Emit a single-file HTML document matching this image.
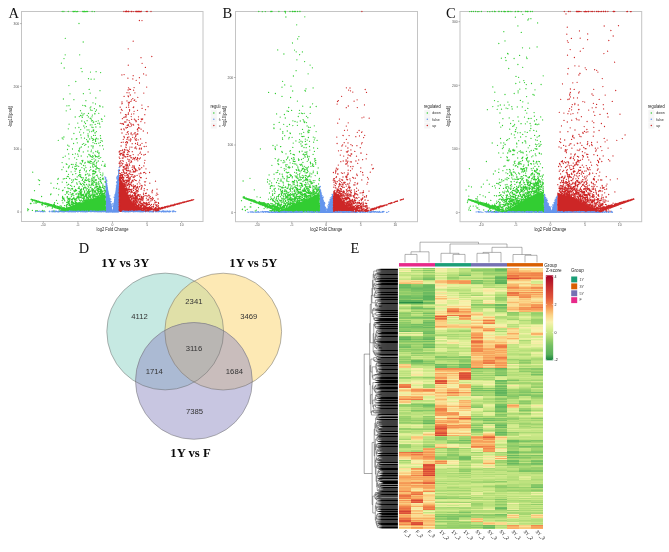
<!DOCTYPE html>
<html><head><meta charset="utf-8"><style>
html,body{margin:0;padding:0;background:#fff;width:669px;height:552px;overflow:hidden}
svg{display:block;font-family:"Liberation Sans",Arial,sans-serif}
</style></head><body>
<svg width="669" height="552" viewBox="0 0 669 552">
<rect width="669" height="552" fill="#fff"/>
<rect x="21.5" y="11.5" width="181.5" height="210" fill="none" stroke="#c4c4c4" stroke-width="1"/>
<path d="M105.5 212.6L105.5 177L112.5 210.8L119.1 167L119.1 212.6Z" fill="#6495ed"/>
<path d="M105.5 212L105.5 194L95.5 198L80.5 203L65.5 208L57.5 211.2L57.5 212Z" fill="#32cd32"/>
<path d="M119.1 212L119.1 176L123.1 183L127.1 193L131.1 201L137.1 207L143.1 210.2L147.1 211.2L147.1 212Z" fill="#cd2626"/>
<path d="M35.5 211.2h0m.1 .5h0m1.4-.4h0m.2 .1h0m1.4-.1h0m.9-.2h0m1.1 .6h0m.6-.6h0m.8 .4h0m.5 .1h0m.1-.4h0m.7 .6h0m.3-.5h0m1.4 .4h0m4.3-.2h0m0 .1h0m.1 0h0m.2-.3h0m.2 .4h0m.1-.3h0m1.9 .3h0m.1-.6h0m.4 0h0m.1 .6h0m.1 0h0m.4-.6h0m0 .7h0m.2-.3h0m.1-.1h0m.1 .1h0m.2-.4h0m.2 .1h0m.6 .6h0m.9-.7h0m.1 .7h0m.3-.6h0m.1 .2h0m.1 .3h0m.1 0h0m.4 0h0m.1-.2h0m.2-.4h0m.2 .3h0m1 .5h0m0 0h0m.1 0h0m.1-.1h0m.6-.6h0m0 .6h0m.1 0h0m.2 .1h0m1.2-.3h0m.1-.4h0m.3 .2h0m.3-.2h0m.3 .4h0m.1-.5h0m.2 .6h0m.3-.2h0m.1 .1h0m.3 .2h0m.1-.2h0m.1-.6h0m.4 .7h0m.1-.5h0m.1 0h0m.4 .2h0m.1 .2h0m.3-.4h0m0 .7h0m0 0h0m.1-.2h0m.1-.7h0m.4 .1h0m.1 .7h0m1.4-.3h0m.3 .2h0m.4-.3h0m.5 0h0m.5 .3h0m.2 0h0m.3-.2h0m.6 .3h0m.1-.1h0m.2-.3h0m0 .4h0m.3-.2h0m.2-.2h0m.1-.4h0m.3 0h0m.1 .7h0m0-.2h0m.1 .3h0m.4-.3h0m.1-.2h0m0 .3h0m.8-.3h0m.2 .5h0m0-.5h0m.1 .2h0m0-.1h0m.2 .2h0m.2 .3h0m.3-.7h0m0 .6h0m.2-.4h0m.4 .3h0m.3 0h0m.7 .2h0m.1-.7h0m.5 .4h0m.4-.2h0m0 .2h0m.5 .3h0m.5-.3h0m0-.2h0m1.1-.2h0m.6 .6h0m.2 0h0m.1-.1h0m.1-.5h0m.5 0h0m.1 .4h0m.4-.4h0m.3 .2h0m.6-.1h0m.8 .5h0m.4-.5h0m.1 .3h0m.3 .1h0m.2-.4h0m.2-.1h0m.9 .5h0m0 0h0m0-.3h0m.1 .5h0m.3-.1h0m.1-.6h0m.2 .4h0m.5 0h0m.9-.1h0m.2 .4h0m.2-.7h0m.6 .6h0m.1-.6h0m1 .6h0m.5-.7h0m.1 0h0m.1 .5h0m.4 0h0m1.3-.3h0m.5 .3h0m.4-.1h0m.1-.5h0m0 .4h0m.1-.3h0m0 .6h0m.3-.7h0m.6 .5h0m.2-.5h0m.4 .1h0m.1 .5h0m.8-.4h0m.5 .2h0m.2 .2h0m.1-.5h0m.1 .2h0m.2-.1h0m.1 .4h0m.1-.2h0m.1-.1h0m0-.2h0m.6 .1h0m.1 .6h0m0-.5h0m.4 .4h0m.4-.3h0m.4-.3h0m.9 .6h0m0 .2h0m.2-.1h0m.2-.5h0m.4 .4h0m.1-.2h0m.3 .2h0m0-.3h0m.1 .4h0m.5-.2h0m.7 .1h0m.1-.5h0m.1 .6h0m.2-.8h0m.8 .8h0m.8-.2h0m.1 .2h0m0-.4h0m.1-.2h0m0 .1h0m.1 .1h0m0-.2h0m.1-.2h0m0 .7h0m.5-.4h0m.7 .5h0m.2-.4h0m.3-.4h0m.3 .7h0m.2-.5h0m.1 .3h0m.1-.5h0m.2 .1h0m0 .5h0m.2-.5h0m.1-34.2h0m.2 34.8h0m.1-32.8h0m.3-1.3h0m.1 .9h0m.1 32.9h0m.1-.3h0m.1-28.5h0m0 28.8h0m0-33.6h0m.1 33.5h0m.1 .3h0m0 .2h0m.2-.4h0m.2 .3h0m0-27.9h0m.1 1.7h0m0 25.9h0m0-31.5h0m.1 .8h0m0 30.4h0m.1-29.8h0m.1 4h0m0 26.6h0m0-24.9h0m.1 .4h0m0-3.6h0m.1 28.1h0m.1-24h0m0 23.9h0m.4-20.6h0m.2 20.3h0m.2 .1h0m.1-.2h0m.7 .5h0m0-.5h0m.1-.4h0m.2 .1h0m.1 0h0m.1-12.3h0m.5 2.1h0m0-2.4h0m0-2.7h0m.3 15.4h0m.1 .3h0m.1-10.1h0m.3 10.2h0m.1-12.4h0m.2 5h0m.3-2.5h0m0 5.7h0m.1-1.1h0m.6-2.2h0m.1 1.5h0m.2 6.2h0m.1 0h0m.1 0h0m0-5.2h0m0 4.7h0m.2 0h0m.2 .6h0m0-.6h0m.1 .3h0m.1-8.1h0m.2 1.3h0m.1 4.6h0m.2 2.2h0m0-5.8h0m.1 5.7h0m.4 .2h0m.1-14.5h0m.5 2.1h0m.2-1.6h0m.1-.6h0m0 13.9h0m0 .6h0m0 0h0m.1-16.3h0m.1 16.6h0m0-17.5h0m.1 1h0m.1 15.7h0m1-23h0m0-2.3h0m.1 25.7h0m.1 .1h0m.1-29.3h0m.1-4.4h0m.1 33.6h0m.1-29.8h0m.1 30.1h0m0-32.7h0m0-2.2h0m0 1.1h0m.2 33.6h0m.1-.5h0m.3 .3h0m.2-35.1h0m0-.3h0m.3 35.6h0m0-33.4h0m.3-7.8h0m.2 1.4h0m0-.4h0m.3-.4h0m.2-3.7h0m.1 2.2h0m.3-2.3h0m0 44.1h0m0 .1h0m.2-44.4h0m2.4 44.3h0m.3 .4h0m.1-.4h0m.2 .3h0m.3-.5h0m.4 .5h0m.1-.4h0m0-.2h0m0 .3h0m.9-.2h0m.3 .7h0m.4-.2h0m.5 .2h0m.3-.7h0m.9 .7h0m.3-.6h0m.4 .4h0m.5 .2h0m.7 0h0m0-.2h0m.7-.4h0m.1 .4h0m.3-.3h0m.3 .2h0m.2 .1h0m.6-.1h0m.1 0h0m.2-.4h0m.8-.1h0m.4 .4h0m.3 .1h0m.1 .2h0m.2-.3h0m.1 .1h0m.4 .3h0m.3 0h0m.4-.1h0m.2-.1h0m.2-.3h0m.5 .2h0m.4-.4h0m.5 0h0m0 .2h0m0 .3h0m.8-.3h0m.3 0h0m.1 .4h0m0-.6h0m.6 .6h0m.1-.1h0m.3-.4h0m.2 0h0m.5 .5h0m.2 0h0m0-.5h0m.1 .2h0m.1-.4h0m.5 .6h0m.4 .3h0m.2-.8h0m.1 0h0m.2 .4h0m.1 0h0m0-.2h0m.1-.2h0m.2 .2h0m.1 .4h0m.3-.6h0m.1 .7h0m.2 .1h0m.4-.8h0m0 .5h0m.5-.4h0m.1 .2h0m0 .1h0m.3 .4h0m0-.6h0m.9 .1h0m.7-.4h0m.6 .7h0m.3 .1h0m.2-.1h0m.4-.6h0m.8 .2h0m1 .5h0m1-.5h0m.4-.3h0m.1 .3h0m0 .5h0m.5 0h0m.4-.6h0m.1 .3h0m.2 0h0m.2 0h0m.4 .3h0m.2-.1h0m0-.3h0m.4 .3h0m.5 .1h0m.3-.2h0m0-.4h0m.2 .2h0m.3 .4h0m.2-.8h0m.1 .9h0m0-.4h0m0-.4h0m.1 .5h0m0-.5h0m1.6 .1h0m.4-.2h0m.1 .8h0m.1-.8h0m.2 .6h0m.7-.1h0m0 .2h0m.1-.1h0m1.1 .2h0m.2 .1h0m.2-.7h0m.1 .4h0m.2-.5h0m.9 .4h0m.1-.3h0m0 0h0m.1-.2h0m1.2 .3h0m.1 .4h0m.4 0h0m.1 .2h0m0-.1h0m.1-.3h0m.5 0h0m.4-.2h0m.1-.1h0m.2-.2h0m.5 .2h0m0 .6h0m.2-.6h0m.3-.1h0m.4 .7h0m.4-.4h0m.1-.1h0m0 .4h0m.7 0h0m.1 .1h0m.2-.1h0m0 .1h0m0-.6h0m1.1 .6h0m.1-.1h0m.2-.7h0m.2 .3h0m.5 0h0m.2-.2h0m.3 .6h0m.5 .1h0m.3 0h0m0-.4h0m.1 .1h0m.1 0h0m.1 .1h0m.1 0h0m0-.5h0m.2 .5h0m0 .2h0m.1-.7h0m.1 .4h0m.1 .2h0m.6-.3h0m1.6-.3h0m.7 .8h0m.1-.6h0m.2-.3h0m0 .6h0m.7-.6h0m1.1 .6h0m.7 0h0" stroke="#6495ed" stroke-width="1.3" stroke-linecap="round" fill="none"/>
<path d="M27.6 209h0m.2 1.7h0m.8-1.4h0m1.8-5.8h0m.6 0h0m.1-3.9h0m0-.1h0m.1 0h0m0 .1h0m0-.1h0m.2 0h0m.1 .2h0m0 0h0m0-.1h0m.5 .2h0m.2-.1h0m0 0h0m.1 .2h0m.1 .1h0m0 1.2h0m0-1.3h0m0 10.5h0m.1-10.6h0m.2-27.6h0m0 27.9h0m0-.2h0m.2 .2h0m0 .1h0m.1-.2h0m.1-.1h0m.8 .7h0m.1 2.5h0m0-2.8h0m0-.1h0m.3 .1h0m.1 .3h0m.1-9.9h0m0 9.8h0m0 .2h0m0-.1h0m0-.3h0m.1 .4h0m.1-.2h0m0 .3h0m.4-.3h0m.1 0h0m0 0h0m.1 .4h0m.1 .2h0m.1-.4h0m0 2.1h0m.3-1.8h0m0-.3h0m.1 10h0m0-9.8h0m.1-.1h0m.1 .5h0m.1 .1h0m.1 1.7h0m0-1.8h0m.1-.4h0m.1 .1h0m.2 0h0m.1-.1h0m0 .4h0m.3 1.1h0m.1 8.2h0m0-9.4h0m.1 .5h0m0-.4h0m.2 .4h0m.1 0h0m.2-.3h0m0 0h0m.1 0h0m0 .4h0m.2 0h0m.1-.3h0m.1 .3h0m.1-22h0m.2 21.7h0m0-.1h0m0 .8h0m0 0h0m.1-.6h0m.1-.2h0m.3 .6h0m0-.3h0m0 .5h0m.1 .1h0m.1-17.7h0m.2 17.7h0m.1-21.8h0m.2 22h0m0-.9h0m0 .3h0m0 .4h0m.1 .2h0m0-.4h0m.6 .4h0m.2 .2h0m.6-.2h0m.1 .2h0m0 0h0m.2-6.2h0m.1 8.2h0m0-2.2h0m.1 .1h0m.2 .3h0m.1 1.2h0m.2-.8h0m.1-1h0m0 .9h0m.1-.4h0m.1 2.3h0m.1 5.3h0m0-7.9h0m.3 1h0m0 .1h0m0-.2h0m.1 .1h0m.1-.5h0m.1 .7h0m.2-.5h0m0-.1h0m.1 .3h0m.1-.2h0m.2 .3h0m.1 .2h0m0-.5h0m.1-.3h0m.2 8h0m0-7.8h0m.1 1h0m.1-.1h0m0-.8h0m.3 0h0m0 .6h0m.1-.1h0m.1-.4h0m.2-.3h0m0 1.3h0m.3-.7h0m0 .7h0m.1-.5h0m0 0h0m0 .2h0m.1 .4h0m.1-.7h0m0-.4h0m0 3.5h0m.3-3.4h0m0 .4h0m.4 .9h0m.1-.2h0m.2-1.1h0m.1 .1h0m.2 1.3h0m0 .1h0m0-.6h0m0 .4h0m.1-.4h0m.2 0h0m.2 .7h0m.2 .2h0m0 1.1h0m0 .2h0m.1-2.8h0m.1 .9h0m0 .7h0m.4-.2h0m.1-1.3h0m.1 1h0m.1-.2h0m.2 1h0m.1-.1h0m.1-1.7h0m0 .6h0m.2 .1h0m0 0h0m.3-.1h0m.1 .3h0m.2 1.1h0m.2-1.2h0m0 1.1h0m.1-1.2h0m.2 1.3h0m.2 0h0m0 0h0m0-11.1h0m.1 11.2h0m.1-1h0m.2-11h0m0 10.7h0m0-21.4h0m.4 21.9h0m0-.5h0m.2 1.4h0m0-.1h0m.1 .2h0m.1-1.3h0m.1 .6h0m.1-.2h0m.2 3.1h0m.1-2.7h0m0 2.2h0m.1-1.6h0m.3 .1h0m0 .4h0m0-1.1h0m0 1h0m0-.4h0m.1 0h0m0 .7h0m.1-1.5h0m.1 .4h0m.1-.8h0m0 1.3h0m0-1.2h0m.1 1.7h0m.1-1.8h0m.3 .6h0m0 1h0m0 .3h0m.1-1.3h0m0 1.1h0m.1-18.8h0m0 17.9h0m.2-.2h0m0 .9h0m.1-1.1h0m0 5.5h0m0-4.2h0m.1-2.7h0m.1 1.4h0m.1 1.6h0m0 .5h0m.1-.3h0m0-1.7h0m.1-2.9h0m0 2.9h0m.3 1.2h0m.1-.2h0m.3-.6h0m0 .1h0m.3 0h0m.1 1.9h0m0-.3h0m.1-.9h0m0 .9h0m.1-1.6h0m.3 2h0m.1-.7h0m0 .5h0m.1-19.5h0m.1 12h0m.5 6.6h0m0-.8h0m.3 2.2h0m.2-24.6h0m.1 19.6h0m0 4.9h0m.1-.9h0m0-.3h0m0-.7h0m.1 1.6h0m.1-.1h0m0-28.5h0m.1 28.4h0m0-.7h0m.1 .1h0m.1 1.4h0m0-1.8h0m0-28.3h0m.1-38.1h0m0 67.5h0m.2-13h0m.4-5.6h0m0 19.3h0m0-1h0m.1 .2h0m0-.9h0m.2 0h0m0 2.2h0m0-1.9h0m0-.5h0m.2 .6h0m0 .9h0m.1 .5h0m.1-.2h0m0-.3h0m.2 .5h0m.1 .7h0m.2-1.4h0m.1-2.1h0m.1 3.2h0m.1-1.6h0m0 .4h0m.5 .8h0m0-1.3h0m.5-144.1h0m0 143h0m.1 2.4h0m0 .8h0m.1-.8h0m.1 1.3h0m0-.1h0m.2-40.1h0m.1 40.3h0m.1-47.4h0m0 46.3h0m0-1.4h0m.1-25.4h0m0 25.8h0m0-7.4h0m0-62.5h0m0-126.5h0m.1 196.5h0m0 1.2h0m.1-.6h0m0 1.5h0m.1-12.4h0m0-7h0m0 6.7h0m.1-.9h0m.1 12.7h0m.1-.5h0m0-10h0m.1 4.1h0m.1 5.1h0m.1-50.5h0m0-18.3h0m0 51.1h0m0 19.8h0m.2-2.3h0m0-28.8h0m.1 20.3h0m0-100.2h0m0 110.2h0m0-42.1h0m.1 42.1h0m0-11.1h0m.1 10.2h0m.1 .1h0m.1-9.9h0m.1-187h0m0 125.5h0m.1 61.1h0m0-139.5h0m.1 152h0m.1-142.6h0m.1 139.7h0m.2-2.1h0m0-5.6h0m.1 8.8h0m.1-.7h0m0 .4h0m0-29.9h0m.1 9h0m0 22.2h0m0-9h0m.1 7.9h0m.3-14.1h0m0-139.8h0m.1 101.3h0m0-117.8h0m.1 172h0m.8-4.6h0m0-94.9h0m0 53h0m.2 7.3h0m0 7.3h0m0 28.7h0m.1-1.7h0m.1-34h0m0 21.6h0m0-10.5h0m.1 9.1h0m0 10.8h0m.1 4h0m0-1.3h0m0-.8h0m.1-98.5h0m0 58.6h0m0 43.1h0m.2-10.6h0m.1 5.6h0m0-17.4h0m.1 7.7h0m0-16.5h0m.1 28.3h0m0-6.7h0m.1-1.3h0m0-47.1h0m.2-4.3h0m.2 55.8h0m0-1.2h0m0-11.8h0m.2 12.9h0m0 3.1h0m0-12.5h0m.1-180h0m.1 117.3h0m0 59.8h0m0 10.2h0m0-22.1h0m.1 24.8h0m0 1.2h0m0 .9h0m0-35.8h0m.1 30.6h0m0-24.1h0m.1 10.1h0m.1-.1h0m0 10h0m0-40.4h0m.1 48h0m0-34.9h0m.1-81.4h0m.1 119.9h0m0-2.9h0m0-56.4h0m0-40.5h0m.1 18.5h0m0 34.6h0m.1 40.6h0m.1 3.7h0m0-37.2h0m.1 38.9h0m.1-.6h0m.1-4.2h0m0 1.2h0m.1-22.7h0m0 19.9h0m0-9.8h0m.2 16.5h0m.1 .1h0m0-111.4h0m.1 111.6h0m.1-7.2h0m.1-5.5h0m0 12.9h0m0-96.4h0m.2 76.1h0m.2 4.8h0m.2 16.3h0m.1-6.6h0m.1 3h0m0-31h0m.1 33h0m0-10.1h0m.1 9.2h0m.1-7.4h0m0-32.1h0m.1 35.3h0m0 6.9h0m.1-1.8h0m0-3.3h0m.1-15.3h0m0 2.4h0m0 11.1h0m0-17.1h0m.1 20.1h0m0-63.7h0m0 41h0m0 24.3h0m0 .3h0m.4-5.6h0m.1-5.5h0m0 1.4h0m0-.3h0m0-5.4h0m.1 13.3h0m0-1.3h0m.1-1.5h0m0 4.4h0m0-55.1h0m0 18.2h0m.1 21.1h0m0 16.4h0m.1-30.2h0m0-20.1h0m.1 49.7h0m0-22.3h0m.1 24h0m0-.3h0m.1-41h0m0 39.6h0m0-192.6h0m.1 192.2h0m.1-5.2h0m.1 3.8h0m0 1.9h0m.1-192.6h0m0 182.2h0m.1-13.8h0m.1-36.5h0m.2 52.2h0m0 7.3h0m.1-103.3h0m0 98h0m0-64.2h0m.1-122h0m0 194h0m0-15.1h0m.1-178.8h0m0 186.8h0m.1-6.7h0m0 13.5h0m0-1.9h0m.2-16.8h0m0 13h0m.2-41.7h0m0 41.2h0m.2 .8h0m0 3.7h0m0-35h0m0 23.1h0m.3-25.2h0m0-154.9h0m0 189.6h0m0 .2h0m0-30.1h0m.1 30.5h0m0-190.2h0m0 105.5h0m.1 61.9h0m0 12.2h0m0 8.8h0m.1 3.8h0m0-49.9h0m0-26h0m0 63.2h0m0 13.3h0m0-14.4h0m.1 14.6h0m0-1.8h0m.1-3.7h0m.1-9.6h0m.1-107.9h0m0 97.8h0m0-14.9h0m0 37.4h0m0-28.2h0m.1 26.2h0m0-30.4h0m0 24.8h0m.3-28.3h0m0-26.8h0m.1 23.7h0m.1 31.2h0m0-3.3h0m0 11.8h0m0 .4h0m0-.6h0m0 2.1h0m0-35.7h0m.1 31.5h0m0 2.7h0m.1-4.6h0m0 5.6h0m0-13.3h0m0-178.9h0m.1 171.2h0m.1 17.3h0m0-40.9h0m0-20.6h0m.1 58.4h0m.1-17.5h0m.1 18.3h0m0-32.1h0m.1 37.9h0m0-19.5h0m0-7.3h0m.1-34.1h0m.1 61.2h0m.1 0h0m.1-7h0m.1 6h0m0-191.5h0m0 .1h0m0 142.6h0m.1-31.1h0m0 80.7h0m.1-.6h0m0-10.1h0m.1 3.7h0m0-.5h0m.2 1.4h0m0-9.3h0m.1 6.3h0m0 .6h0m0-39.1h0m0 41.6h0m.1 5.6h0m0-9.7h0m.1 .6h0m0 9.3h0m0-15.4h0m0 14.7h0m0 .8h0m.1-28h0m0 27.8h0m.1-52.9h0m0 15.7h0m0 31.1h0m.1 .6h0m.1-1h0m0-69.5h0m.1-104h0m0 151.8h0m0 23.9h0m0-1.6h0m.1-47h0m0 45.9h0m0 7.3h0m0-16.8h0m.1-5.3h0m0 9.8h0m0-39.9h0m0 52.1h0m.1-16.8h0m0 15.4h0m0-85.7h0m0 81.1h0m.1 5h0m0-53.7h0m0 39.6h0m.1 14.4h0m.1-32.3h0m0 29.7h0m0-28.1h0m0-40.2h0m.1-77.3h0m0 119.6h0m.1 19.1h0m0-21.1h0m.1 22.2h0m.1 .3h0m0-18.6h0m0-28.5h0m0 55.6h0m.1-10.6h0m.1-.6h0m0-29h0m0 20h0m.2 17.9h0m0-11.4h0m0-19.6h0m0 27.2h0m.1-6.6h0m0 12.5h0m0-19.2h0m0-68.5h0m0-4.8h0m.1 80.3h0m0 2.5h0m.1-18.5h0m0 1.7h0m0-47.1h0m.1 67.2h0m0-61.8h0m.1 67.6h0m0-9.7h0m0 8h0m.1-3.8h0m0 5.5h0m.1-12.9h0m0-121.3h0m.1 129.3h0m0-2.7h0m0-17.5h0m0 18.2h0m0-39.7h0m.1 38.4h0m0-47.4h0m0-9.2h0m.1 62.4h0m0-36.2h0m0 20.5h0m0 8.4h0m.1 .2h0m0-4.2h0m.1 7h0m0-5.9h0m.1 1.8h0m0 3.2h0m.1-74h0m0-7.8h0m0 78.4h0m.1-24h0m0-51.7h0m0 44.7h0m0 31.2h0m0 3.3h0m.1-17.5h0m0 17.9h0m.1-123.8h0m0 126.3h0m.1-17.6h0m0 14.6h0m.1 .3h0m0-77.9h0m.1 26.9h0m0 41.8h0m.1-24.2h0m.1-.6h0m0 18.1h0m0 22.5h0m0 0h0m.1-190.4h0m.1 93.8h0m0 95.7h0m.1-40.7h0m0 34h0m0-10.9h0m0 12.2h0m0 6.4h0m.1-87.1h0m.1 80.4h0m.1 3.3h0m0-156.6h0m.1 109.9h0m0 45.9h0m0-2.1h0m0-184.2h0m.1 166.4h0m0-84.2h0m0 95.4h0m.1-177.5h0m0 187.3h0m0-3.7h0m0-29.7h0m0 24.2h0m0-1.3h0m.1-3.7h0m0 3.1h0m0-55h0m.1 67.1h0m0-56.3h0m0 38h0m.1-55.6h0m0 70.8h0m.1-2.7h0m.1 4.4h0m0 2.4h0m.1-87.2h0m0 54.9h0m.1 31.8h0m0-12.6h0m0 11.8h0m0 2.5h0m.1-.8h0m.1-189.8h0m.1 126.7h0m0 53.7h0m0-9.4h0m0-12.5h0m0-48h0m.1 75.8h0m.1-52.5h0m0 51.2h0m0 1.6h0m0-7.1h0m0 1.8h0m0-7.8h0m0-57.2h0m0 59.4h0m0-175.7h0m0 189h0m.1-18h0m0-19.3h0m.1 37.8h0m0-95.4h0m0 75h0m.1 15.7h0m.2-17h0m0-17h0m0 3.5h0m.1-154.1h0m0 183.7h0m0-8.3h0m.1-12h0m.1-51.6h0m0 51.2h0m.1 5.5h0m0 15.9h0m0-89.9h0m0 95.3h0m.1-1.1h0m0-6.2h0m0 5.6h0m.1-11.8h0m0-43.6h0m.1-43.7h0m0 66.9h0m0 26.3h0m0-19.4h0m0 20.7h0m.1 4.7h0m0-28.1h0m.1 16h0m0 13.7h0m0-24h0m0 .2h0m.1 23.1h0m0-1.1h0m.1-3.2h0m0 2.3h0m0-20.7h0m.1 11.9h0m0-178.5h0m0 115.1h0m.1 68.6h0m0-14.6h0m0 15.9h0m0-25.7h0m.1 13.7h0m0 10.1h0m0 3.2h0m0-58.2h0m.1 53.6h0m0 3.4h0m0-.5h0m0 1.2h0m.1 3.2h0m.2-5.9h0m.1-64.7h0m0-9.2h0m.1 71.1h0m0-3.3h0m0-73.1h0m.1 84.5h0m0-20h0m.2-6.1h0m0-17h0m0-15.6h0m0 59.1h0m.1-3h0m0-185.8h0m0 188.3h0m0-6.6h0m.1 7.1h0m0-1.6h0m.2-37.5h0m0 38h0m0 .9h0m0-49.1h0m.1 35h0m0-43.8h0m0-8.4h0m.1 28.6h0m0 28.8h0m0 6.6h0m0-62.3h0m0 56.4h0m0 8.2h0m0 .3h0m.1-59.2h0m.1-4.3h0m0 24.7h0m0 38.6h0m0-4.4h0m.1-78.9h0m0 30h0m0 46.8h0m0-3.9h0m0-9.7h0m.1-101.4h0m0 34.7h0m0 85.8h0m0-3.2h0m0 3.7h0m.1-9.2h0m.1-3.4h0m0 2.9h0m0-14.2h0m.1 3h0m0 16.3h0m.1-2.4h0m0-38.2h0m0 27h0m0 16.6h0m0-68.2h0m.1 49.7h0m0 4.6h0m0 15.9h0m0-.6h0m.1-25.3h0m0 15h0m0 7.7h0m.1-.7h0m0-4.4h0m0-102.4h0m0 73.4h0m.1 30.1h0m0 6.8h0m.1-5h0m.1-2.7h0m0-6.8h0m.1-3.7h0m0-49.7h0m0 38.9h0m.1 22.6h0m0-2h0m0-28.8h0m0-23.5h0m.1 55.9h0m.1-3.4h0m0-30.4h0m.1-5.9h0m0 20.1h0m0 24.9h0m.1-8.8h0m0-83.5h0m.1 10.7h0m0-25.5h0m.1 25.1h0m0 78.2h0m0 3.1h0m0-74.6h0m0 31.1h0m0 41.4h0m0 2.4h0m.1-38.4h0m.1-89.3h0m0 115.2h0m0 7.8h0m0-33.7h0m0-51.5h0m0 57.3h0m0 29.6h0m0-1.1h0m0 .1h0m.1 .8h0m.1 2.8h0m0-2.3h0m0-1.1h0m0 1.8h0m.1-28.2h0m.1-6.2h0m0 23.9h0m0-80.5h0m0 80.3h0m.1 11.8h0m0-13.7h0m.1-33.5h0m0 33.5h0m0-106h0m0 111.6h0m.1 8.2h0m.1-53.2h0m0 10.9h0m0 23.3h0m0 15.3h0m.1-58.4h0m0 52.1h0m0-7.2h0m0-62.7h0m0 31h0m.1-29.2h0m0 40.7h0m.1 33.4h0m0-10.3h0m0 10.2h0m.1 3.9h0m.1-71.7h0m0 51.2h0m0-46.8h0m.1 63.3h0m0-11.4h0m.1-45h0m0-21.6h0m0-6.4h0m0 14.4h0m0 34.6h0m.1-147.9h0m.1 188.1h0m0-14.9h0m.1 8.5h0m0-2.9h0m0 1.4h0m0-13.6h0m0-20.8h0m.1 23h0m0-.5h0m0-64.7h0m.1 67.9h0m0 7h0m.1-1.3h0m0-68h0m0 45.3h0m0 8h0m0 17h0m.1 8.2h0m0-43.5h0m0 15.2h0m0 25.4h0m0-56h0m0 57h0m.1-2.2h0m0-4.9h0m0 2.1h0m0 4h0m0-33.3h0m0 13.1h0m.1 4.5h0m0 13.7h0m0-46.4h0m.1-2h0m0-3.3h0m0-15.1h0m0 11.3h0m0 57.2h0m0-31.6h0m0-61.6h0m0 82.2h0m.1-13.3h0m0 23.1h0m0-48.3h0m0-16.3h0m0 60.1h0m.1 8.7h0m0-17.4h0m0-59h0m0 34.1h0m0 26.5h0m0-16h0m0-14.3h0m.1 20.7h0m.1 16.1h0m0 9.5h0m0-21.5h0m.2-42.3h0m0 35.2h0m0-39.6h0m.1-1.1h0m0-8h0m0 17.8h0m0 56.2h0m0-10.6h0m0 10.1h0m.1 1.5h0m0-26.6h0m.1 23.6h0m0-14.8h0m0-16.3h0m0 35.1h0m.1-23.8h0m0-15.3h0m0 32.4h0m.1-10.1h0m0 12.8h0m0-15.9h0m0 4h0m.1 16.5h0m0-6.3h0m0-27.9h0m0-85.2h0m.1 82.2h0m0 12.2h0m0-2.2h0m.1-159.7h0m0 179.7h0m0-82.7h0m.1 82.5h0m0 .7h0m0 4.1h0m.1-7.7h0m0-27h0m.2-47.3h0m0 62.9h0m0-10.8h0m0-22.7h0m0 51.4h0m0-39.6h0m.1-41.6h0m0 77.4h0m0-24.8h0m.1-33.1h0m0 62.4h0m0-29.6h0m0 30.5h0m.1-9.1h0m0-7.1h0m0 10.1h0m0-7.6h0m0 5.2h0m0-55.1h0m0 63.9h0m.1-72.2h0m.1 67.7h0m.1-56.8h0m0 37.5h0m0-33.3h0m.1 17.3h0m0 14.6h0m0 12.7h0m0-43.9h0m0 15.7h0m0 10.4h0m0-55h0m0 80.1h0m0-87.5h0m.1 94h0m0-1.5h0m0-55h0m.1 18.6h0m0 32.3h0m.1-23.2h0m0 29.1h0m0-46.7h0m0-53.6h0m.1 99.9h0m0-3.8h0m0-67h0m0 52.6h0m.1 5h0m0-3.9h0m0-8.8h0m0 14h0m0-16.6h0m.1-47.9h0m0-49.7h0m.1 108h0m0 14.3h0m.1-55.3h0m0 25.1h0m0-25.6h0m.1 27.8h0m0 9.3h0m0 11.9h0m0-55.6h0m.1-21.6h0m0 86.5h0m0-10.3h0m0-42.6h0m.1 53.2h0m0-40.2h0m0 32.5h0m.1 4.1h0m0-9.1h0m0-21.6h0m0 20.2h0m.1-14.7h0m0-.7h0m.1 16h0m0 .2h0m.1 6.8h0m0 6.9h0m.1-10.2h0m0 9.4h0m0 .4h0m.1-2h0m.1-1.5h0m0-18.1h0m.1 19h0m0 2.7h0m0 .8h0m.1-45.5h0m0 36.4h0m0-20.4h0m.2 20.4h0m0-2.3h0m0 4.4h0m0-33.8h0m0 19.9h0m0 12.2h0m.1-65.7h0m0 67.2h0m0-39.5h0m0 40.1h0m.1-.1h0m.1-52.1h0m0 58.2h0m.1-.9h0m0-7.4h0m0 2.8h0m.1-1.4h0m0 2.5h0m0-31.5h0m0 23.5h0m.1 12h0m0-35.7h0m0-40.2h0m.2 61.2h0m0 6.1h0m.1-19.4h0m.2-55.4h0m0 29.9h0m0 53h0m0-17.4h0m0-.6h0m0 13.2h0m0 1.6h0m.1-36.6h0m0 39.2h0m0 1.2h0m0-13.3h0m0 5.9h0m0-36h0m0 43.3h0m.1-44h0m0 2.4h0m.1 32.7h0m0-16.9h0m0-12.5h0m0 37.4h0m.2-72.7h0m0 65h0m0 5.6h0m0-7.1h0m.1 6.7h0m.1 1.2h0m0 1.1h0m.1-9.1h0m.1-62.4h0m0 61h0m0 6h0m.1-22.2h0m0-63.3h0m.1 90.1h0m0-50h0m.1-39.2h0m0-15.8h0m0 90.4h0m.1 6.5h0m0-60.6h0m0 52.4h0m0 11.9h0m0-18.7h0m0 16.9h0m.2 6.1h0m0-6.5h0m.1-53.4h0m0 41.9h0m0 13.9h0m0-49.1h0m.1 49.5h0m0-4.9h0m0 3h0m0 3.2h0m0-11.6h0m.1-109h0m0 120.2h0m0-54.4h0m0 36.3h0m0 19h0m0-6.1h0m.1-49.2h0m0 43.3h0m0-24.1h0m.2 22.4h0m.2 14.9h0m0-1.3h0m0-2.7h0m0-50.3h0m.1 53.7h0m0-5.2h0m.1-6.1h0m0 12.8h0m0-3.4h0m.1-9.8h0m0-63.6h0m0 75.1h0m.1-10.9h0m0 12.8h0m.1-30.9h0m0 24.7h0m0 1.4h0m.1 2.5h0m.1-2.2h0m.1 3.9h0m.1-76.1h0m.1 56.5h0m0 19.2h0m0-4.1h0m0-69.6h0m.1 66.1h0m.1 8.3h0m.1-54.6h0m.1 37.4h0m.1-32.8h0m0 47.1h0m0-6h0m0 7h0m.1-14.6h0m.1-72.3h0m0 80h0m0-25.5h0m.1 22.7h0m0-11h0m0 12.3h0m0 6h0m0-16.6h0m0 20.7h0m0-.4h0m.1-.7h0m.1-.6h0m0-.3h0m.1-13.9h0m0 8.2h0m.1-9.6h0m.2-29.1h0m.2 45h0m.1-5.7h0m.3 2.1h0m.1 2.6h0m0-4.5h0m.1 .4h0m0-22.8h0m0 20.3h0m.1-20.9h0m0 25.1h0m.2 2.3h0m0 .8h0m0-77.7h0m0 77.4h0m.3 8.5h0m0 2.7h0m.1 1.6h0m0-19.2h0m0 21.3h0m0 1.1h0m0-45.3h0m.1 37.7h0m0 7.9h0m.1-7.8h0m0-19.7h0m0 21.1h0m0-11.5h0m0 16.1h0m0-16.9h0m0-9.7h0m0 25.3h0m.1 3.8h0m0-13.9h0m0 12.3h0m0-4.3h0m0-17.8h0m0 3.7h0m.1-24.3h0m0 36.2h0m0 1.3h0m0 .6h0m0 4.1h0m0-1h0m0-6.3h0m0-9.2h0m.1 5.4h0m0 4.3h0" stroke="#32cd32" stroke-width="1.3" stroke-linecap="round" fill="none"/>
<path d="M119.1 202.9h0m0-51h0m0 40.5h0m0 14.1h0m0-3.6h0m0 3.5h0m0-6.4h0m0-10h0m0 18.9h0m.1-11.9h0m0 9.5h0m0 1.1h0m0 1.4h0m0-6.8h0m0 7.8h0m0-16.3h0m0-36.6h0m0 47.4h0m0-41h0m0 32.8h0m0 13.2h0m0 .8h0m0-3.7h0m0-26.6h0m0 16h0m.1 14.7h0m0-1.8h0m0-10h0m0 4h0m0-.3h0m0-1.8h0m0-21.1h0m0 29.2h0m0-2.7h0m0 2.7h0m0-7.9h0m.1 5.8h0m0-13.8h0m0 17.8h0m0-23.7h0m0 12.1h0m0-8h0m0-18h0m0 15.2h0m0 1.2h0m0-25.8h0m0-1.7h0m0 43.6h0m.1-19.5h0m0 8h0m0 14.6h0m0-2.6h0m0 .1h0m0-22.2h0m0 9.2h0m0-6.6h0m0 9.1h0m0-16.8h0m0-8.4h0m0-19.4h0m0 43.9h0m0 14.4h0m0 .2h0m0-1.7h0m0-15.1h0m.1 8.2h0m0-20.7h0m0 20.8h0m0 4.8h0m0 4.8h0m0-4.3h0m0-23.2h0m0 23h0m0-6.5h0m0-.3h0m0-21.7h0m0 27.9h0m0 4.4h0m.1-13.9h0m0 6.3h0m0-1.2h0m0-47h0m.1 22.8h0m0-18.7h0m0 17.1h0m.2-22.4h0m0 13.5h0m.1-.9h0m.1-58.5h0m0 71h0m.1-1.8h0m0-53.1h0m.2 52.1h0m0-1.8h0m0-12.4h0m0 16.4h0m0-16.8h0m.1-5.9h0m.1-42.1h0m.1 51h0m0 10.9h0m0-24h0m0 26.8h0m0 .7h0m.1-24.6h0m.2 9.1h0m0-16.7h0m.1-16.8h0m.1 13.2h0m0-12.9h0m.1-20.2h0m.1 69.3h0m0-.8h0m.1 .1h0m0-24.4h0m.1 22.3h0m0-10.2h0m.1 7h0m0-48.9h0m0-19.9h0m0 77.3h0m.1-6.6h0m0-99.6h0m0 99.8h0m.1-72.7h0m0 31h0m0 39.7h0m.1 2.6h0m0-14.7h0m0-50.3h0m.1 66.5h0m0-73.2h0m0 20.2h0m.1 26.8h0m0 7.5h0m.1 21.4h0m0-15.5h0m0 13.7h0m0-59h0m.2 56.5h0m0-25.4h0m.1 26.5h0m.1-21.8h0m0 1.1h0m0 14.3h0m.1 7.5h0m0-14.1h0m0-10.5h0m.1 25.9h0m0 1.8h0m.1-.3h0m0-13.4h0m0-8.8h0m0-34.6h0m0 54.8h0m0 3.7h0m.1-.6h0m0-6.9h0m0-4.2h0m0-28h0m0 13h0m.1 22.3h0m0 6.3h0m0-22.6h0m0 8.7h0m0-30.6h0m.1 42.6h0m.1 2.3h0m0-16.6h0m0-43.2h0m.1 47.8h0m0 11.8h0m0-3.2h0m.1-.9h0m0-25.8h0m0 13.1h0m0 4h0m0 9.5h0m.1 2.9h0m0-3.4h0m0-51.3h0m.1-11.4h0m0-106h0m0 155.1h0m.1-30.1h0m0 14.8h0m0 26.5h0m0-25.6h0m.1 4.5h0m0-1.4h0m0-58.9h0m0-21.8h0m.1 111.3h0m0-30.8h0m.1 13.9h0m0-39.2h0m0 22.7h0m0 28.9h0m.1-43.7h0m0 46.8h0m.1-33.4h0m0-1.6h0m0 36.9h0m.2-64.4h0m0 66.4h0m0-14.9h0m.1 9.5h0m0 5.3h0m.1-21.4h0m0 5.8h0m0 8.2h0m0-5.4h0m.1 9.1h0m.1 1.8h0m0-3.9h0m0-6.6h0m0-59.1h0m0 67.9h0m0 .7h0m.1 4.2h0m.2-20.9h0m0-12h0m0 8.3h0m.1 24.5h0m0-1.1h0m0-176.9h0m0 0h0m0 103.2h0m0 54.4h0m0 20.7h0m.1-73h0m0 73.7h0m.1-.1h0m0-48h0m.1 14.7h0m0 28h0m0 5.6h0m0-43.6h0m0 33.1h0m.1 7.8h0m0-60.7h0m0-5.3h0m.1 28h0m0 19.2h0m0 21.2h0m.1-56.1h0m0 52.4h0m0-6.5h0m0 2.7h0m0 .7h0m0 7.4h0m0-4.3h0m0-42.5h0m0-132.7h0m.1 105.4h0m0 11.1h0m0 61.8h0m0-42.2h0m0 21.2h0m0 4.7h0m0-28.3h0m.1-30.2h0m0-103.5h0m.1 157.3h0m0 20.1h0m0-81.6h0m0 63.2h0m.1 .2h0m0-5.9h0m0-2h0m0-151.3h0m0 166.1h0m.1 3.4h0m0 7.8h0m0-16.1h0m0-31.1h0m0 23.6h0m0-153.7h0m.1 154h0m0 .6h0m0 16h0m.1 5.9h0m0-3h0m0-17.3h0m.1 7.8h0m0-10.2h0m0-10.9h0m0 27.9h0m.1-89.6h0m0 46.7h0m0-38.5h0m0 19h0m.1 44.3h0m0 25.8h0m0-4.7h0m0-65.7h0m0 60.9h0m.1-15.4h0m0-8.8h0m0-30.9h0m0 65.4h0m0-1.7h0m.1 1.9h0m0-20.2h0m0-38.4h0m0 56.4h0m.1-45.9h0m0 31.6h0m0-42.2h0m0 59h0m0-13.9h0m.1-35.2h0m0 35.3h0m0-40.1h0m0 55.9h0m0-65.9h0m0 64.8h0m.1-6.6h0m0 4.1h0m0 .6h0m0 2.4h0m0-42.5h0m.1 41.8h0m0-32.9h0m0-6.4h0m0 12.8h0m0-27.6h0m0 42.2h0m.1 4.1h0m0 9.1h0m0-11.9h0m0-169.8h0m.1 145h0m0 29.1h0m0-107.5h0m.1 116.6h0m.1-98.8h0m0 81.1h0m0 18.9h0m0-64.4h0m0-120.1h0m0 78.5h0m0 78.7h0m0-14.2h0m.1-30h0m0 26.5h0m0-139.5h0m0 102.9h0m0 52.6h0m0-118.2h0m0 121.5h0m.1-105.1h0m0 115.3h0m0 9.6h0m0-87.3h0m0 72.3h0m0-41.1h0m0 42.1h0m.1-63.1h0m.1 68.2h0m0-84.5h0m0 86.8h0m0-57.8h0m0-37.9h0m0 104.2h0m0-41.2h0m.1 25.3h0m0 7.1h0m0-5h0m0 5.8h0m0-79h0m0 84.5h0m.1-82.3h0m.1-95.5h0m0 176.3h0m0-7.7h0m.1-6.7h0m0-162.1h0m0 184h0m0-34.1h0m0-1.5h0m0-23h0m.1 60.1h0m0-185.4h0m0 128.4h0m0 33.7h0m0 5.6h0m.1-86.5h0m0 78.2h0m0 13.5h0m0 3.3h0m0-84.8h0m0 76.2h0m0-77h0m0 18.4h0m.1 63.2h0m0 .2h0m0-32.3h0m.1 12.3h0m.1-61.4h0m0 79.4h0m0-1.7h0m0 10.8h0m.1-4.5h0m0-.4h0m0-13.1h0m0 16.3h0m0-33.5h0m0-46.2h0m0 39.4h0m0-59.9h0m0 21.9h0m.1 48.7h0m0 24.8h0m0-19.4h0m0-55.2h0m0 85.5h0m0 3.6h0m.1-76.6h0m0 76.3h0m0-20.8h0m0 13.6h0m.1 5.9h0m.1-2.6h0m0-5.6h0m0-10.1h0m0-32.1h0m.1-20.5h0m.1 68.5h0m0 0h0m0-15.8h0m0 20.4h0m.1-22.5h0m0-14.6h0m.1 8.3h0m0-15.1h0m0 22.3h0m0-83.1h0m0 79.3h0m.1-33.3h0m0 48.9h0m0 10.5h0m.1-5.4h0m0 1.6h0m0-107.2h0m.1 66.5h0m0-17.1h0m0 57.5h0m0-6.5h0m.1-34.1h0m0 28.8h0m.1 5.4h0m0-6h0m0 16.8h0m0-7.9h0m0-8.9h0m.1 .8h0m0-83.3h0m0 22.2h0m0 48.5h0m0-14.4h0m.1-23.8h0m0 5.8h0m0 42.6h0m0 15.4h0m.1-186.2h0m0 185h0m0-4.5h0m0-8.2h0m0-22.8h0m.1-28.1h0m0-8.3h0m0-8h0m0 0h0m.2 79.9h0m0 2h0m0-13h0m0 12.3h0m.1-98h0m0 91.3h0m0-77h0m0 47h0m0 30.3h0m.1 .8h0m0-34.4h0m0-38.5h0m0 42.7h0m0 37.4h0m0-73.6h0m.1 50.5h0m0 14.9h0m.1-16.5h0m0 26.3h0m0-11.5h0m0-7.2h0m0 18.7h0m0-11.6h0m.1-42.2h0m0-135.7h0m0 189.9h0m0-19.8h0m.1 7.5h0m0 6.2h0m0-14.3h0m.1 5.2h0m0-18.9h0m0 28.8h0m.1-61.3h0m0 8.9h0m.1 8h0m.1 40.4h0m.1 2.8h0m0-14.4h0m0-11.1h0m.1 25.9h0m0 2.7h0m.1-2.1h0m0 3h0m0-24.2h0m0 27.9h0m0-65.3h0m0 28.6h0m0 29.2h0m.1-35.8h0m0-60.6h0m0-19.8h0m.1 117.7h0m0-.4h0m0-16.1h0m.1 22.8h0m.1-5.7h0m0 6.2h0m0-31.3h0m0-47.6h0m0 73.4h0m.1-122.2h0m0 101.5h0m0-22.6h0m0 45.7h0m0-28.2h0m0 29.4h0m0-3.3h0m0-157h0m.1 143.8h0m0-27.2h0m0 19.2h0m0 4.1h0m0-10.1h0m0-63.5h0m.1 85.3h0m0 6.1h0m0 4.9h0m.1-15.9h0m0-1.3h0m0 1.7h0m0 2.1h0m.1-100.2h0m0 113.8h0m0-17.1h0m0-61.8h0m.1-113.5h0m0 95.3h0m.1 60.9h0m0 34.7h0m0-88.7h0m.1 52.3h0m0 22.6h0m.1 15.7h0m0-26.9h0m0-19h0m0 42h0m0-1.9h0m0-64.7h0m0 68h0m0-8.5h0m.1-21.5h0m0 21.3h0m0 4h0m0-109.6h0m0 78.2h0m0-54.5h0m.1-10.9h0m0 103.4h0m.1-8.4h0m0-23.8h0m0 31.9h0m.1-23.8h0m0 24.9h0m0-36.6h0m0-48.8h0m0 79.5h0m.1-4.8h0m0-1.5h0m0-5.5h0m0-15h0m0-4.9h0m0 9h0m0 10.3h0m.1 12.9h0m0-.8h0m.1 3.7h0m0 2.3h0m0-104.6h0m0 86.3h0m.1 6.7h0m0-24.4h0m0 36.1h0m0-9.5h0m0-62.2h0m0 25.5h0m0 1.5h0m0-21.8h0m.1-45.2h0m0 55.1h0m0 53h0m.1-29h0m.1 26.2h0m0-49.8h0m0 50.4h0m0-3.8h0m0-1.4h0m0 4.1h0m0 6.6h0m.1-10.2h0m0-25h0m.1-29.3h0m0 62.7h0m0-26.3h0m0 27.5h0m0-33.5h0m0-49.9h0m.1 65.5h0m0-52.9h0m0 63.6h0m.1 7.4h0m0-46.3h0m0-14h0m0 45.7h0m0 10.5h0m0 2.4h0m0-6.4h0m0-9.5h0m.1 7.2h0m0-13.1h0m0-43.7h0m.1-.8h0m0 60.9h0m0-2.5h0m0 5.8h0m0 6.2h0m0-35.1h0m0 20.7h0m0-180.3h0m.1 191.1h0m0-55.6h0m0 52.6h0m0 .7h0m0-2.7h0m0-27h0m.1-34.9h0m0 64.9h0m0-31.1h0m0 28.6h0m.1 6.8h0m0-103.6h0m0 20.4h0m0 12.9h0m.1 62.6h0m0-.6h0m0-9.3h0m0 14.8h0m.1-121.8h0m0 118.5h0m0-58.4h0m0 49.4h0m0-9.2h0m0 17.9h0m0 4.7h0m.1-1.2h0m0-81.1h0m0 70.3h0m.1 4.9h0m0-184.6h0m0 127.3h0m0 65.6h0m.1 1.1h0m0 .6h0m0-4.9h0m0-3.8h0m.1 1.5h0m0-50.1h0m.1 10.7h0m.1 37.1h0m0-3.7h0m0-4.5h0m0-176.9h0m0 195.7h0m0 .1h0m.1-.3h0m.2-36.3h0m0 35.9h0m0-.5h0m0-5.6h0m0-3.4h0m0 3h0m0-24.7h0m0 15.2h0m.1 7.6h0m.1 7.6h0m0-71.8h0m0 53.4h0m0-3.5h0m.1-25h0m0 43.9h0m0-73.4h0m0 57h0m0 9h0m0 .6h0m.1-51.6h0m0 57.7h0m0-4.3h0m0-87.5h0m0 47.4h0m.1-14.8h0m0 44.4h0m0-175.8h0m0 .1h0m.2 180.2h0m0-57.8h0m0-36.7h0m0 63.5h0m0 46.2h0m0-16.5h0m.1-59.5h0m0 68.1h0m0-4.3h0m0 10.6h0m0 1.6h0m0 .4h0m0-1.3h0m0-.4h0m0-4h0m.1-7.4h0m0-35.7h0m.1 48.8h0m0-78.9h0m0-4.1h0m0 66.9h0m0 3.6h0m.1 .5h0m0-55.6h0m0 15.1h0m.1 52.2h0m0-195.6h0m0 187.7h0m0-3.7h0m0 8.4h0m.1 2.7h0m0-87.3h0m.1 69.7h0m0-72.2h0m0 90.6h0m.1-80h0m0 72.8h0m0-5.6h0m0 11.9h0m0-1.7h0m.1-9.1h0m0-184.2h0m0 113.6h0m.1 82.2h0m0-39.3h0m.1 37h0m0 2.1h0m0-.6h0m0 .6h0m.1-.5h0m0 .3h0m0-6.8h0m0-18h0m0 25.6h0m0 .6h0m0-63h0m.1 59.2h0m0-30.7h0m.1-4.1h0m0 17.2h0m.1-175.4h0m0 190.2h0m0 6.8h0m0-59.5h0m0 58.9h0m.1-5.2h0m0-125h0m0-57.2h0m.1 62.5h0m0 113.7h0m0-37.8h0m0 6.5h0m0 33.3h0m.1-.1h0m0-18.4h0m0-4.1h0m.1-28h0m0 38.5h0m0 21.1h0m0-79.6h0m.1 80.4h0m.1-55.2h0m.1-141.8h0m0 187.8h0m0-4.2h0m0-11.3h0m.1 10.8h0m0-25.7h0m0 36.7h0m.1-.8h0m.1-1.5h0m.1-45.4h0m0 48.8h0m0-7.3h0m0-21.7h0m0-25.6h0m.1-7.1h0m.1 54.3h0m0-21.7h0m0 23.2h0m0 8.5h0m0-1.2h0m0-69.2h0m0 68.3h0m0-5.2h0m.1 7.4h0m0-6.7h0m0 4.4h0m0 1.1h0m0-35.3h0m.2-51.3h0m0 81.5h0m0-191.4h0m0 161.8h0m.1 31.8h0m0-7.4h0m0-140.2h0m.1-46.2h0m0 177.7h0m0-60h0m.1 79.5h0m0-12.3h0m0-47.4h0m0 57.2h0m0-28.5h0m0 7.8h0m.1 13.7h0m0-50.3h0m0-137.4h0m0 186.2h0m0-78.8h0m.1 69.8h0m.1 8.6h0m0-49.2h0m0 6.2h0m0 52.8h0m.1-1h0m0-2.4h0m0 5h0m0 1.2h0m0 .1h0m.1-4.9h0m0 4.5h0m0-22h0m0-67.9h0m0 48h0m.1 42h0m0-10h0m0-1.9h0m0 12.2h0m0-13.5h0m.1-91.4h0m0 92.4h0m.1 10.8h0m0-65h0m0-122.7h0m0 184.5h0m0-85.5h0m.1-56.3h0m0 45.1h0m0 92.3h0m.1-14.7h0m0 22.1h0m.1-2.4h0m0-2.1h0m.1 1.6h0m.1 3.5h0m0-3.9h0m.1-6.6h0m0 5.9h0m0-85.1h0m.2 91.2h0m.1-4.6h0m0-7.6h0m0 1.1h0m.2 9.9h0m0-.6h0m0-8.5h0m.1-3.1h0m0 11.2h0m.1-77h0m0 79.5h0m0-3.2h0m0-9.2h0m.1 4.3h0m0 6.9h0m0-7.2h0m.1-8.9h0m0 14.4h0m0-13h0m.1-120.7h0m0 98.8h0m.1 23.8h0m0 9.9h0m0 3.3h0m.1-4.4h0m0-1.7h0m0-37.7h0m0-72.8h0m0 114.3h0m0-2.8h0m0 3.7h0m.1 1.3h0m0-4.6h0m0-50h0m.1 52.2h0m0-.6h0m.1-15.9h0m0 18.8h0m.1-63h0m0 60.8h0m.1 .8h0m0-19.4h0m0 20.1h0m.2-45.9h0m0 43h0m0-24.1h0m.1 26.9h0m0-2.2h0m0-3.9h0m.1 6.9h0m0-1.1h0m0-36h0m0 37.4h0m.1-95.1h0m0 95.4h0m0-25.3h0m0 24.4h0m0-86.4h0m.1 37.5h0m.1 43.2h0m.1 5h0m0-13h0m0-10.2h0m.1 25h0m.1-3.4h0m0-52.5h0m.1 54.7h0m0-.7h0m0-141h0m.1 143.6h0m0-.5h0m0-100.8h0m0 83.7h0m.1-11.6h0m.1 27.4h0m0-.9h0m.1-34.7h0m0 31.5h0m.1-62.4h0m0 60.4h0m0 5.3h0m0-2h0m.1-37.6h0m0 38.8h0m.1-.3h0m0-132.2h0m0 130.3h0m.1-1.9h0m0-57.2h0m0 58.2h0m0-193h0m.1 191h0m0-24.2h0m.1 14.9h0m0 5h0m0 12.5h0m.1-3.6h0m0-11.3h0m.1 12.5h0m0-4.7h0m0 .7h0m0 5h0m.1-122.2h0m.1 121.5h0m0-4.9h0m.1 3.4h0m0 1.9h0m.2 .2h0m0-1.2h0m0-7.8h0m.1-10.5h0m0 15.3h0m.1-193.5h0m.1 198.8h0m0-1.9h0m.1 0h0m0-75.5h0m.2 77.3h0m0-14.1h0m.1 7.7h0m0 .5h0m0 3h0m0 2.4h0m.3-103h0m0 104.3h0m0-.1h0m0-59h0m.1 52.9h0m0-5.4h0m0-.2h0m.1 3.2h0m.1 8.3h0m0-3h0m0 2.6h0m0-1.1h0m.2-.8h0m0-8.4h0m0-4.8h0m.1 13.1h0m0 .3h0m.1 .7h0m0-1.1h0m0 2.2h0m.1-.6h0m0 .6h0m.1-6h0m0 5.8h0m.2-14.9h0m0 11.5h0m.1-2.9h0m0 4.8h0m0-11.5h0m.2 9.5h0m0-2.3h0m.1-2.3h0m0-29.6h0m.1 35.5h0m.1-1.1h0m0-23.7h0m.1 26.6h0m0-.5h0m.1-.5h0m.2-10h0m.1-.4h0m0 .2h0m0 9.1h0m0-11.1h0m.2 8.7h0m.1 4.1h0m.1-.7h0m.1 1.3h0m0-9.1h0m0 6.7h0m.2 1.1h0m0-197.2h0m.1 197.3h0m.2-.8h0m.2 .1h0m0-3.6h0m.2 5h0m.1-2.8h0m0 1.7h0m0-151.9h0m0 142h0m0 11.2h0m.1-.2h0m.1-9.6h0m0-8.7h0m.1 8.8h0m0-7.3h0m.4-2.5h0m0 9.6h0m.1 9.2h0m0-11.7h0m.2 9.5h0m.5 4.2h0m0-12.3h0m.1 7.5h0m.1 3.3h0m.1-2.5h0m.1-2.5h0m.1 4.7h0m.2-.2h0m.6-8.3h0m0 8.9h0m.1 .7h0m.1-1.6h0m.1 1.8h0m0-7.4h0m.1 6.2h0m0-1h0m0 1.9h0m.1-7.9h0m.1 8.2h0m.1-1.2h0m.2-28.1h0m0 27.3h0m0-1.2h0m.1-2.4h0m0 5.3h0m.1-2.3h0m0 2.6h0m.2-8.5h0m.1 7.4h0m.1 1.3h0m.1-8.3h0m0-7.2h0m.3 13h0m.1 2h0m0-4.7h0m.1 5.4h0m.1-.1h0m0-1.2h0m0 1h0m.1-4.1h0m0-13.3h0m.1 11.5h0m0-15.5h0m0 19.3h0m.4 1.6h0m0-.7h0m.1 .7h0m0-.5h0m0 .1h0m.1-.2h0m.1 1h0m0-.7h0m.1-15.2h0m.1 14.3h0m.1-9.9h0m.1 10.8h0m.1-2.8h0m0-.2h0m0-4.2h0m.1 0h0m0 4.7h0m0-1.6h0m.3 2.4h0m0-4.6h0m.1 6.9h0m0-1.6h0m.1 .2h0m.1-.1h0m0 .4h0m.4-.4h0m0-.8h0m.1-.1h0m0 .6h0m.3-.6h0m.4 1h0m.2-.2h0m.1 .2h0m0 0h0m.3 0h0m0 .1h0m.2-.5h0m.1-.7h0m.1 .2h0m.1 .7h0m.4-1.1h0m.5-.3h0m.2 1.2h0m.2-1.1h0m0 .8h0m.1-.2h0m0 .4h0m.2-.2h0m.1-.5h0m.5-.1h0m.3 .1h0m.2-.5h0m.1 .4h0m0 .3h0m0-.1h0m.1-.8h0m0 .8h0m.1-.6h0m.4-.2h0m.3-.5h0m.1 1.1h0m.2 .1h0m.1-.6h0m0 .5h0m.3-.2h0m.1-.1h0m.1-.7h0m.5 0h0m.4-.4h0m.5 .8h0m0-.6h0m.2-.4h0m.1 .8h0m.2 .1h0m0-.2h0m.6-.8h0m.3 .7h0m.5 0h0m.6-.7h0m.3 .1h0m.1-.1h0m.1-.6h0m.1 .1h0m.2 .6h0m.1 .1h0m.1 0h0m0-.1h0m.3-.7h0m.2 .4h0m.3-.2h0m0-.1h0m.1-.1h0m.1-.1h0m.5 .3h0m.3 .1h0m.2-.7h0m.4 .6h0m.3-.4h0m.1 0h0m.2 .3h0m.1-.4h0m.6-.4h0m.2-.5h0m0 .6h0m0 .2h0m.1-.5h0m.4-.3h0m.2 .6h0m.5-.3h0m1-.7h0m.1-.1h0m.1 .5h0m.1-.4h0m.2 .6h0m.1-.1h0m.5-.3h0m.1-.4h0m.1-.1h0m.1-.1h0m.7 .4h0m.1 0h0m.2-.3h0m.1-.2h0m.1 .3h0m.1 .2h0m.1-.4h0m.2-.2h0m.3 .3h0m.8-.8h0m.4 .1h0m.1 .4h0m.2-.3h0m0 0h0m.4-.3h0m.2 .1h0m.2-.2h0m0-.1h0m.6-.2h0m.1 .1h0m.1 .4h0m.1-.5h0m.5-.1h0m.4 .3h0m.3-.1h0m.3-.4h0m0-.2h0m.7 .2h0m.4 0h0m.5-.5h0m0 0h0m.3 .2h0m.2-.2h0m.1-.1h0m.2-.1h0m.5 .1h0m.3 0h0m.1 0h0m.1-.1h0m.2-.2h0m.4 .1h0m.5-.4h0m.2 .1h0m.1-.1h0m.7 0h0m.5-.3h0m.1 .1h0m.4-.3h0m.1 0h0m.1 .1h0m.5-.3h0m.7 0h0m0-.1h0m1-.3h0" stroke="#cd2626" stroke-width="1.3" stroke-linecap="round" fill="none"/>
<path d="M19.9 212H21.5" stroke="#555" stroke-width=".4"/>
<text x="19.2" y="213.2" font-size="3.4" text-anchor="end" fill="#555">0</text>
<path d="M19.9 149.2H21.5" stroke="#555" stroke-width=".4"/>
<text x="19.2" y="150.4" font-size="3.4" text-anchor="end" fill="#555">100</text>
<path d="M19.9 86.4H21.5" stroke="#555" stroke-width=".4"/>
<text x="19.2" y="87.6" font-size="3.4" text-anchor="end" fill="#555">200</text>
<path d="M19.9 23.6H21.5" stroke="#555" stroke-width=".4"/>
<text x="19.2" y="24.8" font-size="3.4" text-anchor="end" fill="#555">300</text>
<path d="M43.3 221.5V223.1" stroke="#555" stroke-width=".4"/>
<text x="43.3" y="225.9" font-size="3.4" text-anchor="middle" fill="#555">-10</text>
<path d="M77.9 221.5V223.1" stroke="#555" stroke-width=".4"/>
<text x="77.9" y="225.9" font-size="3.4" text-anchor="middle" fill="#555">-5</text>
<path d="M112.5 221.5V223.1" stroke="#555" stroke-width=".4"/>
<text x="112.5" y="225.9" font-size="3.4" text-anchor="middle" fill="#555">0</text>
<path d="M147.1 221.5V223.1" stroke="#555" stroke-width=".4"/>
<text x="147.1" y="225.9" font-size="3.4" text-anchor="middle" fill="#555">5</text>
<path d="M181.7 221.5V223.1" stroke="#555" stroke-width=".4"/>
<text x="181.7" y="225.9" font-size="3.4" text-anchor="middle" fill="#555">10</text>
<text transform="translate(112.5 230.8) scale(.9 1)" font-size="4.5" text-anchor="middle" fill="#222">log2 Fold Change</text>
<text transform="translate(11.9 116.5) rotate(-90) scale(.89 1)" font-size="4.5" text-anchor="middle" fill="#222">-log10(padj)</text>
<text transform="translate(210.5 107.8) scale(.9 1)" font-size="4.5" fill="#222">regulated</text>
<rect x="210.8" y="109.9" width="6" height="6" fill="#f5f5f5"/>
<circle cx="213.8" cy="112.9" r=".75" fill="#32cd32"/>
<text x="218.7" y="114.2" font-size="3.6" fill="#333">down</text>
<rect x="210.8" y="116.2" width="6" height="6" fill="#f5f5f5"/>
<circle cx="213.8" cy="119.2" r=".75" fill="#6495ed"/>
<text x="218.7" y="120.5" font-size="3.6" fill="#333">false</text>
<rect x="210.8" y="122.6" width="6" height="6" fill="#f5f5f5"/>
<circle cx="213.8" cy="125.6" r=".75" fill="#cd2626"/>
<text x="218.7" y="126.9" font-size="3.6" fill="#333">up</text>
<text x="8.6" y="17.8" font-family="Liberation Serif" font-size="14.6" fill="#111">A</text>
<rect x="220.5" y="0" width="230" height="238" fill="#fff"/>
<rect x="235.5" y="11.5" width="182" height="210.2" fill="none" stroke="#c4c4c4" stroke-width="1"/>
<path d="M319.5 213.1L319.5 186.5L326.3 211.3L333.3 192.5L333.3 213.1Z" fill="#6495ed"/>
<path d="M319.5 212.5L319.5 193.5L304.5 200.5L289.5 206.5L279.5 210.5L277.5 211.7L277.5 212.5Z" fill="#32cd32"/>
<path d="M333.3 212.5L333.3 190.5L339.3 195.5L345.3 204.5L353.3 210.5L355.3 211.7L355.3 212.5Z" fill="#cd2626"/>
<path d="M248 212.2h0m.3 .1h0m1.9-.3h0m.9-.1h0m.2 .2h0m.8-.3h0m.4 0h0m.3 .4h0m.4 0h0m.9 0h0m1.7 .2h0m.1-.3h0m.3 .1h0m.4-.1h0m1-.1h0m.9-.4h0m0 .6h0m.3-.1h0m.3 .2h0m1.3-.4h0m1.2 0h0m1-.1h0m0-.3h0m.8 .8h0m.1-.5h0m.3 .2h0m0 0h0m.4-.3h0m.9-.1h0m.3 .5h0m.3-.2h0m.1 0h0m.4 .1h0m.1-.2h0m.7-.1h0m.4-.1h0m.1 0h0m.1 .3h0m.3-.3h0m0 .1h0m0 .5h0m.3-.6h0m.4 .2h0m.5 .6h0m0-.6h0m.1 .4h0m.1 .1h0m.6 0h0m.3 0h0m.9-.8h0m.3 .8h0m.2-.1h0m.1-.3h0m.3 .5h0m.3-.4h0m0-.2h0m.3 .5h0m.4-.1h0m.2-.1h0m.2 .2h0m.5-.5h0m.2-.2h0m.5 .2h0m0 .5h0m.3-.2h0m.4-.2h0m0 0h0m.1 .1h0m.1 .3h0m.4-.4h0m.1 .4h0m.4-.4h0m.1-.3h0m.1 .6h0m.2-.2h0m.4 .3h0m.2 0h0m.1-.2h0m.1 .1h0m.1 .1h0m.4-.6h0m.1 .3h0m.2 .4h0m.9-.2h0m.2-.7h0m.3 .9h0m.3-.1h0m.1-.6h0m0 .4h0m.3 0h0m1 .2h0m.2-.8h0m.1 .6h0m0 .2h0m.3-.3h0m.3-.4h0m.4 .1h0m.4 .5h0m.1-.7h0m.2 .3h0m.5 .2h0m.3-.5h0m.1 .2h0m0 0h0m.1-.1h0m.1-.1h0m.2 .8h0m.2-.6h0m.2 .6h0m.3 0h0m.1-.5h0m.2 .2h0m.4-.4h0m.2 .7h0m.2-.1h0m0 0h0m0-.7h0m.1 .7h0m.2 0h0m.1-.5h0m.1 .1h0m0 .2h0m.1 .1h0m0-.5h0m.4 .3h0m.1 0h0m.5 .1h0m.4-.1h0m0 .1h0m.9-.3h0m0 .2h0m.3 .2h0m.4 .2h0m.1-.7h0m.3 .4h0m0-.2h0m.4 .2h0m.1 .2h0m0-.2h0m.3 .2h0m.1-.6h0m.2 .8h0m.3-.4h0m1 .1h0m.6 .3h0m.1-.3h0m1-.3h0m.4 .5h0m.1-.7h0m0 .3h0m.3 .3h0m.2-.2h0m0-.2h0m.6-.3h0m.2 0h0m.2 .7h0m0-.6h0m.1 .7h0m.2-.5h0m.3 .4h0m0-.6h0m.6 .5h0m.1-.2h0m.2 .4h0m.2-.4h0m1.1 .3h0m.2-.5h0m.5 .1h0m0 .3h0m.5 .1h0m.1-.6h0m.1 .5h0m.1-.4h0m.5 .6h0m0-.8h0m.2 .7h0m.1 .2h0m.5-.4h0m.1 0h0m.5 .2h0m1.6-.4h0m.6 .2h0m.5-.3h0m.1 0h0m1.3 .4h0m.3 .1h0m.2-.5h0m.4-.2h0m0 .3h0m.1-.3h0m.6 .3h0m.5 .4h0m.7-.2h0m.9-.4h0m.1 0h0m0 0h0m.1 .2h0m.2 .4h0m.3-.1h0m.2 .1h0m.3-.6h0m.1-.1h0m0 .9h0m0-.8h0m.7 .3h0m.3 .3h0m.3 .1h0m.6-.2h0m.2-.1h0m.4 .3h0m0-.3h0m1.6-.4h0m.2 .6h0m0-.2h0m.1-.4h0m0 .1h0m.2-.2h0m.2 .3h0m.5-.1h0m.2 .2h0m1 .5h0m.4-.6h0m0 .2h0m.1-.5h0m.1 .8h0m.1-.6h0m0 .5h0m.4-25.4h0m.1 2.4h0m.2-2.1h0m.3 24.4h0m0 .9h0m.1 0h0m0-26h0m.2 3.9h0m0 0h0m.1-.1h0m.1 1.7h0m.1 19.7h0m.1 .6h0m.1-19.9h0m0-.1h0m0 1.9h0m.1 17.5h0m.1 .6h0m0-.2h0m.1-18.2h0m.6 17.9h0m.1 .5h0m0-14.8h0m.1-1.8h0m.1 16.2h0m.3 .3h0m0 .1h0m.1 .2h0m.1-14h0m.1 13.1h0m0-11.9h0m.1 .4h0m0-.2h0m.1 1.1h0m0 .1h0m.1 11.4h0m0-15.3h0m.1 3.4h0m.1-3.3h0m.1 14.9h0m.1 .2h0m.3-6.6h0m0 6.5h0m0-10.2h0m.1 9.6h0m.1 .5h0m0-9.1h0m.3 1.3h0m.3-1.7h0m.2 .9h0m.2 8h0m0-4.7h0m.2 4.7h0m.1-4.2h0m.1 1.8h0m.2 2h0m.3-3h0m.1 2h0m.2 1.5h0m.2-2.4h0m.1 2.2h0m.1 .5h0m.1 .3h0m.3-.7h0m.6-1.9h0m0 2.1h0m.2-5.8h0m.3 6.3h0m.4-7.9h0m0 7.6h0m.2-.1h0m.2-7.6h0m.1-1.5h0m0-.8h0m.2 9.9h0m0-7.2h0m0-2.6h0m.1 1.7h0m.3 .1h0m0 8.2h0m.2-.4h0m.1-.1h0m.1-11.3h0m.1-.7h0m.1 12.3h0m0-12.4h0m.1 2.5h0m.1 10.3h0m0-14.4h0m0 13.8h0m.3 .5h0m0 .2h0m.2-12h0m.2-.1h0m0 11.6h0m.1-12.3h0m0 12.4h0m.5-15h0m.2 15.4h0m.1-.6h0m.1-17.2h0m0 2.2h0m.3 .1h0m.1-1.8h0m.2 17h0m.1-.2h0m.1 .4h0m.1-.6h0m.2 0h0m.9 .3h0m.5 .3h0m.5-.6h0m.1 .5h0m.5 .2h0m.3-.6h0m0 .2h0m.1-.2h0m.7 .4h0m.7-.2h0m.1 .3h0m.4-.3h0m0 .4h0m.2 .1h0m.2-.7h0m.2-.2h0m.3 .1h0m.1 .1h0m.1 .6h0m.3-.4h0m0 .1h0m.4-.4h0m.3 .4h0m.5-.3h0m.2-.2h0m0 0h0m.1 .3h0m.4-.2h0m.8 .6h0m.1-.2h0m.1 .1h0m.2-.4h0m.1 .7h0m.6-.8h0m.5 .2h0m0 .6h0m0-.1h0m.2-.2h0m.4 .2h0m.2-.7h0m.4 0h0m.2 .6h0m.3-.6h0m.1 0h0m.1 .6h0m.1-.4h0m0 .2h0m.5 .1h0m0-.1h0m.2 0h0m.7-.1h0m.1-.3h0m.2 .2h0m.3 .1h0m.1-.2h0m.3 .7h0m.1-.3h0m.7 .3h0m0-.8h0m.2 0h0m.2 .3h0m.4 0h0m.1-.3h0m.1 .6h0m.1-.6h0m.1 .4h0m.3 0h0m.3-.3h0m.6 .1h0m.8 .3h0m.1-.2h0m.1-.1h0m.8 0h0m.1-.1h0m.7 .5h0m0-.4h0m.3 .4h0m.2-.5h0m.9 .6h0m.3-.2h0m.2-.2h0m.3 .5h0m.4-.2h0m.2 0h0m.1 .1h0m.5-.1h0m.4-.1h0m.2 0h0m.1-.3h0m1-.3h0m0 0h0m.1 .1h0m.3 .6h0m0-.3h0m0 .1h0m.4 .2h0m.3-.5h0m.3-.1h0m.1 .8h0m0-.6h0m0 .2h0m.2-.3h0m.5-.2h0m.1 .5h0m.2-.3h0m.7-.1h0m.3 .4h0m.1 .3h0m0-.7h0m.1 .4h0m0 .2h0m.2-.1h0m.1 .2h0m.1-.4h0m.3 .3h0m0-.1h0m.8-.3h0m.7 .5h0m.4-.3h0m.3 .2h0m.3-.4h0m.5-.2h0m.4-.1h0m.2 .4h0m.2 .2h0m.2-.2h0m.2 .3h0m.3-.7h0m.4 .1h0m.6 .4h0m.6 0h0m.3-.3h0m.2 .3h0m0 0h0m.1 0h0m.2 .3h0m.3 0h0m.5-.7h0m.2-.1h0m.6 .8h0m.1-.7h0m.1 .5h0m1.1-.6h0m.2 0h0m.5 .7h0m.3-.6h0m0 .4h0m.3 0h0m.1 0h0m.3-.2h0m.1-.2h0m.6 .2h0m0-.1h0m.2 0h0m0 .2h0m1-.1h0m.1 .5h0m.9-.4h0m0-.2h0m0 0h0m.1 .2h0m.3 0h0m.1 .4h0m.4-.1h0m.3-.3h0m.6-.4h0m0 .3h0m.2 .4h0m.5 .1h0m1.1-.2h0m1.1 .1h0m.1-.5h0m.5-.2h0m.2 .1h0m.2 .2h0m.1-.1h0m.2 0h0m.2-.1h0m2.7 .8h0m.4-.1h0m1.6-.7h0" stroke="#6495ed" stroke-width="1.3" stroke-linecap="round" fill="none"/>
<path d="M241.5 200.7h0m.8 8.9h0m.2-.4h0m.6-28.2h0m.1 16.7h0m0 0h0m.1-.9h0m0 1h0m0-.1h0m0 0h0m0 .1h0m.1 .1h0m0-.3h0m.1 .3h0m0-.2h0m.1 0h0m.1 0h0m0 .1h0m.4-.1h0m.1-1h0m.1 1.5h0m0-.3h0m.3 0h0m0 .3h0m.2 8.4h0m0-8.5h0m.1 9h0m0-8.7h0m0 0h0m0-.3h0m.2 .2h0m.1 .1h0m0 .2h0m0-.6h0m0 .2h0m.1 .1h0m0-.2h0m0 .2h0m.1-.1h0m0 12.3h0m.1-12h0m.1-.1h0m0 .4h0m.2-.1h0m.3 .2h0m0-.5h0m.1 0h0m.2 .6h0m0-.6h0m.1 .1h0m0 .6h0m.1-.1h0m.1 0h0m.1 0h0m0 .2h0m.2 0h0m0 0h0m.1-.3h0m0 .1h0m0 .2h0m.1-.3h0m0 10.5h0m.1-10h0m.1-.2h0m.1-.2h0m.5-.1h0m0 .2h0m.1 .6h0m.1-.6h0m.3 .1h0m0 .5h0m0 .2h0m.2-.9h0m0 0h0m0 .9h0m.1-.1h0m.1 .2h0m.4-.8h0m.1 .7h0m.2-.4h0m.1 .8h0m.1-.5h0m0 .4h0m0-.2h0m.1-.2h0m0 .5h0m.1-22h0m0 21.5h0m.1-.5h0m0 7.6h0m.1-6.4h0m.1-.7h0m.1 .5h0m0 .2h0m.3-.6h0m.1 7.1h0m.1-7.3h0m0 3.7h0m.1-3.1h0m.1 .3h0m0-.9h0m.1 .7h0m0-.8h0m0 0h0m0 .9h0m.1-.3h0m0 .3h0m.2-.4h0m0 .9h0m.1-1.1h0m.1 .8h0m.4-.9h0m0 1.4h0m.3-.8h0m.1 .8h0m.1-.7h0m.1 .4h0m0-.8h0m.2 .9h0m.4-.2h0m.1 .8h0m0-1.4h0m.3 .3h0m.1 .7h0m0 .7h0m0-.7h0m.1 .4h0m0-.1h0m.2 .5h0m.1 0h0m.1 0h0m0-12.2h0m.1 10.7h0m0 .9h0m.1-.3h0m0-.3h0m.2 1.3h0m0 0h0m0-1.6h0m0 .9h0m.1 .2h0m0-.7h0m.1 1.3h0m0-.1h0m.2-1.1h0m.1 1.3h0m.1-.1h0m0 8.7h0m.2-9.6h0m0 .2h0m.1 1.1h0m.1-1.1h0m0 .5h0m.3-.6h0m.1 1.3h0m.1-.1h0m.2 7.5h0m.1-8.1h0m.1 .4h0m.1 .5h0m0-.2h0m.1 0h0m.2-5.9h0m0 5h0m.1 1.4h0m.3-.8h0m.1 .1h0m.1 .2h0m.6 .4h0m.1-.2h0m.2 .6h0m0-.9h0m0 5h0m.1-4h0m.1-1.3h0m.1-190.8h0m.1 192.1h0m.1-.5h0m.1-1.4h0m.1 .5h0m0 1h0m0 .8h0m.3-1.4h0m0 0h0m0 1.4h0m.2-.4h0m.1-.1h0m0-1.5h0m.1 1.2h0m0-.1h0m.1-.5h0m.1 .6h0m.2 .8h0m0-6.7h0m0 5h0m.1-53.4h0m0 55.6h0m.1-.6h0m.2 .6h0m.3-.9h0m.1 .7h0m0-.6h0m.1-1.3h0m.1 2.1h0m.2 .2h0m.2-1.6h0m.2 1.3h0m0-.3h0m.1-.9h0m0 .4h0m0 1.3h0m.1 .1h0m0-1.3h0m.2-.3h0m0 1.2h0m0-.6h0m0 1h0m0-193.3h0m0 192h0m.2 1.4h0m0-.4h0m0-1.6h0m.1 1.3h0m0-1.1h0m.1 .9h0m.1-1.2h0m0-.4h0m0 .4h0m.1 1.2h0m.1 1.3h0m0-.2h0m.1-2.6h0m0 1.7h0m.1-.2h0m.1 1h0m0 0h0m0-1.3h0m0 .1h0m.1-1.2h0m.1 .8h0m0-.6h0m.2 0h0m.1 .5h0m.1 1.6h0m.1-.7h0m.1 4.2h0m.1-5.2h0m0-.4h0m0 2.5h0m.1-.4h0m0 0h0m0-.6h0m.2 1.1h0m0-.1h0m.2 .2h0m0-.4h0m0-1.9h0m0 2.6h0m.1-2.5h0m.1 0h0m.1 .8h0m0 1.1h0m0-1.9h0m.1 2.9h0m.1-.6h0m.1 .2h0m0-194.4h0m.1 193h0m0 2.6h0m0-1.6h0m.1 .7h0m.1 .1h0m0-.1h0m.2-2.4h0m.1 2.4h0m.1-.2h0m0 .3h0m.1-1.9h0m0 1.8h0m.1 .2h0m.3-1.5h0m.1 1.1h0m.2 0h0m0 .6h0m.2-1.1h0m.1-1.9h0m0 4.3h0m.1-1.9h0m0-.9h0m.2-.1h0m0 1.8h0m.1-24.9h0m0 24h0m.2-1.8h0m0-.2h0m0-24.5h0m.1 27.2h0m0 .6h0m.3-.5h0m.1 .5h0m.1-.2h0m0-.5h0m.2-7.5h0m.1 8.5h0m0-4h0m0 2.7h0m0-113.9h0m.3 112.8h0m0 1.3h0m.1-.5h0m0-1.5h0m.1 3.3h0m0-32.9h0m.1 9.1h0m.1 22.5h0m0 1.1h0m.2 .1h0m0-1.2h0m0-13.5h0m0 12.3h0m0 1.1h0m.1-1.6h0m.2 1.5h0m0-.2h0m0-1h0m.1-24.1h0m0 29.7h0m.1-2.9h0m0-1.4h0m.1 1.5h0m.2-21.1h0m0 1.6h0m.1 18.4h0m.1 1.5h0m0-.3h0m0-2.5h0m.1 2.2h0m.1-8.2h0m.1 7h0m0-195h0m.1 194.3h0m0 .2h0m0-20h0m0 24.7h0m0-7.3h0m0-6.4h0m.1 9.6h0m.1 .2h0m.2-.4h0m0 2.2h0m.1 0h0m0-9.9h0m.1-13.4h0m0 22.6h0m.1-25h0m0 27.9h0m0-3.8h0m.2-195.5h0m0 194.1h0m.1-40.3h0m0 42.5h0m0 1h0m.1-.1h0m0-2.6h0m0-194.6h0m.1 195.6h0m0-2.8h0m0 3.3h0m.1-3.9h0m0 3.3h0m.1 .8h0m.1-16.7h0m0 19.3h0m0-1.8h0m0-22.8h0m.1 21.2h0m0-7h0m0 5.5h0m0 4.1h0m.1-15.6h0m0 1.4h0m0 14.3h0m.1-10.5h0m0 9.9h0m.1-15h0m0 5.3h0m0 6.7h0m.1 3.1h0m.1-8.1h0m0-55.6h0m.3 63.9h0m0-2.6h0m0 2.1h0m.1-2.2h0m.1 2.4h0m0-8.5h0m.1 9.6h0m0-4.6h0m.1-5h0m0 5.6h0m0-.8h0m0 3.7h0m.1-3.6h0m0-1.2h0m0 2.1h0m.1-78.5h0m0 77.8h0m0-7h0m.1-9.5h0m0-15h0m0-49.7h0m0 4h0m0 80h0m0 .9h0m0-2.8h0m.1 2.9h0m0-2.1h0m0-.9h0m0-.9h0m0-19.7h0m.1 23.3h0m0-.6h0m.1 2.6h0m0-32.4h0m.1 27.1h0m0 4.6h0m0-8.9h0m.1-4.4h0m0-7.1h0m.1 17.4h0m0 0h0m.1-14.1h0m0 12.8h0m.1-.1h0m0 3.8h0m0-1.6h0m0-1.2h0m.1-5.2h0m0 9.2h0m.2-1.9h0m0-60.7h0m0 39.9h0m0 16.3h0m0 3.6h0m0 1.8h0m0-18.4h0m.1 17.9h0m0-51h0m0-11.8h0m.1 60.4h0m0-.9h0m0 2.2h0m0-2.3h0m.1 0h0m0 .3h0m0-3.7h0m0-109.3h0m0 56h0m.1 57.7h0m0 .8h0m.1 1.4h0m.1-6h0m0 5.9h0m.1-1.7h0m.2-8.1h0m0 1.3h0m0 6.8h0m.1-.8h0m.1-34.1h0m0 37.6h0m0-3.7h0m.2 .8h0m.1 1.1h0m0-26h0m0 24.9h0m0-9.1h0m0 12.1h0m.1-2.3h0m0 1.9h0m0-96.1h0m0 83.1h0m.1 11.6h0m0-2h0m.1-3.4h0m0 5h0m.1 2.6h0m0-3.1h0m.1-1h0m0-61.6h0m0 64.3h0m.2-1.8h0m0 3h0m.1-3.5h0m0-6.6h0m0 8.7h0m0-3.7h0m.1-1.1h0m0 5.7h0m0-.2h0m0-3.3h0m.2-26.3h0m0 26.1h0m0-34.1h0m.1 32.8h0m0 3h0m0 1h0m0-5.7h0m0-153.5h0m.1 151.3h0m0 .4h0m.1-5.2h0m0-35.2h0m0 9.3h0m0 38.2h0m0-48.5h0m.1 44.2h0m0-40.7h0m0 45.9h0m.1 .2h0m0-.3h0m0-1.9h0m0-2h0m.1-27h0m0 25.1h0m0 6.8h0m.1-24.7h0m.1 25h0m0-1.5h0m.1-12.5h0m0 11.7h0m0-9.6h0m0 5.4h0m.1 3.1h0m0-11.6h0m0 12.5h0m.1-43.8h0m0 24.5h0m0 5.8h0m0 15.3h0m.1-7.5h0m0 8.8h0m0-52.2h0m.1 49.6h0m0-197.3h0m0 171.9h0m.1 27.2h0m0 .6h0m0-.1h0m0 .2h0m0-4.2h0m.1-3.5h0m.1-81.2h0m0 87.1h0m.1-4.1h0m0 6.1h0m0-2.8h0m0-4.1h0m0 4.5h0m.1-.7h0m0 1.1h0m0-1.1h0m0 1.7h0m.1-15.8h0m.2-20.3h0m0 26.2h0m0 8.5h0m.1 .5h0m0-22.7h0m0 21.8h0m.2-7.5h0m0 4.2h0m0 1.6h0m.2-89.5h0m0 91.2h0m0 0h0m.1-79.2h0m0 77.2h0m0-.2h0m0 1.5h0m0-26.7h0m.2 25.7h0m0-17.3h0m0 11.8h0m0-4.4h0m0-50.1h0m.1 61.8h0m0-18.3h0m0 18.1h0m.1-2.7h0m0-15.4h0m0 15.6h0m.1 4.6h0m0-63.7h0m.1 40.2h0m.1 21h0m0-7.4h0m0-21.2h0m.1 24.9h0m0 3.8h0m0-47.3h0m0 6.7h0m0 33.5h0m.1-7.8h0m0 14.6h0m0-16.1h0m.1 1.9h0m0 11.5h0m0-2.6h0m0 7.1h0m.1-1.3h0m0-7.4h0m0-19.8h0m0 14.3h0m.1-.8h0m0 14.2h0m0-.2h0m.1 1.5h0m0-5.7h0m0-16.4h0m.1 10.4h0m.1 9.1h0m.1-55.8h0m0 56.7h0m.1-111.8h0m0 104.4h0m0-113.6h0m.1 119.4h0m0-13.6h0m0 6.2h0m.1 8.5h0m0-9.3h0m0-7.1h0m0-17.1h0m.1-21.8h0m0 40.6h0m.1-2.7h0m0-3h0m.1-.1h0m0 22h0m0-33h0m0-38.3h0m.1 1.4h0m0-58h0m0 111.3h0m.1 16.7h0m0-18.2h0m.1-59.4h0m0 44.6h0m0 25.9h0m0-69h0m0 73.5h0m0-18.6h0m.1-6.2h0m.1-4.1h0m0 17.9h0m.1-33h0m.1 44.4h0m.1-24.2h0m0 25.2h0m.1-1h0m0-1.6h0m.1-20.3h0m0 21.8h0m0-.9h0m0-6h0m.2-39.5h0m0 33.5h0m0 2.5h0m0-72.3h0m0 76.9h0m0-3h0m.1 10.1h0m.1-2.9h0m0 2.8h0m0-154.2h0m.1 149h0m0 4.4h0m0-8.2h0m0-38.4h0m0 42.7h0m0-16h0m0 6.2h0m.1 13.1h0m0-.8h0m.1-2.6h0m0 4.8h0m0-39.5h0m.1 10h0m.1-64.2h0m0 77.1h0m.1 15.4h0m0-36.4h0m0 32.3h0m0-3.7h0m.1-8.2h0m0 14.5h0m.1 1.8h0m0-122.4h0m0 50.8h0m0 72h0m.1-45.6h0m0 43.9h0m0-194.5h0m.2 182.1h0m0-4h0m.1 15.5h0m0 .4h0m.2-11.1h0m0-76.4h0m0 77.8h0m.1 8.3h0m0-192.6h0m0 189.9h0m.1-188.5h0m0 182.5h0m0 5.2h0m0-.3h0m.1 1.1h0m0-14.5h0m.1 .5h0m0-22.4h0m0 39.2h0m0 1.1h0m.1-5.2h0m0-2.6h0m0 6h0m0-5.1h0m.1-181.4h0m0 191.4h0m0-12.5h0m0-5.3h0m0 1.1h0m.1 5.1h0m0-27.6h0m0-15.4h0m.1 12.8h0m.2 5.6h0m0 21.1h0m.1 13.8h0m0-1.2h0m.1-46.2h0m0 48.2h0m.1-10.2h0m0-6.6h0m0 11.5h0m.1-23.5h0m.1 18.3h0m0-16.8h0m0 26.5h0m.1-13.9h0m.1-28.5h0m0 38.2h0m0-6.6h0m0-7.7h0m.1-62.2h0m0 50.5h0m0 4.5h0m0-70.4h0m0 67.8h0m0 2.4h0m.1-5.3h0m0 20.3h0m0-4.1h0m.1-19.2h0m0-41.9h0m.1 66h0m0 8.9h0m0 .1h0m0 .1h0m0-6.1h0m0-5.4h0m.1-21.9h0m0 32.2h0m0-46.7h0m.1 44.7h0m.1 1.6h0m0 .3h0m.1-16.5h0m0 0h0m.1 11.2h0m0-1h0m.1-41.5h0m0 38.7h0m.1-28.4h0m0 10.2h0m0 9.7h0m.1 14.6h0m.1-7.2h0m0 10.1h0m0-7.6h0m0-4.2h0m.1 11.1h0m0-19.8h0m.1-72.8h0m0 89.8h0m.1-6.1h0m0-10.3h0m.1-77.3h0m0 77.1h0m0 14.9h0m0 3.6h0m0-30.7h0m0 13.4h0m.1 6.7h0m0-10.9h0m0-42.8h0m.1 67.5h0m0-10.6h0m0-29.4h0m.2 18.4h0m0-16.7h0m0 35.9h0m.1-8.4h0m0-58.1h0m.1 67.1h0m.1-27.1h0m0 22h0m.1-74.9h0m0 64.7h0m0 6.5h0m0 2.5h0m0-38.1h0m.1 35.5h0m0 10.8h0m0-12h0m.1 12.1h0m.1-4.4h0m0 4.3h0m.1-1.6h0m0-37.3h0m0-16.3h0m.1 52.5h0m0-70.7h0m0-121.5h0m0 189.1h0m0-26.3h0m0 25.2h0m.1-36.7h0m.1 26.3h0m0 2.2h0m0 5h0m.1-6.7h0m0 10.5h0m.1-49.5h0m0-17.1h0m0 64h0m0-12.7h0m.1-9.8h0m0 24.9h0m0 4.8h0m0-14.5h0m.1 13.3h0m0-9.8h0m0-96.2h0m0 97.7h0m0 7h0m.1-3.1h0m0-1.1h0m0 1.5h0m0 4.7h0m0-17.1h0m0 17.3h0m0-50.9h0m0 22.6h0m.1 26h0m.2-13.7h0m0 16.8h0m0-1.7h0m0-117.3h0m.1 119.7h0m.1-7.1h0m0 1.5h0m.1-.3h0m0-2h0m0-22.6h0m.2 19.3h0m0 4.9h0m.1 3.8h0m0-44.9h0m0-48.1h0m.3 75.6h0m.1 16.9h0m0 2.5h0m0-4.8h0m.1-63.3h0m0 63h0m0-5.5h0m0 8.9h0m0-11.8h0m.1 9.3h0m.1-19.3h0m0-5.2h0m0 1.1h0m.1 16.4h0m0-182.7h0m.1 189.8h0m0-34.3h0m0-124h0m0 156.2h0m0-11.1h0m.1 16.3h0m0-15.2h0m0-7.7h0m0 22.5h0m.1-113h0m.1 72.3h0m0 18.5h0m0-56.2h0m0 21.8h0m0 51.1h0m.1-4.6h0m0 7.9h0m0-81h0m0-109.3h0m.1 191.7h0m0-1.4h0m0-5.8h0m.1 9.5h0m0-5.9h0m0-39.7h0m0 39.2h0m0-44.7h0m0 27.3h0m0 21.9h0m0-19.6h0m.1 19h0m0-.4h0m0-59.5h0m.1 44.9h0m.1-6.1h0m0 21.3h0m0 .9h0m0-46.3h0m0-81.8h0m0 85.4h0m.2 43h0m.1-9.4h0m.1 1.3h0m0-41.7h0m0 3.1h0m.1 43.4h0m.1-18.7h0m0 18.7h0m0 0h0m0-1.3h0m0-18h0m0 21.5h0m0-9.5h0m.1 .1h0m0 2h0m0-5h0m0-9.4h0m.1-19.9h0m0 39.8h0m0-16.7h0m.1-20.9h0m0 40.9h0m0-6.1h0m0-1.8h0m0-14h0m0 12.9h0m.1 4.7h0m0-13.5h0m0-27.7h0m0 45.8h0m0-193.5h0m.1 179.9h0m0 8.4h0m0-44.9h0m0 44.4h0m0-149.2h0m.1 122.2h0m0 25.5h0m.1-7.8h0m0-9.6h0m.1 22.6h0m0-9h0m0 4.4h0m.2-76.9h0m.1 82.2h0m0-27.9h0m0 23.5h0m0-38h0m.1 31.4h0m.1 11.1h0m0-16.7h0m0 13h0m.1-188.6h0m0 176.3h0m0-.6h0m.1 6.4h0m0 5.4h0m0-1.8h0m.1 .4h0m0 7h0m.1-3.3h0m.1-37.3h0m.1 12.9h0m0 27.1h0m0-63.1h0m0 63.2h0m.1-8.2h0m0-4.8h0m0-5.5h0m.1 12.7h0m0-127.6h0m0 133.2h0m.1-152.1h0m0 152.2h0m0-34.4h0m.1 3.6h0m0 29.6h0m.1-4.6h0m0-9.3h0m.1 5.7h0m0-13.8h0m0 6.8h0m.1-14.8h0m0 30.9h0m0-1.3h0m0-32.1h0m.1 25.4h0m0-170.9h0m0 164.7h0m.1 12.8h0m0-5.4h0m0 4.1h0m0-.1h0m0-6.8h0m.1-17.3h0m0-11.6h0m0 12.6h0m0-118h0m.1 140.8h0m0-24.8h0m0-5.6h0m0 32h0m0-5.9h0m.1-4.1h0m.1 7h0m0-17.3h0m0-59.8h0m.1 60.8h0m0 7.8h0m0 8.6h0m.1-8.9h0m0-65.1h0m0 63.2h0m0-87.4h0m0 83.8h0m.1 9.3h0m0 0h0m0 9h0m.1-191.7h0m0 191.3h0m0-17.2h0m0 .3h0m0 10.8h0m0 4.9h0m0-2.9h0m0-159.8h0m.1 150.1h0m0 7.6h0m0 6.4h0m0-1.1h0m.1-35.1h0m0 7.5h0m0 24.3h0m0-.2h0m0 4h0m.1-23.9h0m.1-.4h0m0-10.2h0m0 32.8h0m0 2.9h0m.1-2.9h0m0-10.8h0m.1 10.3h0m0 2h0m.1-10.6h0m0-75.1h0m0 76.5h0m.2-34h0m0 21.3h0m0 16.2h0m.1-3.3h0m.1-32.8h0m0 9.1h0m0 1h0m.1 21.1h0m0-11.7h0m.1 23.3h0m0-5.1h0m0-161.5h0m0 165.4h0m.1-8.2h0m.1 4.8h0m0-.6h0m0 2.9h0m0-41.1h0m.1 41.2h0m0-87.7h0m0 28.9h0m0 50.2h0m0 10.5h0m0-13.4h0m.1-18.5h0m.1-19.6h0m0 45.3h0m0-10.8h0m.1-46.3h0m0 35.4h0m0-22.9h0m0-41.8h0m0 91.1h0m0-3.6h0m.1 4.8h0m0-147.9h0m.1 141.4h0m0-62.3h0m0 64.9h0m.1-25.1h0m.1-162.1h0m0 188.4h0m0-3.9h0m0 1.3h0m0-185.8h0m0 168.7h0m0-3.5h0m0 24.4h0m.1-21.4h0m0 3.4h0m0 15.6h0m0-187.2h0m0 152.9h0m.1 33.7h0m0 .2h0m0-8.9h0m.1 2h0m0 2.2h0m0-1.3h0m0-14.6h0m.1-56.7h0m0 72.7h0m0 8.9h0m.1-13h0m0 6.8h0m.1-18.6h0m0 5.6h0m.1-18.2h0m0 27.2h0m.1 10h0m0-14.3h0m0 5.9h0m.1-22.2h0m.1-30.6h0m0 46.3h0m0 7.2h0m0-50.8h0m.1 42.1h0m.1-21h0m0 35.5h0m.1-1.7h0m0-13.5h0m.1-5.6h0m0-9.3h0m0 29.3h0m0 .5h0m.1-54.1h0m0-33h0m0 72.5h0m.1-51.8h0m0 63.3h0m0-37.6h0m.1 24h0m.1 9.1h0m0 4.2h0m.1-2.3h0m0 4.8h0m0-15.1h0m0-47.9h0m0 41h0m0-13.1h0m.1 31.1h0m0-10.8h0m0 8.1h0m0 .6h0m0-2h0m.1-6.2h0m.1-33.8h0m0 32.9h0m0 11.4h0m0 5.4h0m.1-31.2h0m.1 21.1h0m0-48.8h0m0-.1h0m0 33.4h0m.1-123.4h0m0 93.9h0m0 22.7h0m.1 28.9h0m0-11.1h0m0-56.9h0m0 36.6h0m0 27.8h0m0-80.2h0m.1 86h0m0 1.3h0m0-64.3h0m.1 49.4h0m0-7.8h0m0-72h0m.2 89.6h0m0-33.4h0m0 27.6h0m0 5h0m.1-13.5h0m.1-61.9h0m0 34.8h0m0 46.9h0m.1-2.7h0m0 2.4h0m0 .4h0m.1-43.1h0m0 42.1h0m0-31.6h0m0 8.4h0m.1 14.1h0m.1-.7h0m0-13.3h0m.1-23.2h0m0 17.2h0m.1 27.3h0m0-66.3h0m0 62h0m.1-26.1h0m0-47.2h0m0 78.8h0m.1-8.4h0m0 8h0m0-23.6h0m0-39.4h0m0 63.6h0m.1-19.9h0m0 8.7h0m0-41.3h0m0 46.5h0m0 .1h0m.1-3.7h0m.1 4h0m0-81.1h0m0 76.4h0m0 6.6h0m.1-73.7h0m0 58h0m0-14.3h0m.1-11.1h0m0 33.2h0m.1 10.1h0m0-13.9h0m0 11.2h0m0-11.1h0m0 11.4h0m0-11.3h0m0-14.7h0m.1-.5h0m0 27.2h0m0-3.5h0m0-2.3h0m0-129.4h0m.1 133.1h0m0 6h0m.1-12.9h0m0-171h0m0 181.2h0m0-3.8h0m0-39.4h0m0-32.8h0m0 49.3h0m.1-14.4h0m0 42.4h0m0-5.3h0m.1-41.8h0m0-61.7h0m0 100.3h0m0 .2h0m0-1.4h0m0 8.4h0m.1-7.9h0m0 3.9h0m0-21.2h0m0 22.4h0m0 4.6h0m.1-30.1h0m.1 29.6h0m0-60.2h0m0 60.6h0m0-4.1h0m0-51.1h0m0 12.4h0m.1 37.4h0m0-52.9h0m.1 36h0m0 2.7h0m0 5.5h0m0-94.5h0m0 84.2h0m.1 3.6h0m0 11.6h0m.1-8h0m0 3.9h0m0 8.3h0m0-10.1h0m.1 7h0m0 5.1h0m0-.6h0m.1-28.6h0m0 27.5h0m0-8.1h0m0 6.6h0m.1-104.7h0m0 111.2h0m0-.6h0m0-2.4h0m0-42.5h0m.1 45.3h0m0-8.4h0m.1-39.2h0m0-4.5h0m0 36.4h0m0-4.4h0m.1 17h0m0-4.4h0m.1-3.7h0m0-12.7h0m.1-53.3h0m0-6.3h0m0 56.6h0m.1 22.8h0m0-.6h0m0-7h0m0 9.4h0m.1-53.3h0m0 34.4h0m0 17.9h0m0 1.6h0m0-2.6h0m.1-22.9h0m0 26.7h0m0-45.4h0m0 14.7h0m0 27.8h0m.1-16.1h0m0-10.8h0m.1 29.4h0m0 .1h0m0-9.7h0m.1-63.4h0m0 60.6h0m0-34.7h0m0 44.2h0m0-8.3h0m0 4.8h0m.1-52.4h0m0 21.2h0m0 27.3h0m.1-.1h0m0-15.9h0m.1 6.8h0m0-11.5h0m.1 2.5h0m0-14.5h0m0 23.8h0m0-22.5h0m.1 33.1h0m0-13.3h0m.1 19.7h0m0-14.6h0m0 10.9h0m.1-75.3h0m0 78.7h0m0-19.2h0m.1 2.8h0m0-48.7h0m.1 40.3h0m.1 12.4h0m0 8h0m0 6.7h0m0-66h0m0 66.1h0m0-125h0m.1 117.8h0m0 6.1h0m.1-4.3h0m0 2.3h0m0-7h0m0 8.2h0m.1-5.7h0m0 4.6h0m0-58.3h0m0-7.3h0m0 29.8h0m.1-32.8h0m0 39.7h0m.1 9.4h0m0-17.5h0m0 32h0m.1 1.1h0m0-.2h0m.1 3.6h0m0-6.1h0m.1-.1h0m0-2.5h0m0 3h0m0 3h0m.1-60.4h0m0 55h0m.1 8.5h0m0-2.4h0m0-36.9h0m0 .3h0m0 34.4h0m.1-9.5h0m.1-5.9h0m0 14.3h0m.1-13.8h0m0 16.6h0m.1-51.5h0m0 5.2h0m.1 51.9h0m0-68.1h0m.1 62.7h0m0 4.1h0m.1-3.4h0m0 1.8h0m0-20.6h0m0 18.8h0m0-43.6h0m.1 29.7h0m0 5.7h0m0 1.8h0m0-2.3h0m0 1h0m.1 9.9h0m0-22.7h0m.1-108.1h0m0 127.3h0m.1-85.1h0m0 86.2h0m0-80.2h0m0 14.1h0m.1-20.6h0m0 85.5h0m0 4.6h0m0-.7h0m0-4.6h0m.1 3.4h0m0-32.5h0m0-.3h0m.1 19h0m0 14.5h0m.1-8.6h0m0-23.3h0m.1 23.5h0m.1-5.1h0m0 15.2h0m0-34.1h0m.1 3h0m.1 10.5h0m.1 6.7h0m.1 11.4h0m0-1.4h0m0 2.7h0m0 1.3h0m.1-14.3h0m.1 10.5h0m0-11.8h0m.1 11h0m.3-.4h0m0-18.6h0m.2 9.7h0m.4-115.8h0m.1 115.1h0m0-17.2h0m0 31.5h0m0-6.2h0m.1-27.1h0m0 30.3h0m0-1.3h0m0 .2h0m0-89.3h0m.2 91.7h0m0-9.7h0m.1 3.3h0m0-1.3h0m.1 3.1h0m0-26.5h0m.1 22.1h0m0-32.1h0m0-66.5h0m.1 84.8h0m0 24.2h0m.1-16.2h0m0-14.3h0m0-29.3h0m0 34h0m.1 19.3h0m.1 1.8h0m0-1.2h0m.1-48.8h0m0 5.7h0m0 45h0m.1-26.7h0m0 28.3h0m.1-2.7h0m.1 1.6h0m0 3.1h0m.1-6.8h0m0-7.1h0m0 6.8h0m.1 5.1h0m.1-4.7h0m0-3.6h0m.1-46.4h0m0-14h0m0 66.2h0m.1-40.6h0m.1 7.5h0m.1 36h0m0-7h0m0-26.8h0m.1 34.9h0m.1-4.4h0m.1-53.7h0m0 42.7h0m0 14.9h0m.2-2h0m0-34.8h0m.1 16.9h0m.1 17.2h0m.1 3.1h0m.1-7.9h0m.2 1.1h0m0-25.1h0m0-3.6h0m0 34.8h0m0-32.8h0m.2 23.3h0m.1 7.6h0m.1-61.7h0m0 61h0m.1-5.8h0m0-80.3h0m.1 86.8h0m.1-4.3h0m.1 .9h0m.2-4.6h0m0 5.9h0m.1-4.2h0m0 5h0m.2-2h0m0 4.3h0m.1-53.9h0m.2 49.7h0m0-18.1h0m0 19.7h0m0-1.3h0m.1 4.6h0m0-21.5h0m.2-25.2h0m.1 45.3h0m0-3.6h0m0-.3h0m.1-1.5h0m.4 .5h0m0-20.8h0m.4 16.1h0m.1 9.3h0m0-3.8h0m.1 2.7h0m0-1.9h0m.1 16.4h0m0-3.2h0m0-16.3h0m.1 12.6h0m0-20h0m0 25.9h0m0-12.7h0m0 16.4h0m0-14.3h0m.1 15.8h0m0-1.5h0m0-12.6h0m0 9.7h0m0-.7h0m.1-1.6h0m0-8.5h0m0 4h0m0-12.2h0m.1-6.9h0m0 17.8h0m0-6.5h0m0 15.8h0m.1-29.3h0m0 27.2h0m0-1.9h0m0 2.1h0m0 1.5h0m0-.5h0m.1-1.1h0m0 4.6h0m0-19.1h0m0 17.7h0m0-2.3h0" stroke="#32cd32" stroke-width="1.3" stroke-linecap="round" fill="none"/>
<path d="M333.3 209.1h0m0-10.6h0m0 6.5h0m0 .1h0m0 2.9h0m0-27.8h0m.1-7.7h0m0 30.2h0m0 5.3h0m.1-6.8h0m0-4.8h0m0 10.6h0m.1-7.1h0m0 5.7h0m0-4.9h0m0 5.9h0m0-9.5h0m0-18.3h0m0 19.9h0m.1 11.4h0m0-.1h0m0 .5h0m0-6.5h0m0 3.4h0m.1-9.6h0m0 7.5h0m0-2.9h0m0-15.2h0m.1 20.5h0m0 3.7h0m0-29.2h0m.2 2.6h0m.3-6.1h0m.2 12.5h0m.1-.5h0m0-9.8h0m.1-.5h0m.2 9.9h0m.4-4.6h0m0 2.1h0m.1-4.6h0m.1-10.2h0m.2-1.5h0m0 10.3h0m0-11.6h0m.1 17.7h0m.2-10.4h0m.3 6.3h0m0-15.6h0m.1 8.5h0m.1 14.4h0m.1 1.6h0m.1-55.6h0m.1 54.3h0m.1-2.2h0m.1-85.1h0m0 39.4h0m.1 47h0m.1-20.8h0m0 12h0m.1 7.6h0m.1-87.8h0m.2 21.7h0m0 50.8h0m.1 17.1h0m0 3.3h0m.1-25.5h0m.1 5.1h0m0 18.5h0m0-3.7h0m.1 1h0m.2-24.7h0m.1-64.5h0m.1 90h0m0-39.8h0m0 36.3h0m.1 2.8h0m0 4.8h0m.1-.6h0m.1 1.3h0m.1-4.6h0m.1 3.4h0m0 1.5h0m0-3.1h0m.1-12.2h0m0 5.8h0m.1-2h0m.1 6.3h0m.1-71.4h0m.1 76.9h0m.2-4.5h0m0-8h0m.1 9.9h0m0-14.5h0m.1 6.1h0m.1 11h0m.2-3.8h0m0-3.7h0m0 7.4h0m0-14.5h0m.1-26.3h0m0 41.4h0m.2-5.6h0m.1 3.7h0m.1-.9h0m.1-32h0m0 22.9h0m0 4.6h0m.1 6.7h0m.1-7.2h0m.1-38.4h0m.1 44.1h0m.1-3h0m.1-18.6h0m0 13.5h0m.1 7.3h0m0-3.8h0m.1-93.5h0m0 98.8h0m.1-12.5h0m0 3.8h0m.1-6.8h0m0 16.7h0m0 1.7h0m.1-1.7h0m0-.4h0m0-49.9h0m0 50h0m.1-16h0m.1 17.3h0m0-.9h0m0-5.1h0m0 8h0m.1-.4h0m0-.5h0m0-18.1h0m.2 3.9h0m0 8.6h0m.1 2h0m.1-21.5h0m.1 6.8h0m0-35.3h0m.1 42.7h0m.1 10.8h0m0-12.5h0m.1-8.8h0m0-41.6h0m0 49h0m.1 9.8h0m0 4.3h0m.1-37.5h0m0-25.4h0m.1 60.2h0m0 6.4h0m0-1.3h0m.1-5.9h0m0-2.5h0m0 8.7h0m.1-10.2h0m0 .5h0m.1 9h0m.1-44.4h0m.1 36.4h0m0-10.1h0m.1 20h0m0-9.7h0m0 7h0m0-.7h0m.1 3.1h0m0-2h0m0 2.7h0m.1-19.4h0m0-1.2h0m.1 21.3h0m0-16.2h0m0-44.6h0m0 59.7h0m0-6.1h0m.1-5h0m0-18.5h0m.1 20.1h0m0 5.3h0m.1-67.9h0m0 68h0m.2 2.7h0m.2-5.8h0m0-.1h0m.1 .6h0m.1-13.3h0m.1 19.9h0m.1-8.2h0m0 3.2h0m.1 .9h0m0 .7h0m.1-5.3h0m0 9.3h0m.2-3.5h0m0 5.8h0m.1-41h0m0 20.1h0m0-38.2h0m.1 31h0m0-.6h0m0 27.5h0m.2-42.8h0m0 2.4h0m0-3.7h0m0 40.2h0m.1 2.9h0m0 2.2h0m0-5.2h0m0-1.2h0m.1-12.7h0m0-60h0m0-18.4h0m.1 44.1h0m0-12.5h0m0 64.3h0m0-115.8h0m0 101.9h0m.1 2.4h0m0 5.9h0m.1 6.5h0m0 1h0m.1-3.6h0m0-22.8h0m0 14.9h0m0 10.5h0m.1-28.3h0m0 1.3h0m0 18h0m.1-1.1h0m0 1.4h0m0 3.8h0m0-.6h0m0-8.3h0m.2-26.9h0m0 33.1h0m.1-17.1h0m.1 15.4h0m.1-43.2h0m0 22.9h0m0-12.6h0m0 21.8h0m0 17.9h0m0 1.2h0m.1-73.1h0m0 75.2h0m.1 .5h0m0-2.8h0m0 3.2h0m0-15h0m0 6.4h0m0 6.1h0m0-9.6h0m.1-5.3h0m0-9.2h0m0 17.2h0m0-38.8h0m.1 47.3h0m0-2.4h0m0-5.5h0m0 1.1h0m.1-50.5h0m0 13.2h0m.1-18.3h0m0 61.8h0m0-38.8h0m0 17.9h0m0 17.6h0m0-28.5h0m0 32.3h0m.1-54.2h0m0 50.3h0m.1 5.3h0m0-83.8h0m0 47.4h0m0 34.5h0m0-30.5h0m0 30.9h0m0-12h0m0-38.1h0m0 47.7h0m.1 .4h0m0-7.8h0m0-89.3h0m.1 97.7h0m0 1.4h0m0-2.2h0m.1-16h0m0 11.5h0m0-11.2h0m0 15.9h0m.1-5.9h0m0 8.6h0m0-115.7h0m0 108.1h0m.1 7.8h0m0-11.1h0m0-4.2h0m.1 10.9h0m.1-16.5h0m.1 21h0m0-5h0m.1-65.5h0m.1 65.9h0m.1 3.9h0m0-17.6h0m0 11.9h0m.1 .1h0m0 4.6h0m0 3.5h0m0 .2h0m0-17.4h0m.1 17.3h0m0-4.9h0m.1-4.6h0m0-15.4h0m0 24.4h0m0-1.8h0m0-18.9h0m0 11.8h0m0-3.6h0m.1-6.1h0m0 16.5h0m.1-3.5h0m0-46.3h0m0 46.3h0m0 4.4h0m.1-6.5h0m0-20.9h0m0 24.1h0m0-8.8h0m.1-106.2h0m0 102.8h0m0 5.7h0m0 10.3h0m.1 .6h0m0-3.5h0m0 1h0m0-17.5h0m.1 13h0m0 5.2h0m.1 .2h0m0-44h0m0 39.9h0m0-20.9h0m.1 27.7h0m.1-7.8h0m0-8.8h0m0-101.1h0m0 111.9h0m0-32h0m0 24.9h0m.1-39.7h0m0 48.9h0m.1 3.7h0m0-3.1h0m0-5.2h0m0 8.5h0m0-42h0m.1 37.8h0m.1-54.6h0m0-5.3h0m0 61.7h0m0-12h0m0 10.8h0m.1-12.8h0m.1 .6h0m0 11.2h0m0-3.8h0m0 6.7h0m0-53h0m.1 54.7h0m0-2.1h0m0-.9h0m0 3.4h0m0-2.9h0m.1-5.8h0m0-10.2h0m0 19.1h0m.1-2h0m0-15h0m.1-30.4h0m0 41.6h0m.1-7.6h0m0 13.2h0m0-4.1h0m0-1.8h0m.1-1.6h0m0-47.6h0m.2 48.7h0m.1 1.7h0m0 4.7h0m0-2.2h0m.1 1.4h0m.1 1.9h0m0-10.4h0m.1-31h0m0-23.1h0m0 62.2h0m.1 .7h0m0-3.7h0m0 4.1h0m0 .9h0m.1-8.7h0m0 9.2h0m.1-11h0m.1 9.1h0m0-.4h0m.1-116h0m0 114h0m0-28.7h0m0 30.7h0m.1 1.9h0m0-.6h0m.1 1.4h0m0-1.6h0m0-7.5h0m0 1.7h0m0-2.7h0m0-34.2h0m0 40.5h0m.1 3.7h0m0-7.5h0m0-.2h0m0 7.9h0m0-15.1h0m0 12h0m.1 .6h0m0-5.1h0m0-2.3h0m.1 7.7h0m0-2.6h0m.1-3.7h0m0 8.6h0m0-3.7h0m.1-5.5h0m0-23.7h0m.1 25.4h0m0 .3h0m0 6.7h0m0 .4h0m0-3.4h0m.1-11h0m0-.7h0m0 13.6h0m.1-12.3h0m0 12.4h0m0-24.6h0m.1 22.1h0m.1-4.1h0m0-7.6h0m.1-94.1h0m0 106h0m.1 1.9h0m.1 .5h0m.1-19.7h0m0 7.3h0m0 9.3h0m.1-11.6h0m0 14.6h0m.1-8.6h0m0-1h0m0-.2h0m.1-7.9h0m0 2.2h0m0 14.1h0m0-16h0m.1-40.7h0m0 42.1h0m.1-8.6h0m0 18.7h0m.1-.3h0m0 6.1h0m0-26.7h0m.1 26.1h0m0-10.6h0m0-3.5h0m0 14.1h0m.1-6.9h0m.1-23.7h0m.1 27.2h0m0 4.2h0m.1 1.7h0m0 .2h0m0-3.5h0m0 2.9h0m0-17.6h0m.2 15.7h0m0-8.6h0m0 2h0m.1-65.7h0m0 72.1h0m.1-47.8h0m0 46.8h0m0 3.7h0m0-.7h0m.1-3.5h0m.1 3.3h0m0-1.8h0m.1 1.2h0m0 .6h0m.1-4.2h0m0 1.6h0m0-.3h0m.1-10h0m.1-6.3h0m0 17.2h0m0-52.4h0m.1 51.8h0m0-19.8h0m0 22.9h0m0-1h0m.1-35.9h0m0 34.5h0m0-14.9h0m0 13h0m0 3h0m.1-15.4h0m0 12.1h0m.1-60.8h0m0 64.8h0m0-4.8h0m0-1.7h0m.1 4.9h0m0 1.8h0m0-4.3h0m0 3.4h0m.1-110h0m0 98.8h0m0-.5h0m0 4.9h0m0 .9h0m.1-28.4h0m0 8.5h0m0 22.4h0m0 2.5h0m.1 .7h0m0-102h0m0 102.9h0m0-78.2h0m.1 73.6h0m.1 4.3h0m.1-3.2h0m.1-12.1h0m0-11.8h0m0 27.4h0m0-2.8h0m0-44.4h0m.2 45h0m0-5.8h0m.1-.3h0m0 8.1h0m.1-3.6h0m.3-16.5h0m0 15.2h0m.2 5.8h0m0-8.4h0m.1-42.9h0m0 47.3h0m.1 .5h0m.1-10.4h0m.1 6.3h0m0-.8h0m.1-72.3h0m0 80h0m0-1.2h0m0-.8h0m.1 .1h0m.1-8h0m0 4.8h0m0 1.8h0m.1 .8h0m.1 2.2h0m0-74.3h0m0 66.4h0m.1 8.8h0m.1-8h0m.5-10.2h0m.1-45.2h0m0 55.9h0m.1 2.3h0m.1 5h0m.1-3.9h0m0-2.6h0m.1 2.2h0m0-35h0m0 36.4h0m.1-40.1h0m0 41.1h0m.1 2h0m.1-58.2h0m0 .5h0m0 45.9h0m.1 11.4h0m0-4h0m.1-.7h0m.1-2.4h0m0 3.8h0m.1-6.7h0m.2-56.8h0m0-11.5h0m0 74.9h0m.1 3.3h0m0 0h0m.1-4.3h0m0-3.2h0m0-23.1h0m0 19.5h0m0 10.2h0m.1-1.2h0m0-196.9h0m.1 106.3h0m0 14h0m0 75.9h0m0-14.9h0m.1-50.2h0m0 68.1h0m0-2.7h0m.1-1.7h0m0 3.3h0m.1-11.1h0m.1 6.3h0m0 5.5h0m0-11.1h0m.1 10.3h0m0 .1h0m.1-49.9h0m0 12.8h0m.3 20.2h0m0 5.2h0m0-2.8h0m.1-20.1h0m.1 36.3h0m.1-1.9h0m0-7.2h0m.1 1.4h0m0 1.6h0m.1-14.3h0m0 13.8h0m.1-12.3h0m.1-54.8h0m.1 69.1h0m.2 3.9h0m0-93.5h0m0 91.4h0m.4-2.3h0m.1-9.6h0m.1 14.3h0m0-.6h0m0-105.4h0m.2 92.2h0m0 12.8h0m0-74.6h0m.1 74.9h0m.1-10.1h0m0 9.7h0m.1 .4h0m0 .4h0m.1 .2h0m.1-121.3h0m0 110.4h0m.1 6h0m0 4.1h0m0-.5h0m.1 1.3h0m0-3.7h0m0-3.9h0m.1 7.9h0m0-4.8h0m.1 5.1h0m.1-.2h0m.1 .1h0m.2-1h0m.1-.6h0m0 1.7h0m.1-1.5h0m0-4.4h0m0-46.7h0m.1 38.1h0m.2 13.5h0m0-14.7h0m0-103.3h0m.1 111.1h0m.1 2.7h0m0 2.5h0m0-54.4h0m.2 53.2h0m.1 3.3h0m0-26.7h0m.1 25.9h0m.1-4h0m.1 5.1h0m.1-3.3h0m0 .8h0m.1-31.3h0m.1 33.9h0m.1-28.9h0m.3 18.1h0m0 10.3h0m.3-31.7h0m.5 31.2h0m.2-2.2h0m0-16.9h0m.2-72.9h0m1.1 92h0m0-38h0m.4 38.3h0m.1 .2h0m0-.2h0m.2 0h0m0-.5h0m0-1h0m.2 1.1h0m.2-1h0m.1 .4h0m.1-.6h0m0 .2h0m.1 .7h0m.1-45h0m.3 44.8h0m.4-40.8h0m0 39.9h0m.1 .8h0m.2-1h0m.1 .5h0m0 .6h0m.1 .2h0m0-.6h0m.3-40.7h0m.2 39.9h0m0 .3h0m.2 .8h0m.4-.8h0m.1 .3h0m.3 .2h0m.2-1.3h0m.2 .7h0m.1-.5h0m.6 .8h0m.4-.5h0m.1-.8h0m.5 .9h0m.2-1.3h0m.4-.1h0m.6 .2h0m0 .1h0m.6-.3h0m.3 .8h0m.1-1.2h0m.5 .9h0m.1-1.2h0m.2 .8h0m.1-.8h0m0 1.1h0m.4-1.1h0m.5 .1h0m0 .1h0m.1-.6h0m.1 .7h0m.1-.2h0m.3 .2h0m.3-.2h0m.1-.3h0m.4-.5h0m0 .2h0m.1 .7h0m0-.1h0m0 0h0m.1 0h0m0 .1h0m.2-.7h0m.8 .3h0m.1-.4h0m.1-.4h0m.3 .2h0m.7-.3h0m.2 .4h0m.3-.6h0m1-.3h0m0 .3h0m0-.2h0m.2 .3h0m.7-.2h0m.2-.1h0m.1-.5h0m.1 .4h0m1.3-1h0m.1-.2h0m.8-.1h0m1 0h0m.2 .2h0m.2-.4h0m.1 0h0m.1-.3h0m.2-.2h0m.1 .2h0m.3 .2h0m.2-.2h0m.3 0h0m.1-.2h0m1.6-.5h0m0 .1h0m.4 0h0m.7-.5h0m.3-.1h0m.1-.3h0m.8-.2h0m.5 .1h0m.1-.1h0m.2-.1h0m.1 .2h0m.5-.2h0m0-.2h0m2.8-1h0m.1 .1h0m.3 0h0m.3-.3h0m.5-.2h0m.6-.1h0m1.2-.2h0m.1-.3h0" stroke="#cd2626" stroke-width="1.3" stroke-linecap="round" fill="none"/>
<path d="M233.9 212.5H235.5" stroke="#555" stroke-width=".4"/>
<text x="233.2" y="213.7" font-size="3.4" text-anchor="end" fill="#555">0</text>
<path d="M233.9 145H235.5" stroke="#555" stroke-width=".4"/>
<text x="233.2" y="146.2" font-size="3.4" text-anchor="end" fill="#555">100</text>
<path d="M233.9 77.5H235.5" stroke="#555" stroke-width=".4"/>
<text x="233.2" y="78.7" font-size="3.4" text-anchor="end" fill="#555">200</text>
<path d="M257.3 221.7V223.3" stroke="#555" stroke-width=".4"/>
<text x="257.3" y="226.1" font-size="3.4" text-anchor="middle" fill="#555">-10</text>
<path d="M291.8 221.7V223.3" stroke="#555" stroke-width=".4"/>
<text x="291.8" y="226.1" font-size="3.4" text-anchor="middle" fill="#555">-5</text>
<path d="M326.3 221.7V223.3" stroke="#555" stroke-width=".4"/>
<text x="326.3" y="226.1" font-size="3.4" text-anchor="middle" fill="#555">0</text>
<path d="M360.8 221.7V223.3" stroke="#555" stroke-width=".4"/>
<text x="360.8" y="226.1" font-size="3.4" text-anchor="middle" fill="#555">5</text>
<path d="M395.3 221.7V223.3" stroke="#555" stroke-width=".4"/>
<text x="395.3" y="226.1" font-size="3.4" text-anchor="middle" fill="#555">10</text>
<text transform="translate(326.3 231) scale(.9 1)" font-size="4.5" text-anchor="middle" fill="#222">log2 Fold Change</text>
<text transform="translate(225.9 116.5) rotate(-90) scale(.89 1)" font-size="4.5" text-anchor="middle" fill="#222">-log10(padj)</text>
<text transform="translate(424 107.8) scale(.9 1)" font-size="4.5" fill="#222">regulated</text>
<rect x="424.3" y="109.9" width="6" height="6" fill="#f5f5f5"/>
<circle cx="427.3" cy="112.9" r=".75" fill="#32cd32"/>
<text x="432.2" y="114.2" font-size="3.6" fill="#333">down</text>
<rect x="424.3" y="116.2" width="6" height="6" fill="#f5f5f5"/>
<circle cx="427.3" cy="119.2" r=".75" fill="#6495ed"/>
<text x="432.2" y="120.5" font-size="3.6" fill="#333">false</text>
<rect x="424.3" y="122.6" width="6" height="6" fill="#f5f5f5"/>
<circle cx="427.3" cy="125.6" r=".75" fill="#cd2626"/>
<text x="432.2" y="126.9" font-size="3.6" fill="#333">up</text>
<text x="222.6" y="17.8" font-family="Liberation Serif" font-size="14.6" fill="#111">B</text>
<rect x="445" y="0" width="224" height="238" fill="#fff"/>
<rect x="460" y="11.5" width="181.7" height="210.2" fill="none" stroke="#c4c4c4" stroke-width="1"/>
<path d="M543.6 213.1L543.6 193.5L551.2 211.3L557.3 195.5L557.3 213.1Z" fill="#6495ed"/>
<path d="M543.6 212.5L543.6 191.5L528.6 197.5L513.6 206.5L505.6 210.5L503.6 211.7L503.6 212.5Z" fill="#32cd32"/>
<path d="M557.3 212.5L557.3 192.5L572.3 197.5L590.3 206.5L597.3 210.5L600.3 211.7L600.3 212.5Z" fill="#cd2626"/>
<path d="M476.2 211.9h0m1.8-.3h0m.2 .1h0m.1 .5h0m.5-.4h0m.8 .1h0m.3 .3h0m.4-.4h0m1.2 .3h0m1.4 .2h0m2.2-.6h0m.9 .1h0m.5 .3h0m.2-.1h0m.8-.5h0m0 .2h0m0 .2h0m.9 0h0m.3 .3h0m.1-.4h0m.3 .1h0m.4-.1h0m.3 .1h0m.2-.2h0m.3 .2h0m.1-.4h0m.5 0h0m.4 .5h0m.5 .3h0m.3-.2h0m.1-.2h0m.3 0h0m.1 .1h0m0-.4h0m.3 .2h0m.5-.1h0m0-.1h0m.1 .4h0m0-.2h0m.3 .1h0m.1 0h0m.1-.2h0m.1 .2h0m.1 .3h0m.1-.4h0m.8 .2h0m.2 0h0m0-.1h0m.4 .5h0m.1 0h0m.1-.8h0m.7-.1h0m0 .6h0m.5-.6h0m0 .9h0m.3-.6h0m0 .2h0m1 .3h0m.3-.6h0m0-.1h0m.5 .5h0m.5-.5h0m.3 0h0m.1 .2h0m.2 0h0m.1 .4h0m.7 0h0m.4-.2h0m0 0h0m.9 0h0m0-.2h0m.2 .5h0m.6-.5h0m.3 0h0m.2-.3h0m.1 .5h0m.3-.3h0m.5 .7h0m.2-.1h0m.2-.3h0m.6 .2h0m.4 0h0m1.3-.1h0m.5-.5h0m.2 .5h0m.5-.4h0m0 .4h0m.2-.6h0m0 .9h0m.9-.2h0m.1-.5h0m.1 .4h0m1-.4h0m.1 0h0m.2 .4h0m1.1 .1h0m.1-.7h0m.5 .1h0m.3 .3h0m.2-.2h0m.4-.1h0m.2 .1h0m0 0h0m.1 .3h0m.1-.2h0m.5 .5h0m.3-.1h0m.2-.1h0m.6 0h0m0-.2h0m.5 .2h0m.7-.2h0m1-.3h0m.2 .1h0m.1 .6h0m0-.4h0m.1-.2h0m.3 0h0m.3 0h0m.7 0h0m.2 .5h0m.3-.4h0m0 .3h0m.1-.2h0m.8-.1h0m.7 .3h0m.1 .2h0m.1-.5h0m.1 .5h0m.1-.4h0m.2 .3h0m.4-.2h0m.3 0h0m.2-.4h0m.8 .2h0m.5 .5h0m1.2-.6h0m.4 .6h0m0-.5h0m.1 .1h0m.2 .1h0m.1 0h0m.2 .4h0m.6-.9h0m.8 .4h0m0-.2h0m.2 .5h0m.1-.3h0m.1 .5h0m.2-.4h0m.2-.4h0m.3 0h0m0 .7h0m.3-.3h0m.1 .3h0m.2-.1h0m.3-.6h0m.1 .3h0m.3-.2h0m.2 .2h0m.4 .3h0m.1-.2h0m.2-.4h0m0 .7h0m.2-.4h0m.2-.4h0m0 .6h0m0 .3h0m.1-.8h0m.1 .1h0m0-.1h0m.1 .3h0m.2 0h0m.1-.2h0m1.4-.1h0m.4 .6h0m0-.3h0m.7 .2h0m.4-.4h0m.2 .5h0m.1-.5h0m.1 .5h0m.3 0h0m.1 .1h0m.1-.7h0m.4 .8h0m.2-.1h0m.1-.7h0m1.5 .7h0m.2-.5h0m.1 .4h0m.1-.1h0m.5 .2h0m.2-.8h0m.2 .3h0m.6 .3h0m.2-.3h0m.2 .2h0m0 .1h0m.2 .2h0m.2 0h0m.2-.7h0m.1-.1h0m0 .6h0m.5 .1h0m0 .1h0m.4-.5h0m.6 0h0m.1-.1h0m.2 .3h0m.5-.2h0m.3 0h0m.1 0h0m.4-.2h0m.1-17.1h0m0 17.1h0m.2 .6h0m.1-16.9h0m.1 1.8h0m0 14.7h0m.4-14.4h0m.1 15h0m.2-14.9h0m0 14.7h0m.2-13h0m.3 13.1h0m.1-11.6h0m.1 10.9h0m0 .5h0m.1-11.7h0m.1-.2h0m0 .3h0m0 11.8h0m0-.2h0m.1-12h0m.1-1.1h0m.2 3.4h0m0-2h0m.1 11.4h0m.1-.3h0m.1-10.8h0m.3 11.6h0m.1-.2h0m.3 0h0m.1-7.5h0m.1 7.1h0m.1-8.2h0m.2 1.3h0m.1 1.7h0m0 1.2h0m.1 4.2h0m.4 .5h0m.3-3.5h0m.2 2.8h0m.1-2.1h0m0-2.3h0m.1 4.6h0m0-.1h0m0-5.4h0m.2 2.7h0m.1 2.5h0m.1-3.6h0m0 1.6h0m0 2.4h0m.2-3.4h0m.1-.8h0m.1 1.4h0m0 3.1h0m.2-1.6h0m.1 .6h0m0 .3h0m.1-1.4h0m0 .8h0m0 1.1h0m.6-1.2h0m0 1.2h0m0 0h0m.1 .3h0m.1-.7h0m.2-5h0m.1 5h0m.1 .7h0m.1-.2h0m.4-4.4h0m.1 4.1h0m0-6.7h0m.1-.2h0m.1-.2h0m.2 3.1h0m0 4.3h0m.1 .1h0m0-.5h0m.2 .3h0m.2-7h0m.2-2.3h0m.1 9.4h0m0-7.3h0m.2 6.6h0m.1-9.1h0m.2 1.9h0m0 .4h0m.2-1.1h0m0 7.9h0m0-8h0m0-1.1h0m.3-1.9h0m0 1.7h0m.3-3.1h0m.1 13.3h0m.1-.5h0m.3 0h0m0-.2h0m.1-12.2h0m0-.1h0m.1 .7h0m.3-2.7h0m.4 1.8h0m.1 12.9h0m.1-14.8h0m0 14.7h0m.3-15.8h0m.4 15.7h0m.3 .2h0m0 0h0m.3 .2h0m.2-.5h0m0 .5h0m.1-.8h0m.1 .5h0m.4 .1h0m0 .3h0m.4-.4h0m0-.2h0m.2 0h0m.3 .4h0m0-.2h0m0-.2h0m.3-.1h0m0 .1h0m.5 .5h0m.3-.1h0m.5-.6h0m.2 .7h0m.2 .1h0m.2-.2h0m0-.7h0m.1 .8h0m.1-.4h0m.1-.3h0m.2 .8h0m.1-.5h0m.5 .4h0m.9 0h0m.1 0h0m.1-.5h0m.3 .5h0m.4-.1h0m.6-.6h0m.6 .6h0m.1-.2h0m.4 .1h0m.1 0h0m.1 .2h0m.3-.7h0m.1 .8h0m.1-.3h0m1-.1h0m.2-.3h0m0 .2h0m.1-.3h0m.2 0h0m.5 .6h0m.3-.1h0m.2-.5h0m.4 .3h0m.3 .2h0m.2-.2h0m.1 .2h0m.1 .3h0m.4-.4h0m.7 .2h0m.7-.1h0m.1 .1h0m.1-.2h0m.7-.1h0m1 0h0m.1-.2h0m.2 .6h0m.4-.7h0m.3 .5h0m.5 0h0m.1-.2h0m.9 0h0m0-.2h0m.3 0h0m.1 .1h0m.1-.2h0m.4 .7h0m.4-.6h0m.1 .3h0m.1 0h0m.6-.5h0m.2 .3h0m0 0h0m0 .6h0m.1-.8h0m.6 .4h0m.2 .3h0m.1-.1h0m.6-.3h0m0 .2h0m0-.4h0m0 .2h0m.5-.2h0m.6 .1h0m.2-.1h0m.2 0h0m.6 0h0m.5 .4h0m.1-.2h0m.1 0h0m.1 .3h0m.2-.3h0m.1-.3h0m.8 .7h0m.8-.2h0m.8 0h0m.7-.1h0m.4-.1h0m.5-.3h0m.1 .6h0m.2 .1h0m.3-.5h0m.6 0h0m.3 .4h0m0-.2h0m.1-.2h0m.2 .1h0m0 0h0m.1-.1h0m.7 .5h0m.7-.6h0m.1 .5h0m.3-.2h0m.1 0h0m.2-.4h0m.3 .7h0m.3-.6h0m.2 .1h0m.8 .5h0m.2-.8h0m.2 .2h0m.7 .1h0m.2 .4h0m1.1 .1h0m.9 0h0m.1-.1h0m.1-.5h0m.1 0h0m.4 .7h0m.2-.4h0m.1 0h0m.5 .3h0m.6-.6h0m0 .4h0m.1-.4h0m.4 .5h0m.1-.2h0m.1 .3h0m.5-.3h0m0-.2h0m.1 .3h0m.2-.1h0m.2-.4h0m1 .8h0m.7-.7h0m.1 .2h0m.2 .2h0m0 .2h0m.5-.7h0m0 0h0m1 .7h0m0-.1h0m.4-.1h0m0-.3h0m.2-.2h0m.4-.1h0m.3 .1h0m.4 .7h0m.2 0h0m.5-.7h0m.1 .2h0m1.2 .6h0m.3-.3h0m.1-.6h0m.2 .8h0m.4-.1h0m1.6 0h0m.4-.7h0m0 .7h0m.5-.3h0m0-.4h0m.1 .1h0m.2 .5h0m.5 .2h0" stroke="#6495ed" stroke-width="1.3" stroke-linecap="round" fill="none"/>
<path d="M466.1 189.9h0m1.3 12.7h0m.3-1.6h0m.6-1.7h0m.1 .2h0m0-.1h0m.3 .1h0m.1 .1h0m0-3.5h0m0-9.9h0m0 13.4h0m0 .2h0m0 10.1h0m.1-10.1h0m0-.1h0m0-.1h0m.2 .3h0m0-.2h0m0 .2h0m0-.4h0m.1 8.5h0m0-8.4h0m.2-30.9h0m0 31.2h0m.1-.1h0m.1-.1h0m0 0h0m.1 0h0m0 .3h0m0-.4h0m0-188h0m.3 188.2h0m.1 .4h0m.1-.4h0m.1 6.4h0m.2-5.9h0m0 0h0m0 10.1h0m.2-10.4h0m.3 0h0m0 .5h0m0-.2h0m.1 0h0m.2 .5h0m.1-.1h0m.1-189.2h0m0 175.4h0m.1 13.3h0m0 .6h0m0 0h0m.4 0h0m0 .2h0m.1-.3h0m.1-.2h0m0 .4h0m.1-.2h0m.1 .4h0m0-.7h0m.1 .4h0m0-.1h0m.2 .5h0m0-.2h0m0 0h0m.2 .3h0m0-.4h0m0 .4h0m.1-.2h0m0-.3h0m.1-.2h0m.1 .7h0m0 4.8h0m.2-5.1h0m0-.4h0m0-189.1h0m.1 189.2h0m.2 .6h0m.4 .4h0m.4-.2h0m0-.4h0m.1-.3h0m0 1.2h0m.1 0h0m0-.5h0m.3 0h0m.2 .7h0m.2-1h0m0 .3h0m.1 .1h0m.1 .6h0m0-.8h0m0 0h0m0-189.9h0m0 190.8h0m.1-1.2h0m.1 0h0m.1 1.2h0m0-3.6h0m.1 7.4h0m0-3.9h0m.1-.7h0m.1 0h0m.1 1h0m0 .2h0m.2-1.3h0m0 0h0m.1-.2h0m.2 .6h0m0 6h0m0-5.8h0m0 .6h0m.1 .2h0m0-1.1h0m.1 .7h0m0-.3h0m.1-.5h0m0 .3h0m0-.2h0m0-2.7h0m.1 2.6h0m0 .6h0m.3-5.4h0m.1 6.1h0m.1 .2h0m0-191.4h0m.1 196.3h0m.1-7.6h0m0 2.1h0m.1 .2h0m0 .7h0m.1-1.4h0m.1 1.3h0m.2-.8h0m.1-.5h0m.2 2.5h0m.2-1.1h0m.1-.9h0m0-190.9h0m0 191.1h0m.1 .2h0m0 6.7h0m.1-6.2h0m0 .2h0m.1-1.2h0m.1 1h0m.1-.6h0m.3 .7h0m0-1h0m0-.2h0m.1 .5h0m0-.3h0m0 .6h0m.1 .4h0m0-.4h0m0-8.5h0m.1 9.1h0m0 0h0m.1-.5h0m.1 1h0m0-.2h0m.1-.6h0m0 .8h0m.2-2h0m0 1.9h0m0 .2h0m.2-2h0m.1 .6h0m.1 1.1h0m.2-.6h0m0 .6h0m0-1.2h0m.1-15.8h0m0 17.5h0m0-1.3h0m.1-.5h0m0-191.2h0m.1 193.2h0m0-.1h0m.5-.8h0m.2 1.1h0m.1-.7h0m0 .3h0m.1 .2h0m0-.2h0m.1-1.5h0m.1 .9h0m.1-1h0m.1 1.2h0m0 .4h0m.1 .1h0m0 .5h0m0-1.1h0m.1 1.3h0m.1-.8h0m0-8.7h0m.1 9.3h0m.1-.5h0m.1-20.5h0m0 21.2h0m.2-.8h0m.1 5.4h0m0-5.7h0m.1 1.3h0m0 0h0m0-.2h0m.1 .2h0m0-2.5h0m0 1.9h0m0-.7h0m.2 1.2h0m0-1.4h0m0-.6h0m.1 1.5h0m.2 .4h0m0-1.8h0m0 1.3h0m.1 .8h0m0 .1h0m0-.5h0m0-.4h0m.1-1.2h0m0 1.9h0m.3-.1h0m0-.2h0m.1-.3h0m0 .9h0m0-1h0m.1 .6h0m.1-1.1h0m0-.6h0m.1 .7h0m0 .8h0m.1 .9h0m0-.8h0m0-8.3h0m.1 7.8h0m.1 1.2h0m.1-.1h0m.1-2.3h0m0 .7h0m.1-.2h0m0 1h0m.3-.7h0m.1-.4h0m.1 2.6h0m0-2.4h0m0-42.7h0m.1 41.5h0m.1 3.3h0m0-.1h0m0-1.8h0m.1 1.3h0m.1 .6h0m0-2.5h0m.1 .9h0m.1 1h0m.1-25.5h0m0 25.2h0m.1-.4h0m0 1.7h0m.1 0h0m.1-97h0m.1 95.2h0m.1-193.3h0m0 193h0m.2 2.3h0m.1 .1h0m.1-1.6h0m.1 1.4h0m0-1h0m0-1.3h0m.1 2.4h0m0-2.7h0m.2 6.2h0m.1 .4h0m0-4.3h0m.1 .6h0m0-3h0m0 .2h0m0 1.7h0m.1 1.1h0m0-1.4h0m.1-.5h0m.1 1.5h0m0-2h0m.1 2.7h0m0 .1h0m0-.6h0m.1-14.5h0m0 14.7h0m.2-22.9h0m.1 21.2h0m0 3.7h0m.2-1.4h0m.1-2.3h0m0 .8h0m.1-194.5h0m.1 196.2h0m0-.5h0m0-1.7h0m.1-.2h0m0 1.3h0m.1 .4h0m.1 .7h0m.1 .7h0m0-.9h0m0-.2h0m.1-1.1h0m.4 .3h0m0 3.8h0m0-10.1h0m.1 7.7h0m.1-.2h0m0-.8h0m0 .9h0m0-.1h0m0 .3h0m.1-2.2h0m.1 2.2h0m.1-.4h0m0-1.3h0m0-.4h0m.1 1h0m.1 0h0m.1-.7h0m0 1.3h0m.2 .2h0m.2-.8h0m.1 1.1h0m.1 .4h0m0-65.6h0m0 62.2h0m0-193.7h0m0 194.7h0m.1-.3h0m.1-19.6h0m0 19.2h0m0 .9h0m.1 .1h0m.1 .5h0m0-1.4h0m.1 .6h0m0 1.2h0m0 1.5h0m0-3.5h0m.1-98.8h0m0-19.7h0m.1 120.6h0m.1-.4h0m.1-.5h0m.1 2.3h0m.1-3.1h0m.1-31.8h0m.2 32.2h0m0 .8h0m0 1h0m.3-2h0m0 2.9h0m.2-2.1h0m.1 .6h0m.1 .2h0m0-1.9h0m0 2.4h0m.1 3.4h0m0-15.9h0m.1-95h0m0 107.8h0m0-1h0m.1-3.2h0m0-192.7h0m.1 174.3h0m0-174.3h0m0 195.4h0m0 1h0m.1 .8h0m0-116.5h0m.1 113.5h0m0 2.8h0m.1-1.9h0m.1-1.3h0m.1 4.3h0m0-198h0m0 159.4h0m0 38.6h0m.2-3.6h0m.1 4.1h0m0-.1h0m0-22.1h0m0 18.5h0m.1 3h0m0-.4h0m0-.9h0m0-2.3h0m.1 4.2h0m.1-4.1h0m0 .6h0m0 3.6h0m0-3.7h0m.1 .3h0m0-.3h0m.1 .2h0m0 .5h0m.1 .3h0m.1 .4h0m0 2h0m.1 .2h0m.1-6.5h0m0-7.7h0m.1 11.6h0m0 2.7h0m0-.5h0m.1-13.6h0m0-12.7h0m.1 23.8h0m0 2.2h0m0 .8h0m.1-9h0m.1 6.2h0m0 0h0m0 .8h0m0 1.6h0m.1-2.5h0m0 1.7h0m.1 .4h0m0-2.6h0m.1 3.9h0m0-101.3h0m0 93.3h0m.1 4.6h0m.1 .3h0m.1-.8h0m0-61.4h0m0 64.8h0m.1 .4h0m0-.7h0m0 .3h0m0-2.6h0m0 1.1h0m.1-1.8h0m0 .7h0m.1-1.1h0m.1 3.6h0m0-1.1h0m0 .1h0m.1 .6h0m0-26.1h0m0-81.9h0m.1 107.7h0m0-103.4h0m.2 101h0m0 3.4h0m0-1h0m0 .2h0m.2-1.2h0m0-1.8h0m0 0h0m.1 4.3h0m0-2.5h0m0 .9h0m0-7.8h0m0 8.3h0m.1-37.3h0m0-19.5h0m0 58.1h0m.1-.8h0m0-166.7h0m0-32h0m0 196.4h0m.1-38.8h0m0 26.6h0m.1 3.9h0m0-15.5h0m.1 23.6h0m0 .8h0m0-3.5h0m0-193.5h0m0 196.7h0m.1 1.3h0m.1-30.4h0m0 16.5h0m0 7.4h0m0 4h0m0 2.2h0m0-.8h0m.1-5.2h0m0-20.9h0m0 26.8h0m0 .9h0m0-21.6h0m.1-65.6h0m0 87.9h0m.1-18h0m0 12.2h0m.2 4.2h0m.2-13.7h0m0 10.3h0m0 5h0m0-11.7h0m0-86h0m.1 93.8h0m0-4.4h0m.2-97.4h0m0 104.3h0m.1-3.4h0m0 5.1h0m0-25.5h0m.1-47h0m.1 56.6h0m0 11h0m.1-1.9h0m.1-77.1h0m0 55.2h0m.1-39.4h0m0 14.4h0m.1 37.4h0m.2 12.6h0m.1 2.1h0m.1-151.2h0m0 141.2h0m0 11.8h0m.1-102h0m0-97.7h0m0 185.1h0m.1 3.4h0m0 7.8h0m.1-28.1h0m0 20.4h0m.1 11.4h0m.1-1.4h0m.1-29h0m.2 25.9h0m0-2.4h0m.1 3.3h0m.1-10.5h0m0-48.8h0m.1 60.9h0m0-84h0m0 86h0m0-.4h0m.2-10h0m.1 5.8h0m0-7.5h0m0-7.4h0m.1-73.3h0m0 91.1h0m0-39.1h0m.1 27.8h0m.1-45.4h0m.1 42.5h0m.1-49.8h0m0 63.2h0m0-61.4h0m.2 40.8h0m0 11.7h0m0 4.3h0m0 6.6h0m.2-30.3h0m0 26h0m.1-.1h0m0 4.3h0m0-44.6h0m0-23.4h0m0-111.2h0m.1 168.5h0m0 11.2h0m0-199.9h0m0 190.8h0m.1 3.1h0m0-12.6h0m.1 18.3h0m0-45h0m0 26.8h0m0 17.5h0m0-10.3h0m.1 10.5h0m0-5.8h0m.1-4.2h0m0-95.5h0m0 87.9h0m0 12.9h0m.4-194.4h0m.1 190.4h0m.1-10.8h0m.1-96.6h0m0-53.6h0m.1 103.6h0m0 61.1h0m0-39.7h0m0 33.6h0m.1-20.4h0m0 24.7h0m.1 5.3h0m0-9.2h0m0-15.1h0m0 20.4h0m.1-147.6h0m0 146.6h0m0-192.6h0m.1 197.6h0m0-7.5h0m0 9.4h0m.1-23.3h0m.1 20.8h0m.3-35.8h0m0 31.2h0m0-2.2h0m0-141.3h0m0 150.3h0m0-1.3h0m0-1h0m.1-1.2h0m0-99.2h0m.1 91h0m0-1.8h0m0-10.6h0m0 8.5h0m.1 7h0m0-.8h0m0-13.4h0m0 17.1h0m.1 5.1h0m0-2.4h0m0-16h0m.1 8.9h0m0-.5h0m.1-59.9h0m0 48h0m.1 15.3h0m0-7.2h0m.1-17.3h0m0-22.3h0m.1 42.5h0m0 2.9h0m0-32.5h0m.1 28.6h0m0-.2h0m0 1.7h0m0-15.3h0m.1-6.9h0m0 2.2h0m0-19.6h0m.1 38.4h0m.1 .3h0m0-.3h0m.1-3.2h0m0-.5h0m0-37.2h0m.1 33.3h0m0 8.2h0m.1 9.5h0m0-.5h0m0-3.3h0m0-151.4h0m0 136.3h0m.1-16.1h0m0-34h0m0 63.7h0m0-42.9h0m0-7.5h0m0-141.5h0m.1 97.1h0m.1 96.9h0m0-103.4h0m0 84.5h0m0 17.7h0m.1-17.9h0m.1 19.8h0m0-152.3h0m0 153.8h0m0-16.5h0m0 17.3h0m.1-47.7h0m0 46.2h0m.1-.5h0m.1-195h0m0 180.4h0m0 14.5h0m0-1.8h0m0-1.1h0m.1-5.1h0m0 9h0m0-3.6h0m.1-15.9h0m0 13.7h0m.1-23.2h0m0-109.9h0m.2 81.9h0m.1 46.2h0m0-36.6h0m.1-55.1h0m0 95h0m0-48.2h0m.1-33.8h0m0 90.3h0m.1-69.6h0m0 10.4h0m.1 20.5h0m0 31.6h0m0 2.7h0m.2-4.8h0m0-.3h0m0-23.1h0m0 26.6h0m.1 .1h0m0-8.1h0m0-65h0m0 74.9h0m0-2.3h0m.1 5.9h0m0-14.1h0m.1 10.7h0m0-32.3h0m0 34.6h0m.2-195.1h0m0 176.7h0m.1 13.5h0m0 4.8h0m0-4.7h0m.1 3.2h0m0 2.9h0m0-15.5h0m0 11.3h0m.1-8.4h0m0-9.5h0m0-13.7h0m.1-21.3h0m0 19.3h0m0 37.1h0m0-21.7h0m.1-62h0m0 77.2h0m0-2.1h0m0 1.5h0m.1 6.1h0m0-16.8h0m0-37.8h0m0 51.8h0m.1-2h0m0-5.3h0m0 1.4h0m.1-23.7h0m0 7.9h0m.2 19.8h0m.1-13.4h0m0 12.4h0m.1-1.6h0m.1-14.5h0m0-2.5h0m0-48h0m.1 40.4h0m0 29.1h0m.1 .8h0m0-3.7h0m0-24.9h0m0-2.6h0m0 18.8h0m.2-14h0m0 18.5h0m0 9.5h0m0-19.7h0m0-79.4h0m.1-95.1h0m0 192.8h0m0 2.1h0m0-6.3h0m.1 1.4h0m0-27h0m.1 27.1h0m0 5.3h0m0-13.4h0m.1 10.9h0m0-95.5h0m0 90.5h0m.2-7.1h0m0 9.6h0m.1 0h0m.1-5.7h0m0-41.6h0m0 38.3h0m.1 7.1h0m0-9.6h0m0 14.7h0m0-4.7h0m0 4.9h0m.1-79h0m0 69.8h0m0-17h0m.1-28.8h0m0-.6h0m0 48.1h0m.1 4h0m0-7.3h0m0 3.2h0m.1-77.2h0m0 55.2h0m.1 23.9h0m0-50.3h0m.1 19.9h0m.1-4.4h0m0 23.6h0m0 8.4h0m0 6.7h0m0-31.6h0m.1 18.3h0m0 14h0m0 1.1h0m0-8.2h0m0-2.7h0m0 5.4h0m.1 4.8h0m0-5h0m0-2.8h0m0 6h0m0 .8h0m.1 2.1h0m0-9.2h0m0-46.1h0m.1 49.8h0m0 2.4h0m.1-77h0m0 77.8h0m0-49h0m.1-3.6h0m.1 43h0m0-135.4h0m0 147.7h0m.1-24.9h0m0-87.8h0m0 106.8h0m0 1.4h0m.1 2.4h0m0-1.1h0m0-68.1h0m0 44.2h0m0-17.1h0m.1 37.8h0m0-27.7h0m0 31.6h0m0-12.8h0m.1-3.6h0m0 14.8h0m.1-7.6h0m0 8.9h0m0-79.1h0m.1 25.9h0m.1 54.1h0m0-6.7h0m0-34.1h0m.1 20.9h0m.1 10.3h0m0-57h0m0 52.5h0m.1-58.6h0m0 29.5h0m.1 36.4h0m0-1.1h0m0 6.8h0m0 1.5h0m0-193h0m.1 194.2h0m0-6.5h0m0 5.2h0m0-5.8h0m0-32.8h0m.1 31.6h0m0-1.8h0m0-178.6h0m.1 187h0m0-31h0m0-161.7h0m.1 192.5h0m0-72.5h0m0 64.2h0m.1-4.3h0m0-61.8h0m.1 68.5h0m0 4.7h0m0-23.4h0m0-95.9h0m.1 120.3h0m0-3.2h0m0 3.6h0m.1-2.8h0m0-125h0m0 126.7h0m0-11.6h0m.1-26.1h0m.1 30h0m0-5.9h0m0 15.1h0m0-5.7h0m0-5.9h0m.1 10h0m.1-28.2h0m0 17.3h0m0-3.9h0m.1-5.7h0m0 22.8h0m0-77.5h0m.1 70.6h0m0-55.3h0m0 43.2h0m.2 15.6h0m0-55.1h0m0 30.4h0m0 21.5h0m0-54.8h0m.1 32.8h0m0 23.8h0m0 3.2h0m.1-15h0m.1 11h0m0-21.6h0m.1 14.6h0m0 10h0m0-20.7h0m.1 8.4h0m0-83.5h0m0 72.6h0m0 20.5h0m.1-47.2h0m0 50.1h0m.1-36.2h0m0 22.6h0m.2-31.3h0m0-25.2h0m.1 58.2h0m0-179.5h0m0 155.5h0m0 33.3h0m0-2.8h0m.1-10.1h0m0 14.1h0m0-9.5h0m0-166.1h0m0 38.6h0m0 139.6h0m.1-87.2h0m.1 81.6h0m0-2.8h0m0-31.8h0m0-71.1h0m0-1.8h0m.2 105h0m.1 6.7h0m.1-23.3h0m0 11.7h0m.1-113.8h0m0 95.7h0m0 14.4h0m0-24.5h0m0 27.6h0m0 5h0m0 6.2h0m0 2.1h0m.1-63.1h0m0 45.4h0m0-65h0m.1-109.6h0m0 188.8h0m0 .3h0m0 2.9h0m0 .2h0m.1-7.4h0m.1-17.7h0m0-14h0m.1-13.3h0m0 34.8h0m.1-24.1h0m0 41.6h0m.1-20.9h0m.1 17.7h0m0-37.3h0m.1 29.7h0m.1-18.9h0m0 19.4h0m0-137.9h0m.1 26.7h0m0 110.2h0m.1 10.1h0m0-113.3h0m0 109.8h0m.1-15.4h0m0 17.7h0m0 1.8h0m.1-18.1h0m.1 9.6h0m.1-61.8h0m.1 63.5h0m0 5.1h0m0-37.7h0m.1 18.9h0m0 9.7h0m0-91.8h0m.1 85.7h0m0-35.2h0m0 27.4h0m.1 3h0m0 14h0m0-58.3h0m.1 52.4h0m.1 5.3h0m0-3.1h0m0-30h0m.1 28.7h0m0-3h0m0-18.2h0m0-.7h0m.1 34.1h0m0-78.8h0m0 28.8h0m0 47.5h0m.1-23.4h0m0 21.5h0m0-74.4h0m.1 75.7h0m0-35.4h0m0 23.9h0m0-9.8h0m0-166.4h0m.1 20.7h0m0 155.4h0m0-35.7h0m.2 27.8h0m0 21.3h0m.1-10.2h0m0-22h0m0 18.5h0m.1 13.5h0m0 .8h0m0-17.2h0m0 11.7h0m0 .7h0m0 2.6h0m.1 2.2h0m0-29.7h0m0 17h0m.1-30.7h0m.1 42.7h0m0-.7h0m.1-23.8h0m0 20.8h0m.1-5.6h0m0-12.1h0m0 10.7h0m0-10.8h0m.1-72.7h0m0 89.7h0m0-25.6h0m0-12.9h0m.1-.7h0m0-14.6h0m0 56.8h0m.1-151.8h0m0 112.7h0m.1-17.8h0m0 54.8h0m0-7.3h0m0 4.9h0m0-25.6h0m.1-35.1h0m0-67.1h0m0 129.7h0m0-18.5h0m.1-26.3h0m0-137.9h0m0 87.5h0m.1 67h0m0-11.7h0m0 30.1h0m.1 7h0m0-5.6h0m.1-35.6h0m.1 45.8h0m0-20.7h0m.1 13.8h0m0-25.4h0m0 22.6h0m0 10.4h0m0-3.9h0m0-9.5h0m.1-3.3h0m.1-10.9h0m0 9h0m.1-5.6h0m0 23.5h0m0 0h0m0-30.1h0m0 20.7h0m.1-1.9h0m0 6.7h0m.1-5.4h0m0-108.2h0m0 119.7h0m.1-12.1h0m0-23.2h0m0 22.6h0m0 6.9h0m.2-25.2h0m.1 17.9h0m0 3.7h0m.1 3.3h0m0-23.7h0m0-2.1h0m.1 27.4h0m0-13.2h0m0-11.3h0m.1 23.4h0m0-77.6h0m0-34.5h0m.1 116.9h0m.1-2.9h0m0-6.3h0m0 7.1h0m0-13.1h0m0 15.3h0m.2-4h0m0-54.7h0m.1-9.1h0m0 39.1h0m0 16.8h0m.1 .1h0m0-1.7h0m0 13.4h0m.1-6.9h0m0-8h0m0 15.4h0m0-1.2h0m.1-23.5h0m0-64.9h0m.1 76.6h0m0 6.6h0m0-69.8h0m0 73.9h0m0 .4h0m.1-9.1h0m0-2.2h0m0 10.7h0m0-10h0m.1 8.7h0m0-55h0m0 31.9h0m.1-161.6h0m0 175.4h0m.1-44h0m0 56.1h0m0-187.5h0m0 164.3h0m.1-8.1h0m0 31.9h0m0-110.9h0m.1 47.9h0m.2 21.9h0m.1 30.6h0m0-104.5h0m.1 103.6h0m0 11.1h0m0-2.7h0m0-16.8h0m0-28.5h0m0 35.8h0m.1-17.9h0m0-112.1h0m0 137.5h0m0-18.6h0m0 12.8h0m0-7.9h0m.1-84.3h0m0 100h0m0-25.7h0m0-12h0m0 1.1h0m.1 36.3h0m.1-4h0m0-79.2h0m0 41.9h0m.1 38.5h0m0-25.6h0m0 27.4h0m0-15.8h0m.1 .3h0m0 18.6h0m0-10h0m0-129.9h0m.1 123.8h0m.1 7.2h0m0 5.4h0m0-183.4h0m0 110.3h0m0 76.5h0m.1-11.2h0m0 3.4h0m0-32.5h0m0 26.4h0m0-52h0m0 64.6h0m.2-39.6h0m0 3.7h0m0-3.6h0m.1 25.8h0m0 13.8h0m.1-5.1h0m0 5.7h0m.1-15.8h0m0-73.5h0m.1 74.5h0m0-162.9h0m0 173.3h0m.1-181.8h0m0 165.7h0m0 4.9h0m0 10.3h0m.1-89.3h0m0 92.4h0m0-15h0m0 15.6h0m.1-11.1h0m0 12.6h0m0-5.6h0m0-6.4h0m0-37.8h0m.1 17.7h0m0-46.9h0m0 78.4h0m0-8.9h0m0-25.9h0m.1 30h0m0-28h0m0 28.4h0m.1 3.3h0m0-12.8h0m0-5.3h0m.1 16.3h0m0-8.4h0m.1-166.9h0m.1 99.7h0m.1 76.8h0m0-2.8h0m.1-1.1h0m0-9.5h0m0-20.9h0m.1 28.5h0m.1 6.1h0m0 1.5h0m0-9.8h0m.2 2.2h0m0-12h0m.1 15.4h0m0-.3h0m0-15.9h0m0 11.5h0m.1-140.1h0m0 97.5h0m0 39.4h0m0-33.2h0m.1 33.4h0m.1 9.8h0m.1-8.9h0m0-.9h0m0-54.5h0m0 51.5h0m0 15.3h0m.2-74h0m.1 68.1h0m0-7.7h0m.1 4.4h0m0 6.5h0m.1-9.9h0m0 9.8h0m.1-.6h0m0-182.6h0m.1 170.7h0m0 .5h0m.1-19h0m.1-35.2h0m0 35.1h0m.1-144.9h0m0 107.1h0m.1 12.6h0m0 56.4h0m0 1.6h0m0-20.8h0m0 20.4h0m.1-77.6h0m0 65h0m0-2.6h0m0-6.4h0m.1 12.6h0m0 6h0m0-42.5h0m.1 18.2h0m.1 23h0m0-.6h0m0-2h0m0 7.5h0m.1-32.6h0m0 9.6h0m0-90.1h0m0 109h0m.1-5.6h0m0-8.1h0m.1-22h0m0 39h0m.2-12.5h0m.1 3.2h0m0-8.1h0m.1 10.7h0m0-18.8h0m.1 18.8h0m.1-.5h0m0-177.1h0m.1 177.2h0m0-1.4h0m.1-13.3h0m.1 16h0m0-17.1h0m.1 5h0m0 13.5h0m.1-4.1h0m.1-31.5h0m.1 40.4h0m0-101.7h0m.1 89.7h0m0 3.3h0m0 3.9h0m0 2.3h0m.1-17.6h0m0 7h0m0 12.6h0m.1-27.5h0m0 19.4h0m.1-8.1h0m0-18.5h0m.1 .6h0m.1-11.3h0m0 43.6h0m0-6.2h0m.1-26.4h0m0 23.5h0m0 3.5h0m.1 3.9h0m0-6.3h0m0-55.5h0m0 33.5h0m.2 27h0m0-2.2h0m.1-.1h0m0-76h0m0 61.5h0m0 21h0m0-17.9h0m.1 9.9h0m0-91.9h0m.1 89.4h0m0-1.3h0m0-3.5h0m.1-1.7h0m0-3.3h0m0 1.9h0m0-60.5h0m.1 54.3h0m0-49.6h0m0 70h0m.1-4.5h0m0 5.5h0m0-56.5h0m0 51.4h0m0-7.7h0m0-7.7h0m.1 5h0m0 16.6h0m.1-1.1h0m0-6.5h0m0 7.2h0m.1-26.2h0m0 22.1h0m0-17.7h0m0 14h0m.1 1.7h0m0-96.7h0m0 105.6h0m.1-12.3h0m0-34.5h0m.1 45.8h0m0-15.2h0m.1-25.2h0m0 31.7h0m0-61.3h0m.1 47.4h0m.1-32h0m0 4.4h0m.1 37.7h0m.1 10.5h0m0-12.2h0m0 10.9h0m0-7.6h0m0 6.8h0m.2-34.6h0m0 16.1h0m0-47.8h0m0 70.4h0m0-11.3h0m.1-20h0m.2 25.9h0m0-6.3h0m0-33.7h0m0 35h0m0 .9h0m0-14.5h0m.1 23.5h0m.1 .3h0m0-47.9h0m0 33.2h0m.1 10h0m0 .1h0m0 .5h0m0-.2h0m0-28h0m0-30.7h0m0 59.2h0m.1-5.4h0m0-65.3h0m0 63.4h0m0 3h0m0-17.2h0m0 25.9h0m0-3.3h0m.1 .7h0m0-19.9h0m0-10.9h0m0 23.7h0m0 9.7h0m.1-5.2h0m0-2.1h0m.1-25.7h0m.1-12.8h0m0-4.3h0m.1-7.6h0m0-90.2h0m0 135.6h0m.1 1.3h0m0-43.4h0m0-15.7h0m0 68.4h0m.1-19.3h0m.1 20.4h0m0-25h0m0 18.8h0m0-23.9h0m0 24.4h0m0 3.7h0m.1-22.4h0m0 3.5h0m.1-150.4h0m.1 165.6h0m0-7.2h0m0 4.4h0m0-7.2h0m.1 12.2h0m0-17.4h0m0 14.7h0m.1-6.8h0m0-3.3h0m0-1.6h0m.1 8.5h0m0 9.2h0m0-10.9h0m0-.5h0m.1-9.4h0m0 15.1h0m0-.5h0m.1-6.9h0m0 8.8h0m0-5.9h0m0 9.7h0m0-14.8h0m.1 15h0m0-13.4h0m0-2.6h0m0 14.5h0m0-1.3h0m.2-.7h0m0-10.6h0m.1 10.3h0m0-9h0m0 6.3h0m0 1.3h0m.1-1.5h0m0-6.3h0m.1 3.1h0m0-1.2h0m0-16.1h0m0 19.2h0m0-61.5h0m0 37.1h0m.1-17.5h0m0 36.5h0m0-44.1h0m.2 38.8h0m0 15.2h0m0-16.7h0m0 20.4h0m0-47.5h0m0 33.2h0m0-5.5h0m.1 18.6h0m0-3.2h0m0-36.6h0m.1 28.8h0m0 8.5h0m.1-28.5h0m0 31.6h0m0-1.2h0m.1-56.5h0m0 38.4h0m0-20.5h0m0 33.7h0m.2-1.1h0m.1-5.2h0m.1-10.1h0m.1-25.1h0m.2 43.1h0m0 2.5h0m0-14.9h0m.1 5.9h0m.1-18.5h0m0 17h0m0 3.5h0m.1-42.6h0m.2 40.3h0m0-65.1h0m.1 70.1h0m0 2.4h0m0-3.1h0m.1 6.8h0m0-9h0m.1-39.7h0m.1-59.9h0m0 104.9h0m.1 3.1h0m0-1.2h0m0-5.1h0m.1-32.2h0m.1 24.8h0m.3 7.2h0m.1 .7h0m0-1.4h0m.1 1.9h0m.2-11.3h0m.1 6.1h0m.3-5.1h0m0-9.2h0m.1 17.2h0m0-65h0m.1 64.6h0m0-1.3h0m0 7.1h0m.2-10.5h0m.1 10h0m0 7.9h0m0 8.8h0m0-8.8h0m0 3.9h0m.1-13.2h0m0-4.4h0m0 18.1h0m.1-126.3h0m0 114.2h0m0 21.1h0m.1-4.1h0m0 3.7h0m0-.2h0m0-35.6h0m0 30.3h0m0-14.6h0m0 1.1h0m0 16.8h0m0 1.5h0m0-11h0m.1-6.4h0m0 3.4h0m0-13.1h0m0 18.3h0m0-14.4h0m.1 20.6h0m0-7.3h0m0 11.4h0m.1-2.2h0m0-1.9h0m0-11.8h0m0 7.2h0" stroke="#32cd32" stroke-width="1.3" stroke-linecap="round" fill="none"/>
<path d="M557.6 204.8h0m.2-20.1h0m.8-18.2h0m.4-19.6h0m0 31.9h0m.1 9.7h0m.2 2.5h0m0-4h0m0-15.8h0m0-58.9h0m.2 51h0m.1 15.9h0m0-37.6h0m.2 22.4h0m0 13.7h0m.1 12.3h0m.1-1.6h0m0 2.8h0m.1-59.2h0m.1 37.8h0m.1 19.8h0m0-4.3h0m0-20.4h0m.1 27.6h0m0-9.8h0m.1 9h0m0 0h0m0-52.7h0m.1 34.9h0m.1 8.9h0m0-40.3h0m0 45.8h0m0-89h0m.2 87.7h0m.2 1.7h0m0-40.7h0m.2 18.7h0m0-5h0m0 24h0m.1 3h0m0 3.9h0m.1-15.1h0m0 3.6h0m0-55.2h0m.1 67.8h0m.2-13.3h0m.1 10.9h0m0-29.9h0m0 30.4h0m0-3.6h0m.1 2h0m.1-13.9h0m.1 12.9h0m0-1.1h0m0-.4h0m0 5.6h0m0-10.8h0m.1 7.7h0m.1-3.6h0m0-25.9h0m.1 1.2h0m0 24h0m0-102h0m0 107.7h0m.2-20.1h0m.1 5.7h0m.2 13.9h0m0 2.7h0m0-5.3h0m.2 2.8h0m0 .7h0m.1-9.8h0m0-18.7h0m0 21.3h0m0 1.4h0m.1-3.4h0m0 1.8h0m0-5.7h0m.1 1.6h0m0 1.2h0m.1 13.4h0m0-49.7h0m0 43.8h0m.1-18.9h0m.2 23.9h0m0-2.1h0m0-9h0m0-70h0m.1 7.3h0m.1 67.2h0m.1-9.3h0m.1 13.7h0m0-180.5h0m0 178.1h0m.1-27.8h0m.1 27.7h0m0 1.7h0m.1 3.7h0m0-1.6h0m0 .2h0m0-15.9h0m.1 17.3h0m0 .1h0m0 .1h0m0-55.1h0m0 53h0m.1-4.4h0m0-5.8h0m0-5.6h0m.1 10.5h0m.1-36.6h0m.1 42.8h0m0-17.8h0m0 10.1h0m0 5.5h0m.3-42h0m0 40.6h0m0 4.6h0m.1-37.3h0m0 9.9h0m0 14.5h0m.1 5.4h0m0-24.7h0m.1 28.9h0m.1-45.4h0m.1 43h0m0 .3h0m0-5.9h0m.1 9.4h0m0-11.5h0m0 6.4h0m0-25.1h0m0-148.9h0m.1 137.3h0m0-.5h0m.1 39.9h0m0 4.4h0m.1-9.9h0m0-12.6h0m0 20.9h0m.1-40.7h0m0 26.6h0m.1 14.7h0m0-.4h0m.2-22.9h0m0 17.4h0m0-4.9h0m0-1h0m.1 8.1h0m0-23.8h0m0-132.3h0m.1 161.6h0m.1-46.2h0m0 43.3h0m.1-31.1h0m0 20.7h0m0-8.7h0m0 19.1h0m0-4h0m0 3.2h0m.1 2.3h0m.1-.3h0m0-20h0m0-1.1h0m0 22.8h0m0-73.8h0m0 47.6h0m0-142.4h0m.1 13.6h0m.1 135h0m0 14.4h0m0 1.1h0m0-136.1h0m0 129.3h0m0 4.2h0m.1 6.6h0m0-5.4h0m.1 1.8h0m0-117.8h0m0 110.8h0m0 11.2h0m0-19.2h0m.1 10.1h0m0 7.7h0m0-8.9h0m.1-71.9h0m0 69h0m0-51h0m0-32.2h0m.1 77h0m0-1.9h0m0-9.6h0m.1 21.4h0m.1 9.4h0m0-127.3h0m0 124.4h0m0 2h0m0-152.6h0m.1 143.3h0m0 5.7h0m.1-179.8h0m0 150.5h0m0 33h0m0-2.2h0m.1-13.9h0m0 15.7h0m0 .4h0m.1-10.7h0m0 12.2h0m.1 0h0m0-33.5h0m0 18h0m0 7.4h0m.1-.3h0m0-6.5h0m0 5.5h0m.1-75.9h0m0 78.7h0m0-9h0m0 15.6h0m0-8.2h0m0-10.7h0m.1 14h0m0-6.7h0m0 8.4h0m0-4h0m0 1.9h0m0 3.8h0m0-18.1h0m.1 15.1h0m0 1.7h0m0-48.4h0m.1 41.1h0m0-11h0m0 13.6h0m0-14h0m.1-76h0m.1 92.5h0m0-9.7h0m0 13.8h0m.1-20.9h0m0 8.8h0m0-8.7h0m0-8.9h0m0 27.8h0m.1-85h0m0 82.7h0m0 1.8h0m0-9.5h0m0-88.6h0m.1 100.5h0m0 0h0m0-9.7h0m0-9.4h0m0 17.9h0m.1-26.5h0m.1-23.8h0m0 52.3h0m0-102.5h0m.2-82.4h0m0 174.3h0m0 11h0m0-38.2h0m0 33.3h0m.1-142.3h0m0 78.2h0m.1 60h0m0 .6h0m.1-91.5h0m0 93.8h0m0-98.3h0m0 65.5h0m0-68.9h0m.1 80.6h0m.1 7.4h0m0 9.9h0m.1-28.7h0m.1-44.1h0m.1 81.4h0m0-6.3h0m0-45.5h0m.1 10.3h0m0 30.3h0m.1-27.2h0m0 39.8h0m0-31.6h0m0 26.1h0m0-6.7h0m0 4.4h0m0-8.6h0m.1 16.8h0m0-3.1h0m0 2.3h0m0-3.9h0m.1-8.3h0m0 12.8h0m.1-158.7h0m0 148.6h0m0-13.2h0m0 22.2h0m0-4.5h0m0-3h0m.1-11.2h0m0 13.8h0m0 5h0m.1-86.3h0m0-2.9h0m0 32.5h0m.1 41.3h0m0-7.5h0m0-53h0m0 49.2h0m.1 20.2h0m0 8.1h0m0-.3h0m.1-23h0m0 23.3h0m0-49.5h0m.1 43h0m.1-2.7h0m.1 6.5h0m.1-.9h0m0-89.5h0m.1 93.2h0m0-14h0m0 11.3h0m.1-4.1h0m.1-.6h0m0-2.5h0m0-51.5h0m0 52.3h0m.2-105.9h0m0 96.9h0m.1 18.2h0m0-62.5h0m.1 1.7h0m0 46.6h0m0-70.1h0m0 73.8h0m0 10.2h0m0-3.7h0m0-10.5h0m0-1h0m.1-4h0m0 13.9h0m0-26.2h0m0 31.3h0m.1 .7h0m0-35h0m0 23.8h0m.1-18.4h0m0 28.8h0m0-4.8h0m0-20.9h0m.1-13.1h0m0 8.2h0m0 .1h0m0 22.5h0m.1 9.2h0m.1-100.6h0m.1 97.6h0m0 3h0m0-4.4h0m0 3.1h0m.1-40.4h0m0 20h0m0-4.2h0m0 22.7h0m0-8.7h0m0 11.2h0m0-29.5h0m.1 3h0m0 15.7h0m0 7.4h0m0-4.4h0m.1-19.4h0m.1-32.6h0m.1 50.2h0m0-98.8h0m0 104.6h0m0-5.2h0m.1 7.7h0m0-51.4h0m0 41.4h0m.1-129h0m0 130.9h0m.1-28.4h0m0 15h0m0 23.4h0m0-4.8h0m.1-38.6h0m0 39.4h0m.1-28.7h0m0 28.7h0m0-39.7h0m0 43.2h0m.1-93.3h0m0 60.2h0m0 18.7h0m0 3.1h0m0 3h0m.1-18.2h0m0-105.6h0m0 109.3h0m0-71.8h0m.1 26.7h0m.1 65.6h0m0-12.1h0m0 15.8h0m.1-14.5h0m0 9.5h0m0-11.8h0m.1-28.6h0m0 34.2h0m0 2.9h0m.1 2.7h0m0-9.3h0m.1 1.4h0m.1 12.4h0m0-.1h0m0-5.1h0m.1-8h0m0 12.7h0m0-13.9h0m.1 12.5h0m.1-6.3h0m0-11.2h0m0 4h0m0-1.1h0m0-17h0m0 35.1h0m.1-36.8h0m0 29.3h0m0 1.5h0m.1-2.3h0m.1-73.2h0m0 73.7h0m.1 1.5h0m.1-182h0m.1 152.5h0m0 25.3h0m.1-8.7h0m0-4.8h0m0-13.2h0m0 36.1h0m.1 .7h0m0-6h0m.1-4.8h0m0 3.5h0m0-18.4h0m.1-54h0m0 68.6h0m0 2.7h0m0 8.1h0m.1-4.3h0m0-9.1h0m0 8.4h0m0-5.8h0m0-176.8h0m.1 174.1h0m0-23.9h0m0-79.4h0m0 112.1h0m.1 2.4h0m0 3.3h0m.1-56.9h0m0 41.8h0m0-11.9h0m0-23h0m0 43h0m.2-11.3h0m0-83.9h0m0 88.8h0m0-.5h0m0-29.8h0m.1 24.4h0m0 15.7h0m0-9.7h0m0-1.2h0m0-12.8h0m.1-60h0m0 52.3h0m0 21.6h0m0-6.2h0m.1 9.3h0m0-46.2h0m0 16.4h0m.1 30.4h0m0 9.6h0m0-9.6h0m0-178.9h0m0 152.9h0m0 12.5h0m0 20.1h0m0-.1h0m0-4.7h0m.1-10.7h0m.1-20.4h0m0 38.2h0m.1-14.7h0m0-79.6h0m0 94.7h0m0-1.1h0m.1 1.9h0m0-7.7h0m0-21.1h0m0 26h0m.1 2.6h0m.1-39.6h0m0 17.9h0m0 14.1h0m0 .8h0m0 .5h0m0-84.4h0m.1 82.8h0m0 1.9h0m0-11.6h0m0-89.8h0m0 64.1h0m.1 12.9h0m0 25.1h0m0-10.6h0m0-172.9h0m.1 186.1h0m0 3.7h0m.1-126.3h0m0 124.1h0m0-89.7h0m0 85.3h0m.1-44.2h0m0-84.4h0m0 68.3h0m0-14.4h0m0 50.5h0m0-8.4h0m0-52.5h0m.2 91.2h0m0-8.7h0m0 4.3h0m.1-20.7h0m0 20.7h0m0-104.6h0m0 98.7h0m.1-17.1h0m.1 9.1h0m0-151.6h0m.1 151.3h0m.1-46.1h0m0 57.8h0m0 5.4h0m.1 .3h0m0-188.1h0m.1 183.9h0m0-28h0m0-18.2h0m0 11.4h0m0-87.1h0m.1 96.9h0m0 29.8h0m0-16.8h0m0-109.9h0m.1 125.1h0m0-9.1h0m0-5.8h0m.1-145.5h0m.1 157.9h0m0 5.3h0m0-58.5h0m0-91.7h0m0 137.4h0m.1 7.9h0m0-4.8h0m0 8.7h0m.1-1.3h0m0-3.1h0m0 1.6h0m0-37.4h0m.1 35.7h0m0 6.3h0m0-14.2h0m.1 10.5h0m0-31.2h0m0 29h0m0-26.2h0m0 24.5h0m0-3.1h0m.1 4.6h0m0 2.3h0m.2-61.7h0m0 57.4h0m0 1.7h0m0 3.7h0m.1-187.9h0m0 178h0m.1-7.1h0m.1-1.4h0m0 19.7h0m0-26.8h0m.1-57.3h0m0 74.1h0m0 9.2h0m.1 .9h0m0 .8h0m0-11.9h0m0-3.5h0m.1 5.7h0m.1 9.1h0m0-4.4h0m.2 4.1h0m0-55.4h0m0 26.6h0m.1 19.8h0m.1-19.3h0m.1 20.5h0m0 3.9h0m0-.8h0m.1-.5h0m0-30.4h0m0 32h0m0 5h0m0-30.9h0m.1 27.3h0m0-7.5h0m0-39.4h0m.1 24.4h0m0-16.9h0m0 20.6h0m0-24.4h0m0 29.6h0m.1-3.4h0m.2 13.3h0m0-9.6h0m0-5.6h0m.1-78.1h0m0 101.2h0m0-70.3h0m0 67.4h0m.1 3h0m0-10.6h0m0-12.6h0m0 20.3h0m.1-15.6h0m0 7.9h0m0-35.2h0m0-23.7h0m.1 64.7h0m0-149.8h0m0 145.8h0m0 6.6h0m0-4h0m.1 5.7h0m.1-.7h0m0-45.5h0m.1 35.5h0m0 11.6h0m.1-29.9h0m0 24h0m0-12.6h0m0 9.3h0m.1-27h0m0 21.8h0m0 14h0m0-1.8h0m.1-53.6h0m0 55.6h0m0-13.6h0m.2 3.3h0m0 .6h0m0-10.4h0m0-171.4h0m.1 181.8h0m.1 6.4h0m0-22.2h0m0-51h0m0 76h0m0-7.3h0m0-12.6h0m.1 14.6h0m0-4.3h0m0-10.8h0m0 19.7h0m.1-16.1h0m0 5.5h0m0 6.5h0m0-2.6h0m0-1.1h0m.1 8.5h0m0-71.2h0m0 71.4h0m0-16.5h0m0-15.2h0m.2 30.6h0m0 1.7h0m0-15.1h0m0 3.9h0m0-90.1h0m.1 96.4h0m.1-1.1h0m0 0h0m0-44.6h0m0 42.6h0m0-19.1h0m0-164.6h0m.2 177.6h0m0 13.9h0m0 .7h0m.1-55.2h0m0-80.9h0m0 111.2h0m0 23.6h0m0-5.3h0m.1 .4h0m0 3.3h0m.1-5.7h0m0-.8h0m.1 .5h0m0 4.3h0m0 4.9h0m0-2.1h0m0-2.7h0m.1-187.9h0m0 186.8h0m0 1.8h0m0-13h0m.2-5.6h0m0-170h0m0 177.1h0m0 14.9h0m.1-17.1h0m0 16.3h0m0-21.5h0m.1-32.5h0m0 41.8h0m.1-6.1h0m0 11.7h0m0-1.4h0m0 8.6h0m0-32.3h0m.1 28.7h0m0-67.5h0m.1 58.3h0m0-24.9h0m0 12.3h0m0-108.3h0m0 127.9h0m.1-15.5h0m0 21.9h0m.1-22h0m0 9.6h0m0 12.8h0m.1-20.3h0m0 17.1h0m0-5.7h0m0 6.9h0m.1-4.6h0m0-186h0m.1 142.5h0m0 .3h0m.1-25h0m.1 59.2h0m0 13.4h0m.1-26.1h0m0 7.1h0m0 18.3h0m0-7h0m0 10.1h0m0-83h0m.1 65.9h0m0-.3h0m0-7h0m0 20.5h0m0-32.6h0m.1-23.5h0m0 45.1h0m0 6.1h0m0-6.9h0m.1 10.7h0m.1-42.6h0m0 40.1h0m0-8.2h0m.1 9.8h0m0-158.9h0m0 165.4h0m.1-7.3h0m0-12h0m0-16.8h0m0 29.7h0m0-57.1h0m0 1.6h0m0-109.3h0m.1 170h0m0-46.7h0m0 44.1h0m0-8.5h0m.1 12.9h0m0-73.9h0m0 68.3h0m0-45.8h0m.1 51.2h0m.1-16.4h0m0-177.6h0m0 188.1h0m0-.3h0m.1-10.7h0m.1 13.4h0m.1-32.2h0m0 24.9h0m0 7.4h0m.1-8.8h0m0 11.8h0m.2-10.4h0m0-84.6h0m.1 94.5h0m0-4h0m0-40.7h0m.1-148.4h0m.1 177.5h0m0-.5h0m0-13.8h0m0 18.4h0m.2 .1h0m0 .9h0m0 11.3h0m.1 .7h0m0-15.4h0m0-.4h0m0 4.6h0m0-9.7h0m.1 10.4h0m.1 9h0m0-58.8h0m0 53.2h0m.1-31.3h0m0 21.7h0m0-16.4h0m0 29.8h0m.1-1.7h0m.2-6.3h0m0-21h0m0 32.1h0m0-.9h0m.2-4.3h0m0-3.4h0m0-27.6h0m.1 30.6h0m0 5.6h0m0-10h0m0 8.4h0m0-14.1h0m.2 13.9h0m.1-12.9h0m.1 8.2h0m.1-37.2h0m.1 44h0m0-13h0m.2 13.3h0m0-5.7h0m0-1.4h0m0-187.9h0m0 191.4h0m.2 2.1h0m0-2.1h0m0 3.3h0m.2-.2h0m0-23.8h0m.1 19.9h0m.1 4.8h0m0-62.6h0m0 47.1h0m0-26.2h0m0-22.7h0m0 48.6h0m.1-8.2h0m.1 13.7h0m0 10.3h0m.1-20.4h0m0 15.2h0m.1 6.3h0m0-114h0m0 106.9h0m.1-55.4h0m0 60h0m.1-97.7h0m0 81.1h0m0 11.4h0m0-188.7h0m.1 109.5h0m0 75.7h0m0 3.7h0m0-3.2h0m0 9.9h0m.1-195.7h0m0 190.2h0m0 3.4h0m.1-4.3h0m0 1.9h0m0 4.8h0m0-18.3h0m0 6.5h0m0-1.5h0m.1 13.7h0m.1-5.2h0m0 3.2h0m0-32.7h0m0 27.9h0m.1 .1h0m.1 4.6h0m0-9.5h0m0 9.7h0m.1-9.5h0m0 7.6h0m0-4.3h0m.1 8.1h0m0-7h0m0-105.6h0m.1 100.6h0m0-8.8h0m0 14.2h0m0-17.6h0m.1-47.5h0m0 42.9h0m0 4.2h0m0 22.6h0m0 2.2h0m.1-104.8h0m0 104.9h0m.1 0h0m.1 .7h0m0-29.5h0m0 9.3h0m.1 19.2h0m0 1.1h0m0-14.3h0m0 2.9h0m0-8.3h0m0-77.4h0m0 80.5h0m0-14.1h0m0-89h0m.1 38h0m0-4.6h0m.1 86h0m0-54h0m0 30.1h0m.1-52.8h0m0 68.1h0m.1 1.6h0m0 5h0m.1-20.1h0m0 21.7h0m0-196.8h0m.1 168.6h0m0-.9h0m0 17h0m.1 13.1h0m0-3h0m.1-5.8h0m0 7.4h0m0 .2h0m0-4.3h0m0 3h0m.1-137.1h0m0 133.1h0m0 3.9h0m.1 2.3h0m0-10h0m0-22.4h0m.1 29.4h0m0-90.6h0m.1 93.5h0m.1-.5h0m0-4.3h0m.1 1.3h0m0-20.6h0m.2 24.6h0m0-4.1h0m0-1.4h0m0 1.8h0m0 3.5h0m.1-61h0m0 40.8h0m.1 16.6h0m0 4.1h0m.2-58.5h0m0 39.2h0m0 15.6h0m0-.6h0m.1 4.3h0m0-3.6h0m.1-14.2h0m.1 16.3h0m0-8.4h0m0-92.3h0m0 102.1h0m0-6.6h0m0 2.6h0m.1 3.4h0m0-1.3h0m.1 .4h0m.1-4.5h0m0-53.7h0m0 23.7h0m.1 8.1h0m0 11.2h0m0 1.2h0m0 15.7h0m0-27.7h0m0 15.1h0m.1-185.7h0m.1 92.9h0m0 105.9h0m.1 .4h0m0-1.9h0m0-138.5h0m.1 129.4h0m0-35.1h0m.1 42.5h0m0 .7h0m0-5.1h0m0 5.8h0m.1-21.9h0m0 17.8h0m0 4.1h0m.1-6.1h0m0 8.5h0m.2-8.7h0m0-60.1h0m0 68.3h0m.1-40.2h0m.1-14.7h0m.1 43.2h0m0 4h0m.1-42.3h0m0 5.2h0m0 33.5h0m0 10.2h0m.1-9.1h0m.1-128.1h0m0 76h0m0 59.3h0m.1-5.8h0m0-190.1h0m.1 187.3h0m0-3.4h0m0-26.4h0m0 39h0m0-6.5h0m.1-1.6h0m0-20h0m0 20.1h0m.1-5.6h0m0 15h0m.1 .5h0m0-1.1h0m.1-2.8h0m0-44.6h0m0 37.9h0m.1 11h0m0-5h0m0-10.2h0m0-32.6h0m.1 45.7h0m0-16.6h0m.1-180.1h0m0 197h0m0-9.6h0m0-2.6h0m.2 15h0m0-20.4h0m.1 .3h0m0-15.3h0m0-45.4h0m0 80.2h0m0-7.6h0m.1 1.1h0m0 2.4h0m0-3.6h0m0-103.6h0m.1 103.4h0m0 5.3h0m.2 2.1h0m.1-9.6h0m0 8.1h0m.1-2.3h0m.1-47.1h0m0 12.8h0m0 30.1h0m0-43.9h0m0 48h0m.1 3.9h0m0-19.8h0m.1-76h0m.1 97.1h0m0-3.8h0m.1-2.5h0m0 6.3h0m0-1.2h0m0-198.7h0m.1 195h0m.1 2h0m0-2.4h0m0-1.3h0m0-4.3h0m0 10.9h0m.1-23.6h0m0 20.7h0m0 1h0m0-1.6h0m.1 3.3h0m0-31.4h0m0 28.9h0m.1-17.8h0m0-44.3h0m0 61.1h0m0 3.7h0m0-.8h0m.1 .2h0m0-5.2h0m.1 4.3h0m0-5.5h0m0-.8h0m0 5.4h0m0 2.3h0m.1-1.4h0m0-1.5h0m.1-8.1h0m0 7.8h0m0 1.7h0m0-10.9h0m.1 9.6h0m0-4.3h0m0 3.9h0m.1 2.6h0m0-.6h0m0-2.3h0m.1-84.4h0m0 75.2h0m.2 6.9h0m0 5.5h0m0-199.6h0m.1 200h0m0-14.4h0m0 13.1h0m.1-30.2h0m0 28.3h0m0-3h0m0-43.8h0m.1 45.8h0m0 3.4h0m0-60.1h0m.2 59.7h0m0-25h0m0 9.7h0m0 0h0m0 13.5h0m.1-1.2h0m0-2.5h0m.1-13.7h0m0 18.4h0m0 .2h0m0-6h0m0-125.1h0m0 107.4h0m.1 2.2h0m0 19.3h0m0-2.7h0m.1 5.3h0m0-2.4h0m0 2.9h0m.1 .3h0m0-5.8h0m.1 3.9h0m0 .4h0m.1 1.3h0m0-23.1h0m.1 21.2h0m0-122.2h0m0 123.6h0m0-3.1h0m.1-2.4h0m.1 4.7h0m0-6.3h0m0-2.1h0m0-1.8h0m.1 9.9h0m0-20.9h0m0-32.3h0m0 53.7h0m0-12.1h0m.1 10.7h0m0-.8h0m0-102.7h0m.1-93.2h0m0 196.6h0m0 1.4h0m.1 .7h0m0-.6h0m.1-.3h0m0-100.4h0m0 101.4h0m.1-2.2h0m0-196.6h0m.1 195.2h0m0 2.6h0m0-.2h0m.1 1.4h0m0-156.9h0m0 155.2h0m.1 .3h0m0-.6h0m0-21h0m0 22.7h0m0-2.7h0m.2-69.1h0m0 63.7h0m0-176.1h0m0 181.2h0m.3-80.7h0m0 81.6h0m.2 1h0m0 .3h0m0-16.6h0m.1 14.1h0m0-17.5h0m.1 18.7h0m.1-6.1h0m0 7.3h0m0-9.3h0m.1-58.2h0m0 66.2h0m.1-112.9h0m.1 114.1h0m0-.3h0m.1-197.4h0m.1 196h0m0-3.1h0m0 4.4h0m0 .3h0m.2-1.9h0m0 3h0m0-2.8h0m0-195.9h0m.2 197.5h0m.1-.6h0m.1-7.6h0m0-4.1h0m0 .6h0m.1 9.7h0m0-21.1h0m.1-9.2h0m0 30.8h0m.1 .4h0m0-3.1h0m0 4.6h0m.1-2.2h0m.1 1.9h0m0-.2h0m0-19.9h0m.1 17.3h0m0 4h0m0-2.1h0m.2 3.1h0m.1-5h0m0-22.2h0m.1 23.1h0m0-67.1h0m0 66.3h0m.1 1.4h0m0-1.9h0m0 2.8h0m.1-.4h0m.1-94.8h0m.1 93.9h0m0 1.4h0m0 0h0m.1-157.6h0m.3 156.6h0m0-196.3h0m0 196.8h0m.1-91.3h0m0 91.5h0m0-1.8h0m.1 .7h0m0-59.3h0m0 58.4h0m0-5.3h0m.1 6.6h0m.1-.8h0m0 .1h0m.1-1.5h0m0 1.6h0m.1-47.6h0m0 45.8h0m.1 4.4h0m0-3.2h0m.1-12.1h0m.1 13.3h0m0-.8h0m0-166.5h0m.1 167.2h0m.1 .5h0m0-.6h0m0-.1h0m.1-1h0m0 .3h0m.2 .8h0m0-2.1h0m.1 1.3h0m.2 1.4h0m0 0h0m.1-2.6h0m0 2.3h0m0 .3h0m.1-47.3h0m0 45.9h0m.2 4.4h0m0-4.4h0m.3 1.2h0m0-1.4h0m0 .6h0m0-27.4h0m0 26.6h0m.1 1.2h0m.1 .3h0m.1-2.6h0m.3-174.8h0m.1 176.8h0m.3-.7h0m0-1.8h0m0 1.8h0m.1 .9h0m0-1.5h0m.1 .2h0m0-.2h0m0 .1h0m.3 .4h0m.1-.6h0m.1-1h0m0 1.3h0m.1-.8h0m0 1h0m.2 .5h0m0-105.5h0m.1 105.8h0m0-.8h0m.1 .4h0m0-1.6h0m.1 .3h0m.1 1.3h0m0 .4h0m0-.1h0m.1-1.7h0m.1 1.3h0m.1-50.8h0m.1 47.3h0m0 3.5h0m.1-.8h0m0-169.9h0m0-24.5h0m.1 195h0m.2-.6h0m.1-194.4h0m0 194.8h0m.1 .4h0m0-1.4h0m.2 1h0m.2-.2h0m0-1h0m.2 .9h0m0-1.1h0m.3-142.7h0m0 141.9h0m.1-192.6h0m0 194.6h0m.1 .3h0m.1-14.5h0m.2 12.8h0m0-.3h0m.1 1.7h0m0-1h0m0 .4h0m.1-.8h0m.1 .3h0m.2-.6h0m0 1.1h0m.1 .1h0m0-115.1h0m.1 114.6h0m0 .7h0m.1-.8h0m0-1.5h0m0 .9h0m0-.2h0m0 1.7h0m.1-1.3h0m0 .6h0m.2 .5h0m.3-.2h0m0-1.3h0m.1 1.2h0m.1-1.4h0m0 1.6h0m.1-65.3h0m0 64.3h0m.5-.1h0m0-.7h0m.1 1.5h0m0-26.5h0m.1 24.8h0m0 .6h0m0 1h0m.1 0h0m0-.1h0m.2-.4h0m0 .2h0m.1-1.4h0m0 1.1h0m.1-.8h0m.2 .5h0m0-.7h0m.1 .9h0m0 .5h0m.2-179.3h0m.1 179h0m.1-.1h0m0-1.4h0m.2 1h0m0 .5h0m.3-.1h0m0-1.3h0m.1 .4h0m.2-.2h0m.2-.2h0m0-.6h0m.3 .3h0m0-88.8h0m0 89.6h0m.1-1.1h0m.1-.2h0m.1 1.2h0m0 .3h0m.1-.8h0m.1-.4h0m.2 1h0m0 .2h0m.1-.6h0m.2 4.9h0m0-5h0m.1 .5h0m0 0h0m.2-1.4h0m.2 1.3h0m.1-.2h0m.1-.9h0m.1 .5h0m.1-1h0m.2 0h0m0 .8h0m.2-64.3h0m.1 64.7h0m.2-.9h0m0 1h0m.1 0h0m.2-1h0m.1 .5h0m.2-.9h0m.1 .5h0m.1-.6h0m0 .7h0m.1-.5h0m.1-.6h0m.2 1.1h0m.1 .3h0m.1-.6h0m.2 .5h0m.1-.2h0m.1 .1h0m.3-1.3h0m.3 1h0m.1-67.5h0m.1 66.6h0m0-.3h0m.1 .5h0m0 .6h0m.1-.6h0m.1-.4h0m0 .5h0m.1-.4h0m0 .1h0m.1 .5h0m.1-.3h0m.1 .2h0m.1-.3h0m0-.5h0m.1 1h0m.7-.7h0m0 .3h0m0-190.1h0m0 189.6h0m.1 0h0m0-.3h0m.2 .5h0m.1-.5h0m0 .8h0m0-.9h0m.3-189.3h0m0 189.9h0m0-.3h0m.3-.1h0m.1-.6h0m.4 .9h0m.1-.7h0m.1-.3h0m.1 .6h0m.2-.4h0m.2-.3h0m.1 0h0m.1 .5h0m0-.4h0m.1 .5h0m.3-.3h0m.3 .1h0m.1-.5h0m0 .3h0m.1 .1h0m.1-.1h0m.1-.1h0m0-.3h0m.1-188.4h0m.1 188.9h0m.1-.2h0m.2 0h0m.2-.6h0m0 .2h0m.1 .2h0m.1-.2h0m0-188.3h0m.1 188.2h0m0-.1h0m.3 .3h0m0 .1h0m.1-.2h0m0-.3h0m0 .3h0m.1-.4h0m0 .1h0m.1 .3h0m0-.4h0m.1 .2h0m.1 0h0m.1 .1h0m.2-.1h0m.2-.2h0m0 .1h0m.2 0h0m.2-.3h0m.1-.1h0m.3 .1h0m.1 0h0m0-.2h0m.2 .1h0m.1 0h0m.1 0h0" stroke="#cd2626" stroke-width="1.3" stroke-linecap="round" fill="none"/>
<path d="M458.4 212.5H460" stroke="#555" stroke-width=".4"/>
<text x="457.7" y="213.7" font-size="3.4" text-anchor="end" fill="#555">0</text>
<path d="M458.4 148.9H460" stroke="#555" stroke-width=".4"/>
<text x="457.7" y="150.1" font-size="3.4" text-anchor="end" fill="#555">100</text>
<path d="M458.4 85.3H460" stroke="#555" stroke-width=".4"/>
<text x="457.7" y="86.5" font-size="3.4" text-anchor="end" fill="#555">200</text>
<path d="M458.4 21.7H460" stroke="#555" stroke-width=".4"/>
<text x="457.7" y="22.9" font-size="3.4" text-anchor="end" fill="#555">300</text>
<path d="M481.1 221.7V223.3" stroke="#555" stroke-width=".4"/>
<text x="481.1" y="226.1" font-size="3.4" text-anchor="middle" fill="#555">-10</text>
<path d="M515.8 221.7V223.3" stroke="#555" stroke-width=".4"/>
<text x="515.8" y="226.1" font-size="3.4" text-anchor="middle" fill="#555">-5</text>
<path d="M550.4 221.7V223.3" stroke="#555" stroke-width=".4"/>
<text x="550.4" y="226.1" font-size="3.4" text-anchor="middle" fill="#555">0</text>
<path d="M585 221.7V223.3" stroke="#555" stroke-width=".4"/>
<text x="585" y="226.1" font-size="3.4" text-anchor="middle" fill="#555">5</text>
<path d="M619.7 221.7V223.3" stroke="#555" stroke-width=".4"/>
<text x="619.7" y="226.1" font-size="3.4" text-anchor="middle" fill="#555">10</text>
<text transform="translate(550.4 231) scale(.9 1)" font-size="4.5" text-anchor="middle" fill="#222">log2 Fold Change</text>
<text transform="translate(450.4 116.5) rotate(-90) scale(.89 1)" font-size="4.5" text-anchor="middle" fill="#222">-log10(padj)</text>
<text transform="translate(648 107.8) scale(.9 1)" font-size="4.5" fill="#222">regulated</text>
<rect x="648.3" y="109.9" width="6" height="6" fill="#f5f5f5"/>
<circle cx="651.3" cy="112.9" r=".75" fill="#32cd32"/>
<text x="656.2" y="114.2" font-size="3.6" fill="#333">down</text>
<rect x="648.3" y="116.2" width="6" height="6" fill="#f5f5f5"/>
<circle cx="651.3" cy="119.2" r=".75" fill="#6495ed"/>
<text x="656.2" y="120.5" font-size="3.6" fill="#333">false</text>
<rect x="648.3" y="122.6" width="6" height="6" fill="#f5f5f5"/>
<circle cx="651.3" cy="125.6" r=".75" fill="#cd2626"/>
<text x="656.2" y="126.9" font-size="3.6" fill="#333">up</text>
<text x="446" y="17.8" font-family="Liberation Serif" font-size="14.6" fill="#111">C</text>
<defs><clipPath id="k1"><circle cx="165.2" cy="331.5" r="58.4"/></clipPath><clipPath id="k2"><circle cx="223.2" cy="331.6" r="58.4"/></clipPath><clipPath id="k12" clip-path="url(#k1)"><circle cx="223.2" cy="331.6" r="58.4"/></clipPath></defs>
<circle cx="165.2" cy="331.5" r="58.4" fill="#c6e9e2"/>
<circle cx="223.2" cy="331.6" r="58.4" fill="#fde9b4"/>
<circle cx="193.9" cy="380.9" r="58.4" fill="#c8c6e1"/>
<circle cx="223.2" cy="331.6" r="58.4" fill="#e0e0a8" clip-path="url(#k1)"/>
<circle cx="193.9" cy="380.9" r="58.4" fill="#abbad3" clip-path="url(#k1)"/>
<circle cx="193.9" cy="380.9" r="58.4" fill="#c9bdbc" clip-path="url(#k2)"/>
<circle cx="193.9" cy="380.9" r="58.4" fill="#b9b6b3" clip-path="url(#k12)"/>
<circle cx="165.2" cy="331.5" r="58.4" fill="none" stroke="#6b6b6b" stroke-width=".5"/>
<circle cx="223.2" cy="331.6" r="58.4" fill="none" stroke="#6b6b6b" stroke-width=".5"/>
<circle cx="193.9" cy="380.9" r="58.4" fill="none" stroke="#6b6b6b" stroke-width=".5"/>
<text x="139.6" y="319.3" font-size="7.7" text-anchor="middle" fill="#333">4112</text>
<text x="193.9" y="304.3" font-size="7.7" text-anchor="middle" fill="#333">2341</text>
<text x="248.7" y="319.3" font-size="7.7" text-anchor="middle" fill="#333">3469</text>
<text x="193.9" y="350.6" font-size="7.7" text-anchor="middle" fill="#333">3116</text>
<text x="154.3" y="373.8" font-size="7.7" text-anchor="middle" fill="#333">1714</text>
<text x="234.4" y="373.8" font-size="7.7" text-anchor="middle" fill="#333">1684</text>
<text x="194.5" y="413.8" font-size="7.7" text-anchor="middle" fill="#333">7385</text>
<text x="125.3" y="266.6" font-family="Liberation Serif" font-weight="bold" font-size="12.7" text-anchor="middle" fill="#0a0a0a">1Y vs 3Y</text>
<text x="253.4" y="266.8" font-family="Liberation Serif" font-weight="bold" font-size="12.7" text-anchor="middle" fill="#0a0a0a">1Y vs 5Y</text>
<text x="190.5" y="457.4" font-family="Liberation Serif" font-weight="bold" font-size="12.7" text-anchor="middle" fill="#0a0a0a">1Y vs F</text>
<text x="78.8" y="253" font-family="Liberation Serif" font-size="14.4" fill="#111">D</text>
<text x="350.5" y="253" font-family="Liberation Serif" font-size="14.4" fill="#111">E</text>
<g shape-rendering="crispEdges"><path d="M399 268h12v1h-12zM447 272h12v1h-12zM471 272h12v1h-12zM483 279h12v1h-12zM399 311h12v1h-12zM495 312h12v1h-12zM519 322h12v1h-12zM507 325h12v1h-12zM531 348h12v1h-12zM459 350h12v1h-12zM519 357h12v1h-12zM531 376h12v1h-12zM411 416h12v1h-12zM423 430h12v1h-12zM507 430h12v1h-12zM519 431h12v1h-12zM411 433h12v1h-12zM435 449h12v1h-12zM483 452h12v1h-12zM471 459h12v1h-12zM399 463h12v1h-12zM495 476h12v1h-12zM447 478h12v1h-12zM435 520h12v1h-12z" fill="#c6e685"/><path d="M411 268h12v1h-12zM411 278h12v1h-12zM471 278h12v1h-12zM471 300h12v1h-12zM423 408h12v1h-12zM519 414h12v1h-12zM483 416h12v1h-12zM507 417h12v1h-12zM507 423h12v1h-12zM507 467h12v1h-12zM519 467h12v1h-12zM483 468h12v1h-12zM447 481h12v1h-12zM495 488h12v1h-12zM519 504h12v1h-12zM531 508h12v1h-12zM495 510h12v1h-12z" fill="#a8d873"/><path d="M423 268h12v1h-12zM411 318h12v1h-12zM399 345h12v1h-12zM459 361h12v1h-12zM519 464h12v1h-12zM483 528h12v1h-12z" fill="#88c968"/><path d="M435 268h12v1h-12zM483 327h12v1h-12zM399 394h12v1h-12zM447 402h12v1h-12zM447 431h12v1h-12zM483 456h12v1h-12z" fill="#f9e69f"/><path d="M447 268h12v1h-12zM399 276h12v1h-12zM531 283h12v1h-12zM459 296h12v1h-12zM447 302h12v1h-12zM519 329h12v1h-12zM507 387h12v1h-12zM471 398h12v1h-12zM483 415h12v1h-12zM531 416h12v1h-12zM399 424h12v1h-12zM507 429h12v1h-12zM495 440h12v1h-12zM495 443h12v1h-12zM411 466h12v1h-12zM435 504h12v1h-12z" fill="#d9ee93"/><path d="M459 268h12v1h-12zM459 290h12v1h-12zM399 304h12v1h-12zM471 308h12v1h-12zM423 310h12v1h-12zM519 312h12v1h-12zM495 318h12v1h-12zM435 344h12v1h-12zM531 366h12v1h-12zM531 400h12v1h-12zM423 424h12v1h-12zM435 454h12v1h-12zM435 455h12v1h-12zM531 459h12v1h-12zM483 469h12v1h-12zM447 475h12v1h-12zM507 476h12v1h-12zM447 493h12v1h-12zM483 505h12v1h-12zM495 511h12v1h-12zM459 519h12v1h-12z" fill="#b7df7b"/><path d="M471 268h12v1h-12zM495 287h12v1h-12zM399 307h12v1h-12zM447 351h12v1h-12zM447 360h12v1h-12zM447 365h12v1h-12zM507 382h12v1h-12zM531 382h12v1h-12zM531 390h12v1h-12zM495 397h12v1h-12zM411 409h12v1h-12zM423 413h12v1h-12zM507 421h12v1h-12zM447 451h12v1h-12zM495 482h12v1h-12zM507 485h12v1h-12zM459 493h12v1h-12zM471 499h12v1h-12zM531 500h12v1h-12zM495 503h12v1h-12zM471 508h12v1h-12zM483 510h12v1h-12zM531 512h12v1h-12zM519 520h12v1h-12z" fill="#afdb77"/><path d="M483 268h12v1h-12zM447 275h12v1h-12zM423 314h12v1h-12zM447 347h12v1h-12zM423 355h12v1h-12zM471 378h12v1h-12zM423 384h12v1h-12zM471 387h12v1h-12zM483 401h12v1h-12zM399 413h12v1h-12zM531 423h12v1h-12zM471 428h12v1h-12zM435 440h12v1h-12zM423 442h12v1h-12zM411 450h12v1h-12zM459 455h12v1h-12zM507 470h12v1h-12zM459 477h12v1h-12zM459 481h12v1h-12zM507 489h12v1h-12zM507 500h12v1h-12z" fill="#adda76"/><path d="M495 268h12v1h-12zM423 275h12v1h-12zM399 292h12v1h-12zM495 297h12v1h-12zM471 305h12v1h-12zM399 328h12v1h-12zM423 335h12v1h-12zM471 371h12v1h-12zM399 405h12v1h-12zM495 415h12v1h-12zM471 416h12v1h-12zM399 422h12v1h-12zM435 438h12v1h-12zM435 521h12v1h-12z" fill="#92cd6a"/><path d="M507 268h12v1h-12zM483 351h12v1h-12zM423 451h12v1h-12z" fill="#f8a860"/><path d="M519 268h12v1h-12zM411 282h12v1h-12zM531 301h12v1h-12zM483 303h12v1h-12zM447 324h12v1h-12zM459 325h12v1h-12zM495 327h12v1h-12zM495 448h12v1h-12zM483 460h12v1h-12zM423 498h12v1h-12zM495 524h12v1h-12z" fill="#fad98e"/><path d="M531 268h12v1h-12zM507 306h12v1h-12zM507 331h12v1h-12zM507 337h12v1h-12zM507 339h12v1h-12zM447 372h12v1h-12zM447 374h12v1h-12zM447 410h12v1h-12zM399 457h12v1h-12zM423 502h12v1h-12z" fill="#fada8f"/><path d="M399 269h12v1h-12zM435 314h12v1h-12zM519 327h12v1h-12zM531 327h12v1h-12z" fill="#f8eda7"/><path d="M411 269h12v1h-12zM399 433h12v1h-12z" fill="#dbee94"/><path d="M423 269h12v1h-12zM519 323h12v1h-12zM507 349h12v1h-12zM447 362h12v1h-12zM411 378h12v1h-12zM507 378h12v1h-12zM519 384h12v1h-12zM471 385h12v1h-12zM531 402h12v1h-12zM471 417h12v1h-12zM459 467h12v1h-12zM447 470h12v1h-12zM447 474h12v1h-12zM435 476h12v1h-12zM435 487h12v1h-12zM519 505h12v1h-12z" fill="#bfe37f"/><path d="M435 269h12v1h-12zM447 305h12v1h-12zM471 321h12v1h-12zM531 329h12v1h-12zM531 331h12v1h-12zM447 445h12v1h-12zM471 448h12v1h-12zM507 503h12v1h-12z" fill="#f4f1aa"/><path d="M447 269h12v1h-12zM447 270h12v1h-12zM423 305h12v1h-12zM459 322h12v1h-12zM519 344h12v1h-12zM507 366h12v1h-12z" fill="#daee94"/><path d="M459 269h12v1h-12zM411 321h12v1h-12zM399 333h12v1h-12zM519 351h12v1h-12zM471 376h12v1h-12zM519 379h12v1h-12zM507 381h12v1h-12zM507 422h12v1h-12zM507 428h12v1h-12zM399 450h12v1h-12zM471 472h12v1h-12zM459 476h12v1h-12zM531 477h12v1h-12zM519 481h12v1h-12zM519 482h12v1h-12zM483 498h12v1h-12zM519 509h12v1h-12zM435 524h12v1h-12z" fill="#bee27f"/><path d="M471 269h12v1h-12zM483 307h12v1h-12zM411 311h12v1h-12zM507 313h12v1h-12zM399 323h12v1h-12zM411 330h12v1h-12zM423 352h12v1h-12zM399 357h12v1h-12zM507 394h12v1h-12zM423 407h12v1h-12zM447 450h12v1h-12zM435 456h12v1h-12zM531 457h12v1h-12zM519 461h12v1h-12zM507 465h12v1h-12zM447 498h12v1h-12zM447 515h12v1h-12zM447 521h12v1h-12z" fill="#95cf6a"/><path d="M483 269h12v1h-12zM483 304h12v1h-12zM423 315h12v1h-12zM423 329h12v1h-12zM447 367h12v1h-12zM519 368h12v1h-12zM519 371h12v1h-12zM495 382h12v1h-12zM507 445h12v1h-12zM519 447h12v1h-12zM507 462h12v1h-12zM495 504h12v1h-12zM471 514h12v1h-12zM435 529h12v.2h-12z" fill="#8dcb69"/><path d="M495 269h12v1h-12zM495 281h12v1h-12zM495 395h12v1h-12zM495 406h12v1h-12zM423 423h12v1h-12z" fill="#65b75e"/><path d="M507 269h12v1h-12zM507 284h12v1h-12zM531 296h12v1h-12zM471 344h12v1h-12zM495 366h12v1h-12zM447 389h12v1h-12zM399 475h12v1h-12zM423 490h12v1h-12zM411 513h12v1h-12zM423 525h12v1h-12z" fill="#f9b76d"/><path d="M519 269h12v1h-12zM507 298h12v1h-12zM423 392h12v1h-12zM447 407h12v1h-12zM495 459h12v1h-12zM399 471h12v1h-12zM423 526h12v1h-12z" fill="#f9e8a1"/><path d="M531 269h12v1h-12zM507 281h12v1h-12zM519 281h12v1h-12zM531 298h12v1h-12zM531 300h12v1h-12zM483 335h12v1h-12zM447 342h12v1h-12zM435 372h12v1h-12zM447 382h12v1h-12zM411 489h12v1h-12z" fill="#fae097"/><path d="M399 270h12v1h-12zM495 289h12v1h-12zM459 343h12v1h-12zM411 370h12v1h-12zM459 398h12v1h-12zM531 407h12v1h-12zM411 427h12v1h-12zM399 466h12v1h-12zM519 477h12v1h-12z" fill="#e1ef99"/><path d="M411 270h12v1h-12zM495 272h12v1h-12zM411 348h12v1h-12zM411 351h12v1h-12zM519 361h12v1h-12zM483 379h12v1h-12zM507 379h12v1h-12zM483 391h12v1h-12zM483 395h12v1h-12zM531 398h12v1h-12zM471 420h12v1h-12zM471 423h12v1h-12zM519 426h12v1h-12zM531 427h12v1h-12zM459 436h12v1h-12zM459 437h12v1h-12zM399 439h12v1h-12zM507 450h12v1h-12zM495 502h12v1h-12zM471 505h12v1h-12zM495 505h12v1h-12zM447 507h12v1h-12zM519 513h12v1h-12zM435 517h12v1h-12zM447 522h12v1h-12z" fill="#a4d671"/><path d="M423 270h12v1h-12zM399 290h12v1h-12zM411 325h12v1h-12zM399 336h12v1h-12zM447 357h12v1h-12zM531 372h12v1h-12zM483 388h12v1h-12zM495 399h12v1h-12zM447 455h12v1h-12z" fill="#87c867"/><path d="M435 270h12v1h-12zM435 291h12v1h-12zM411 386h12v1h-12zM399 395h12v1h-12zM399 465h12v1h-12zM531 494h12v1h-12z" fill="#eff0a5"/><path d="M459 270h12v1h-12zM399 275h12v1h-12zM411 276h12v1h-12zM471 294h12v1h-12zM459 335h12v1h-12zM447 345h12v1h-12zM531 351h12v1h-12zM399 355h12v1h-12zM519 358h12v1h-12zM507 362h12v1h-12zM411 367h12v1h-12zM519 373h12v1h-12zM531 408h12v1h-12zM519 417h12v1h-12zM471 422h12v1h-12zM531 430h12v1h-12zM423 438h12v1h-12zM531 439h12v1h-12zM411 447h12v1h-12zM411 448h12v1h-12zM471 454h12v1h-12zM471 457h12v1h-12zM495 472h12v1h-12zM435 477h12v1h-12zM435 479h12v1h-12zM531 481h12v1h-12zM459 486h12v1h-12zM519 486h12v1h-12zM471 487h12v1h-12zM447 489h12v1h-12zM483 490h12v1h-12zM447 491h12v1h-12zM483 503h12v1h-12zM471 523h12v1h-12z" fill="#c1e481"/><path d="M471 270h12v1h-12zM507 312h12v1h-12zM411 328h12v1h-12zM399 330h12v1h-12zM411 349h12v1h-12zM495 435h12v1h-12zM531 484h12v1h-12zM531 490h12v1h-12zM447 517h12v1h-12z" fill="#8aca68"/><path d="M483 270h12v1h-12zM483 278h12v1h-12zM471 281h12v1h-12zM495 416h12v1h-12zM495 509h12v1h-12z" fill="#8ecc69"/><path d="M495 270h12v1h-12zM495 305h12v1h-12zM411 308h12v1h-12zM459 458h12v1h-12zM507 461h12v1h-12zM483 525h12v1h-12z" fill="#6dbc61"/><path d="M507 270h12v1h-12zM411 398h12v1h-12zM435 405h12v1h-12zM471 445h12v1h-12zM399 484h12v1h-12z" fill="#f8b066"/><path d="M519 270h12v1h-12zM531 279h12v1h-12zM519 289h12v1h-12zM471 339h12v1h-12zM447 388h12v1h-12zM459 393h12v1h-12zM507 407h12v1h-12zM459 410h12v1h-12zM423 495h12v1h-12zM423 517h12v1h-12zM507 517h12v1h-12zM423 519h12v1h-12zM519 528h12v1h-12z" fill="#fac97d"/><path d="M531 270h12v1h-12z" fill="#fbd689"/><path d="M399 271h12v1h-12zM507 341h12v1h-12z" fill="#f8efaa"/><path d="M411 271h12v1h-12zM411 274h12v1h-12zM435 346h12v1h-12zM411 379h12v1h-12zM507 424h12v1h-12zM435 465h12v1h-12zM447 485h12v1h-12zM531 497h12v1h-12zM507 523h12v1h-12z" fill="#cee98b"/><path d="M423 271h12v1h-12zM411 272h12v1h-12zM471 274h12v1h-12zM399 306h12v1h-12zM411 320h12v1h-12zM459 338h12v1h-12zM519 353h12v1h-12zM483 376h12v1h-12zM483 400h12v1h-12zM483 429h12v1h-12zM519 437h12v1h-12zM519 443h12v1h-12zM507 468h12v1h-12zM459 472h12v1h-12zM447 477h12v1h-12zM459 482h12v1h-12zM435 489h12v1h-12zM447 509h12v1h-12z" fill="#bfe380"/><path d="M435 271h12v1h-12zM531 280h12v1h-12zM447 446h12v1h-12z" fill="#f1f0a7"/><path d="M447 271h12v1h-12zM483 315h12v1h-12zM399 335h12v1h-12zM435 349h12v1h-12zM459 355h12v1h-12zM423 375h12v1h-12zM459 380h12v1h-12zM471 382h12v1h-12zM519 435h12v1h-12zM483 457h12v1h-12zM399 464h12v1h-12zM519 497h12v1h-12zM423 513h12v1h-12z" fill="#deef97"/><path d="M459 271h12v1h-12zM471 277h12v1h-12zM411 315h12v1h-12zM447 335h12v1h-12zM519 421h12v1h-12zM531 498h12v1h-12zM483 502h12v1h-12z" fill="#bae17d"/><path d="M471 271h12v1h-12zM495 275h12v1h-12zM423 365h12v1h-12zM483 373h12v1h-12zM483 377h12v1h-12zM423 387h12v1h-12zM471 391h12v1h-12zM495 403h12v1h-12zM519 411h12v1h-12zM519 442h12v1h-12zM459 460h12v1h-12zM459 465h12v1h-12zM471 469h12v1h-12z" fill="#a5d672"/><path d="M483 271h12v1h-12zM483 283h12v1h-12zM399 291h12v1h-12zM495 306h12v1h-12zM471 307h12v1h-12zM531 321h12v1h-12zM471 389h12v1h-12zM471 405h12v1h-12zM519 408h12v1h-12zM399 416h12v1h-12zM399 419h12v1h-12zM519 423h12v1h-12zM531 424h12v1h-12zM471 432h12v1h-12zM447 441h12v1h-12zM507 447h12v1h-12zM459 448h12v1h-12zM507 471h12v1h-12zM519 490h12v1h-12zM447 523h12v1h-12z" fill="#9cd26d"/><path d="M495 271h12v1h-12zM471 282h12v1h-12zM411 293h12v1h-12zM399 318h12v1h-12zM399 344h12v1h-12zM495 423h12v1h-12zM531 486h12v1h-12z" fill="#86c867"/><path d="M507 271h12v1h-12zM435 326h12v1h-12zM483 355h12v1h-12zM459 385h12v1h-12zM435 412h12v1h-12zM471 440h12v1h-12zM399 505h12v1h-12zM531 529h12v.2h-12z" fill="#f7a45d"/><path d="M519 271h12v1h-12zM507 280h12v1h-12zM531 293h12v1h-12zM435 374h12v1h-12zM459 407h12v1h-12zM507 515h12v1h-12z" fill="#fac276"/><path d="M531 271h12v1h-12zM531 291h12v1h-12zM435 313h12v1h-12zM471 313h12v1h-12zM483 343h12v1h-12zM459 371h12v1h-12zM435 389h12v1h-12zM435 444h12v1h-12zM483 524h12v1h-12zM423 528h12v1h-12z" fill="#fbd589"/><path d="M399 272h12v1h-12zM423 280h12v1h-12zM483 286h12v1h-12zM459 291h12v1h-12zM447 329h12v1h-12zM519 341h12v1h-12zM423 356h12v1h-12zM423 366h12v1h-12zM531 378h12v1h-12zM399 407h12v1h-12zM399 430h12v1h-12zM519 433h12v1h-12zM399 437h12v1h-12zM507 437h12v1h-12zM531 437h12v1h-12zM531 438h12v1h-12zM495 445h12v1h-12zM471 453h12v1h-12zM447 465h12v1h-12zM495 478h12v1h-12zM459 479h12v1h-12zM507 481h12v1h-12zM483 494h12v1h-12zM531 524h12v1h-12z" fill="#c4e583"/><path d="M423 272h12v1h-12zM423 312h12v1h-12zM423 343h12v1h-12zM399 351h12v1h-12zM471 373h12v1h-12zM471 392h12v1h-12zM531 397h12v1h-12zM507 419h12v1h-12zM399 420h12v1h-12zM399 428h12v1h-12zM531 445h12v1h-12zM507 448h12v1h-12zM447 449h12v1h-12zM531 450h12v1h-12zM519 451h12v1h-12zM447 456h12v1h-12zM507 458h12v1h-12zM435 459h12v1h-12zM495 485h12v1h-12zM447 512h12v1h-12zM447 525h12v1h-12z" fill="#98d06b"/><path d="M435 272h12v1h-12zM447 301h12v1h-12zM495 333h12v1h-12zM519 347h12v1h-12zM531 355h12v1h-12zM435 500h12v1h-12zM471 500h12v1h-12zM447 504h12v1h-12z" fill="#e0ef98"/><path d="M459 272h12v1h-12zM435 436h12v1h-12zM507 484h12v1h-12z" fill="#aedb77"/><path d="M483 272h12v1h-12zM495 295h12v1h-12zM423 311h12v1h-12zM447 334h12v1h-12zM447 356h12v1h-12zM531 359h12v1h-12zM471 370h12v1h-12zM519 370h12v1h-12zM531 370h12v1h-12zM471 394h12v1h-12zM483 399h12v1h-12zM411 408h12v1h-12zM423 447h12v1h-12zM411 451h12v1h-12zM495 490h12v1h-12zM471 497h12v1h-12zM519 500h12v1h-12zM459 508h12v1h-12zM531 513h12v1h-12zM459 517h12v1h-12zM495 520h12v1h-12zM471 526h12v1h-12z" fill="#a6d772"/><path d="M507 272h12v1h-12zM483 357h12v1h-12zM423 391h12v1h-12zM447 395h12v1h-12zM483 441h12v1h-12zM483 447h12v1h-12z" fill="#f69e5a"/><path d="M519 272h12v1h-12zM471 333h12v1h-12zM495 356h12v1h-12zM411 473h12v1h-12zM411 477h12v1h-12z" fill="#f7a35d"/><path d="M531 272h12v1h-12zM447 308h12v1h-12zM471 334h12v1h-12zM447 412h12v1h-12zM447 421h12v1h-12zM435 422h12v1h-12zM399 477h12v1h-12zM399 482h12v1h-12z" fill="#f69d59"/><path d="M399 273h12v1h-12zM495 330h12v1h-12zM519 335h12v1h-12zM435 338h12v1h-12zM447 397h12v1h-12zM507 427h12v1h-12zM519 434h12v1h-12zM411 441h12v1h-12zM435 478h12v1h-12z" fill="#d2eb8e"/><path d="M411 273h12v1h-12zM495 303h12v1h-12zM483 308h12v1h-12zM507 320h12v1h-12zM519 345h12v1h-12zM471 380h12v1h-12zM519 399h12v1h-12zM519 416h12v1h-12zM399 427h12v1h-12zM495 441h12v1h-12zM399 442h12v1h-12zM459 444h12v1h-12zM459 445h12v1h-12zM411 467h12v1h-12zM519 479h12v1h-12zM459 495h12v1h-12zM423 510h12v1h-12z" fill="#d7ed91"/><path d="M423 273h12v1h-12zM495 285h12v1h-12zM495 301h12v1h-12zM495 302h12v1h-12zM399 319h12v1h-12zM507 347h12v1h-12zM459 351h12v1h-12zM507 351h12v1h-12zM531 362h12v1h-12zM531 365h12v1h-12zM507 368h12v1h-12zM519 376h12v1h-12zM531 401h12v1h-12zM411 417h12v1h-12zM495 417h12v1h-12zM519 419h12v1h-12zM423 431h12v1h-12zM423 437h12v1h-12zM495 447h12v1h-12zM435 450h12v1h-12zM459 463h12v1h-12zM495 468h12v1h-12zM507 469h12v1h-12zM435 470h12v1h-12zM471 470h12v1h-12zM435 472h12v1h-12zM531 476h12v1h-12zM447 479h12v1h-12zM471 491h12v1h-12zM507 493h12v1h-12zM471 495h12v1h-12zM519 502h12v1h-12zM507 519h12v1h-12z" fill="#bde27e"/><path d="M435 273h12v1h-12zM447 472h12v1h-12zM483 484h12v1h-12zM459 485h12v1h-12z" fill="#d1eb8d"/><path d="M447 273h12v1h-12zM447 291h12v1h-12zM459 292h12v1h-12zM411 305h12v1h-12zM471 311h12v1h-12zM507 348h12v1h-12zM423 351h12v1h-12zM507 371h12v1h-12zM399 372h12v1h-12zM507 376h12v1h-12zM519 386h12v1h-12zM411 401h12v1h-12zM519 407h12v1h-12zM399 409h12v1h-12zM519 412h12v1h-12zM519 438h12v1h-12zM411 444h12v1h-12zM471 473h12v1h-12zM483 473h12v1h-12zM471 475h12v1h-12zM471 477h12v1h-12zM471 483h12v1h-12zM435 494h12v1h-12zM519 517h12v1h-12z" fill="#c8e786"/><path d="M459 273h12v1h-12zM531 315h12v1h-12zM399 363h12v1h-12zM507 389h12v1h-12zM423 417h12v1h-12zM423 428h12v1h-12zM531 442h12v1h-12zM435 448h12v1h-12zM531 458h12v1h-12zM471 482h12v1h-12zM483 516h12v1h-12z" fill="#a3d571"/><path d="M471 273h12v1h-12zM411 277h12v1h-12zM411 310h12v1h-12zM411 323h12v1h-12zM447 338h12v1h-12zM447 358h12v1h-12zM423 359h12v1h-12zM531 360h12v1h-12zM423 378h12v1h-12zM411 407h12v1h-12zM519 427h12v1h-12zM471 434h12v1h-12zM399 451h12v1h-12zM471 460h12v1h-12zM471 461h12v1h-12zM495 463h12v1h-12zM435 469h12v1h-12zM483 470h12v1h-12zM519 484h12v1h-12zM447 488h12v1h-12zM531 501h12v1h-12zM459 510h12v1h-12zM459 513h12v1h-12zM531 520h12v1h-12z" fill="#b3dd79"/><path d="M483 273h12v1h-12zM399 320h12v1h-12zM531 387h12v1h-12zM471 406h12v1h-12zM459 525h12v1h-12zM459 526h12v1h-12zM459 527h12v1h-12zM459 529h12v.2h-12z" fill="#93ce6a"/><path d="M495 273h12v1h-12zM447 359h12v1h-12zM519 362h12v1h-12zM507 392h12v1h-12zM495 401h12v1h-12zM507 418h12v1h-12zM471 427h12v1h-12zM435 439h12v1h-12zM531 447h12v1h-12zM495 487h12v1h-12z" fill="#8ecb69"/><path d="M507 273h12v1h-12zM483 330h12v1h-12zM471 345h12v1h-12zM471 348h12v1h-12zM435 369h12v1h-12zM435 424h12v1h-12z" fill="#f38e50"/><path d="M519 273h12v1h-12z" fill="#f1864c"/><path d="M531 273h12v1h-12zM447 310h12v1h-12zM435 408h12v1h-12z" fill="#f08149"/><path d="M399 274h12v1h-12zM483 276h12v1h-12zM459 297h12v1h-12zM519 321h12v1h-12zM435 332h12v1h-12zM411 333h12v1h-12zM519 342h12v1h-12zM447 346h12v1h-12zM423 367h12v1h-12zM519 381h12v1h-12zM483 386h12v1h-12zM507 402h12v1h-12zM411 415h12v1h-12zM531 428h12v1h-12zM519 436h12v1h-12zM507 438h12v1h-12zM423 440h12v1h-12zM519 448h12v1h-12zM399 461h12v1h-12zM495 471h12v1h-12zM495 473h12v1h-12zM519 474h12v1h-12zM471 480h12v1h-12zM459 484h12v1h-12zM531 507h12v1h-12zM435 513h12v1h-12zM519 519h12v1h-12z" fill="#c5e584"/><path d="M423 274h12v1h-12zM447 276h12v1h-12zM483 306h12v1h-12zM507 326h12v1h-12zM399 353h12v1h-12zM507 354h12v1h-12zM411 365h12v1h-12zM471 372h12v1h-12zM519 372h12v1h-12zM507 375h12v1h-12zM531 389h12v1h-12zM519 404h12v1h-12zM411 421h12v1h-12zM531 425h12v1h-12zM411 431h12v1h-12zM507 435h12v1h-12zM519 459h12v1h-12zM447 471h12v1h-12zM531 472h12v1h-12zM507 480h12v1h-12zM531 480h12v1h-12zM435 491h12v1h-12zM507 521h12v1h-12zM531 521h12v1h-12zM471 524h12v1h-12z" fill="#b5de7a"/><path d="M435 274h12v1h-12z" fill="#e3ef9b"/><path d="M447 274h12v1h-12zM459 295h12v1h-12zM495 296h12v1h-12zM531 363h12v1h-12zM531 506h12v1h-12z" fill="#b8e07c"/><path d="M459 274h12v1h-12zM399 314h12v1h-12zM531 314h12v1h-12zM411 355h12v1h-12zM507 359h12v1h-12zM519 369h12v1h-12zM411 411h12v1h-12zM507 444h12v1h-12zM519 465h12v1h-12zM531 469h12v1h-12zM483 517h12v1h-12z" fill="#9bd26d"/><path d="M483 274h12v1h-12zM423 276h12v1h-12zM495 300h12v1h-12zM411 313h12v1h-12zM507 315h12v1h-12zM531 322h12v1h-12zM423 340h12v1h-12zM531 384h12v1h-12zM483 411h12v1h-12zM459 441h12v1h-12zM507 456h12v1h-12zM519 456h12v1h-12zM531 489h12v1h-12z" fill="#9ed36e"/><path d="M495 274h12v1h-12zM411 343h12v1h-12zM471 379h12v1h-12zM411 418h12v1h-12zM519 418h12v1h-12zM483 422h12v1h-12zM483 430h12v1h-12zM519 445h12v1h-12zM447 473h12v1h-12zM435 483h12v1h-12zM447 487h12v1h-12zM447 496h12v1h-12zM531 510h12v1h-12zM507 512h12v1h-12zM471 516h12v1h-12zM435 526h12v1h-12zM447 528h12v1h-12z" fill="#a7d773"/><path d="M507 274h12v1h-12zM459 283h12v1h-12zM459 318h12v1h-12zM423 449h12v1h-12zM423 454h12v1h-12zM423 458h12v1h-12zM411 485h12v1h-12zM411 529h12v.2h-12z" fill="#f59a57"/><path d="M519 274h12v1h-12zM471 346h12v1h-12zM447 427h12v1h-12zM459 427h12v1h-12zM471 437h12v1h-12zM411 483h12v1h-12z" fill="#f39051"/><path d="M531 274h12v1h-12zM531 292h12v1h-12zM531 525h12v1h-12z" fill="#f2894d"/><path d="M411 275h12v1h-12zM447 279h12v1h-12zM483 282h12v1h-12zM447 289h12v1h-12zM423 304h12v1h-12zM471 306h12v1h-12zM495 316h12v1h-12zM531 316h12v1h-12zM507 318h12v1h-12zM507 374h12v1h-12zM495 469h12v1h-12zM435 473h12v1h-12zM435 508h12v1h-12zM471 511h12v1h-12zM483 511h12v1h-12z" fill="#b2dd78"/><path d="M435 275h12v1h-12zM435 362h12v1h-12zM483 372h12v1h-12zM471 374h12v1h-12zM531 377h12v1h-12zM519 396h12v1h-12zM471 403h12v1h-12zM411 432h12v1h-12zM519 462h12v1h-12zM495 496h12v1h-12zM495 521h12v1h-12zM495 526h12v1h-12z" fill="#c3e482"/><path d="M459 275h12v1h-12zM423 294h12v1h-12zM411 327h12v1h-12zM423 331h12v1h-12zM531 374h12v1h-12zM495 405h12v1h-12zM483 418h12v1h-12z" fill="#76c064"/><path d="M471 275h12v1h-12zM399 279h12v1h-12zM435 289h12v1h-12zM471 292h12v1h-12zM459 339h12v1h-12zM507 346h12v1h-12zM411 366h12v1h-12zM531 431h12v1h-12zM399 449h12v1h-12zM459 453h12v1h-12z" fill="#c7e685"/><path d="M483 275h12v1h-12zM495 294h12v1h-12zM471 302h12v1h-12zM423 307h12v1h-12zM531 318h12v1h-12zM423 349h12v1h-12zM483 378h12v1h-12zM495 396h12v1h-12zM471 414h12v1h-12zM423 427h12v1h-12zM459 450h12v1h-12zM471 455h12v1h-12zM507 477h12v1h-12zM531 488h12v1h-12zM447 494h12v1h-12zM531 519h12v1h-12z" fill="#b4de79"/><path d="M507 275h12v1h-12z" fill="#ea6f42"/><path d="M519 275h12v1h-12zM495 358h12v1h-12zM399 384h12v1h-12zM483 446h12v1h-12zM399 491h12v1h-12zM423 506h12v1h-12zM423 508h12v1h-12z" fill="#f1854b"/><path d="M531 275h12v1h-12z" fill="#f1834a"/><path d="M435 276h12v1h-12zM447 285h12v1h-12zM447 304h12v1h-12zM495 314h12v1h-12zM531 352h12v1h-12zM459 396h12v1h-12zM471 397h12v1h-12zM447 464h12v1h-12zM471 464h12v1h-12zM447 506h12v1h-12zM507 522h12v1h-12z" fill="#eaf0a1"/><path d="M459 276h12v1h-12zM459 279h12v1h-12zM495 293h12v1h-12zM435 340h12v1h-12zM399 370h12v1h-12zM507 370h12v1h-12zM411 376h12v1h-12zM423 376h12v1h-12zM519 377h12v1h-12zM483 380h12v1h-12zM519 398h12v1h-12zM423 443h12v1h-12zM531 495h12v1h-12zM531 509h12v1h-12z" fill="#cbe888"/><path d="M471 276h12v1h-12zM471 303h12v1h-12zM507 350h12v1h-12zM507 352h12v1h-12zM399 354h12v1h-12zM507 377h12v1h-12zM507 388h12v1h-12zM399 411h12v1h-12zM471 421h12v1h-12zM483 428h12v1h-12zM531 454h12v1h-12zM471 471h12v1h-12zM483 475h12v1h-12zM531 475h12v1h-12zM495 477h12v1h-12zM483 492h12v1h-12zM519 494h12v1h-12zM507 504h12v1h-12zM447 505h12v1h-12zM531 505h12v1h-12z" fill="#c9e787"/><path d="M495 276h12v1h-12zM471 280h12v1h-12zM411 341h12v1h-12zM423 406h12v1h-12zM459 512h12v1h-12z" fill="#7bc365"/><path d="M507 276h12v1h-12zM531 307h12v1h-12zM483 362h12v1h-12zM399 519h12v1h-12z" fill="#ee7a46"/><path d="M519 276h12v1h-12zM423 480h12v1h-12z" fill="#f69f5a"/><path d="M531 276h12v1h-12zM447 281h12v1h-12zM531 304h12v1h-12zM531 309h12v1h-12zM495 362h12v1h-12zM483 449h12v1h-12zM399 454h12v1h-12zM411 455h12v1h-12z" fill="#f59b58"/><path d="M399 277h12v1h-12zM519 339h12v1h-12zM459 352h12v1h-12zM411 434h12v1h-12z" fill="#e0ef99"/><path d="M423 277h12v1h-12zM411 285h12v1h-12zM483 305h12v1h-12zM423 328h12v1h-12zM495 430h12v1h-12zM459 498h12v1h-12z" fill="#8cca68"/><path d="M435 277h12v1h-12zM459 337h12v1h-12zM531 337h12v1h-12zM483 407h12v1h-12z" fill="#d2eb8d"/><path d="M447 277h12v1h-12zM495 298h12v1h-12zM495 299h12v1h-12zM507 314h12v1h-12zM411 350h12v1h-12zM399 377h12v1h-12zM423 419h12v1h-12zM399 445h12v1h-12zM531 468h12v1h-12zM507 490h12v1h-12z" fill="#96cf6b"/><path d="M459 277h12v1h-12zM495 284h12v1h-12zM411 319h12v1h-12zM411 322h12v1h-12zM435 347h12v1h-12zM459 348h12v1h-12zM399 373h12v1h-12zM507 400h12v1h-12zM471 426h12v1h-12zM519 428h12v1h-12zM447 437h12v1h-12zM519 439h12v1h-12zM435 442h12v1h-12zM459 452h12v1h-12zM435 475h12v1h-12zM483 476h12v1h-12zM507 478h12v1h-12zM483 485h12v1h-12zM471 486h12v1h-12zM519 493h12v1h-12zM459 494h12v1h-12zM519 496h12v1h-12zM471 507h12v1h-12zM495 518h12v1h-12z" fill="#bbe17d"/><path d="M483 277h12v1h-12zM459 293h12v1h-12zM495 331h12v1h-12zM519 340h12v1h-12zM519 354h12v1h-12zM399 358h12v1h-12zM483 370h12v1h-12zM423 385h12v1h-12zM519 388h12v1h-12zM483 394h12v1h-12zM411 403h12v1h-12zM423 409h12v1h-12zM519 453h12v1h-12zM531 453h12v1h-12zM531 473h12v1h-12zM471 481h12v1h-12zM507 513h12v1h-12z" fill="#a9d874"/><path d="M495 277h12v1h-12z" fill="#64b75e"/><path d="M507 277h12v1h-12z" fill="#ef7c47"/><path d="M519 277h12v1h-12zM483 360h12v1h-12zM435 409h12v1h-12z" fill="#ef7d47"/><path d="M531 277h12v1h-12z" fill="#f2894e"/><path d="M399 278h12v1h-12zM435 278h12v1h-12zM483 299h12v1h-12zM483 312h12v1h-12zM483 313h12v1h-12zM459 323h12v1h-12zM519 336h12v1h-12zM459 354h12v1h-12zM507 356h12v1h-12zM399 379h12v1h-12zM531 381h12v1h-12zM471 384h12v1h-12zM519 385h12v1h-12zM531 413h12v1h-12zM471 435h12v1h-12zM435 453h12v1h-12zM495 475h12v1h-12zM483 477h12v1h-12zM507 497h12v1h-12zM435 510h12v1h-12zM495 513h12v1h-12z" fill="#d1ea8d"/><path d="M423 278h12v1h-12zM471 283h12v1h-12zM423 300h12v1h-12zM423 324h12v1h-12zM411 363h12v1h-12zM483 423h12v1h-12zM495 424h12v1h-12zM471 430h12v1h-12zM447 516h12v1h-12z" fill="#7cc365"/><path d="M447 278h12v1h-12zM531 319h12v1h-12zM519 363h12v1h-12zM411 364h12v1h-12zM483 375h12v1h-12zM507 383h12v1h-12zM531 383h12v1h-12zM519 389h12v1h-12zM483 392h12v1h-12zM507 398h12v1h-12zM519 409h12v1h-12zM459 438h12v1h-12zM399 447h12v1h-12zM471 452h12v1h-12zM447 459h12v1h-12zM495 462h12v1h-12zM519 487h12v1h-12zM459 514h12v1h-12z" fill="#9ad16c"/><path d="M459 278h12v1h-12zM483 421h12v1h-12zM483 472h12v1h-12zM471 512h12v1h-12z" fill="#b2dc78"/><path d="M495 278h12v1h-12zM411 361h12v1h-12z" fill="#62b55d"/><path d="M507 278h12v1h-12zM435 433h12v1h-12zM411 500h12v1h-12z" fill="#d74836"/><path d="M519 278h12v1h-12zM459 374h12v1h-12zM483 437h12v1h-12z" fill="#e35e3d"/><path d="M531 278h12v1h-12zM459 315h12v1h-12zM411 399h12v1h-12z" fill="#ed7745"/><path d="M411 279h12v1h-12zM411 309h12v1h-12zM459 362h12v1h-12zM471 424h12v1h-12zM459 502h12v1h-12z" fill="#9dd26e"/><path d="M423 279h12v1h-12zM423 317h12v1h-12zM411 326h12v1h-12zM495 369h12v1h-12zM495 381h12v1h-12zM471 390h12v1h-12zM495 394h12v1h-12zM423 420h12v1h-12zM483 420h12v1h-12zM471 429h12v1h-12zM531 461h12v1h-12zM495 507h12v1h-12z" fill="#73bf63"/><path d="M435 279h12v1h-12zM495 288h12v1h-12zM483 311h12v1h-12zM495 323h12v1h-12zM435 343h12v1h-12zM435 350h12v1h-12zM399 383h12v1h-12zM447 401h12v1h-12zM483 404h12v1h-12zM507 411h12v1h-12zM483 412h12v1h-12zM483 414h12v1h-12zM471 458h12v1h-12z" fill="#e2ef9a"/><path d="M471 279h12v1h-12zM519 318h12v1h-12zM459 397h12v1h-12zM411 402h12v1h-12zM531 414h12v1h-12zM519 429h12v1h-12z" fill="#d3eb8f"/><path d="M495 279h12v1h-12zM423 318h12v1h-12zM399 326h12v1h-12zM519 392h12v1h-12zM423 422h12v1h-12z" fill="#80c566"/><path d="M507 279h12v1h-12zM531 308h12v1h-12zM459 416h12v1h-12zM423 485h12v1h-12z" fill="#f69c59"/><path d="M519 279h12v1h-12zM483 350h12v1h-12zM483 354h12v1h-12zM447 391h12v1h-12zM459 422h12v1h-12zM423 450h12v1h-12zM399 493h12v1h-12zM399 514h12v1h-12zM423 521h12v1h-12z" fill="#f9bd72"/><path d="M399 280h12v1h-12zM507 304h12v1h-12zM483 366h12v1h-12zM435 445h12v1h-12zM411 514h12v1h-12z" fill="#fade95"/><path d="M411 280h12v1h-12zM435 297h12v1h-12zM435 306h12v1h-12zM483 318h12v1h-12zM411 374h12v1h-12zM423 395h12v1h-12z" fill="#f9e59d"/><path d="M435 280h12v1h-12zM471 320h12v1h-12zM471 357h12v1h-12zM435 379h12v1h-12zM447 380h12v1h-12zM447 383h12v1h-12zM507 404h12v1h-12zM459 405h12v1h-12zM483 434h12v1h-12zM483 443h12v1h-12z" fill="#fac579"/><path d="M447 280h12v1h-12zM459 387h12v1h-12zM507 405h12v1h-12zM423 487h12v1h-12z" fill="#f6a05b"/><path d="M459 280h12v1h-12zM459 312h12v1h-12zM483 445h12v1h-12z" fill="#f8a85f"/><path d="M483 280h12v1h-12zM423 316h12v1h-12zM435 335h12v1h-12zM411 352h12v1h-12zM471 369h12v1h-12zM399 378h12v1h-12zM519 400h12v1h-12zM411 422h12v1h-12zM519 424h12v1h-12zM519 444h12v1h-12zM423 445h12v1h-12zM483 481h12v1h-12zM531 491h12v1h-12zM435 497h12v1h-12zM447 502h12v1h-12zM531 502h12v1h-12zM447 524h12v1h-12z" fill="#a2d570"/><path d="M495 280h12v1h-12zM495 393h12v1h-12z" fill="#64b65e"/><path d="M519 280h12v1h-12zM411 281h12v1h-12zM459 310h12v1h-12zM459 314h12v1h-12zM483 345h12v1h-12zM435 395h12v1h-12zM447 423h12v1h-12z" fill="#fac87c"/><path d="M399 281h12v1h-12zM447 298h12v1h-12zM471 322h12v1h-12zM483 337h12v1h-12zM495 339h12v1h-12zM459 409h12v1h-12zM459 429h12v1h-12zM495 439h12v1h-12zM423 499h12v1h-12zM423 514h12v1h-12z" fill="#fadd93"/><path d="M423 281h12v1h-12zM471 297h12v1h-12zM483 297h12v1h-12zM447 300h12v1h-12zM495 322h12v1h-12zM423 373h12v1h-12zM423 396h12v1h-12zM447 500h12v1h-12zM459 505h12v1h-12zM507 507h12v1h-12zM471 509h12v1h-12z" fill="#daee93"/><path d="M435 281h12v1h-12zM411 491h12v1h-12z" fill="#f9ba70"/><path d="M459 281h12v1h-12zM531 305h12v1h-12zM471 327h12v1h-12zM495 365h12v1h-12zM447 369h12v1h-12zM411 389h12v1h-12zM459 406h12v1h-12zM483 438h12v1h-12zM399 522h12v1h-12z" fill="#f49454"/><path d="M483 281h12v1h-12zM411 306h12v1h-12zM399 429h12v1h-12zM399 460h12v1h-12zM531 467h12v1h-12zM519 468h12v1h-12zM447 526h12v1h-12z" fill="#99d16c"/><path d="M531 281h12v1h-12zM471 284h12v1h-12zM471 287h12v1h-12zM435 330h12v1h-12zM435 336h12v1h-12zM519 337h12v1h-12zM447 339h12v1h-12zM411 356h12v1h-12zM411 358h12v1h-12zM519 364h12v1h-12zM399 381h12v1h-12zM507 384h12v1h-12zM423 415h12v1h-12zM399 467h12v1h-12zM519 478h12v1h-12zM471 496h12v1h-12zM459 499h12v1h-12zM519 499h12v1h-12zM447 510h12v1h-12z" fill="#d0ea8c"/><path d="M399 282h12v1h-12zM519 306h12v1h-12zM447 327h12v1h-12zM411 388h12v1h-12z" fill="#facb7e"/><path d="M423 282h12v1h-12zM447 286h12v1h-12zM471 286h12v1h-12zM519 317h12v1h-12zM507 321h12v1h-12zM495 335h12v1h-12zM435 348h12v1h-12zM447 396h12v1h-12zM411 435h12v1h-12z" fill="#e5f09d"/><path d="M435 282h12v1h-12zM399 283h12v1h-12zM519 310h12v1h-12zM471 332h12v1h-12zM483 342h12v1h-12zM471 352h12v1h-12zM435 376h12v1h-12zM447 433h12v1h-12zM495 437h12v1h-12zM399 480h12v1h-12zM423 524h12v1h-12z" fill="#f9bc71"/><path d="M447 282h12v1h-12zM471 338h12v1h-12zM435 414h12v1h-12zM447 426h12v1h-12zM399 485h12v1h-12z" fill="#f6a15b"/><path d="M459 282h12v1h-12zM435 377h12v1h-12zM459 425h12v1h-12zM483 451h12v1h-12z" fill="#f49655"/><path d="M495 282h12v1h-12zM411 303h12v1h-12zM495 390h12v1h-12z" fill="#5cb25b"/><path d="M507 282h12v1h-12zM435 302h12v1h-12zM471 324h12v1h-12zM507 343h12v1h-12zM459 413h12v1h-12zM495 457h12v1h-12zM483 458h12v1h-12z" fill="#f9eaa4"/><path d="M519 282h12v1h-12z" fill="#f9eaa3"/><path d="M531 282h12v1h-12zM459 287h12v1h-12zM459 294h12v1h-12zM447 295h12v1h-12zM519 326h12v1h-12zM435 331h12v1h-12zM459 345h12v1h-12zM531 347h12v1h-12zM531 356h12v1h-12zM411 424h12v1h-12zM507 425h12v1h-12zM471 450h12v1h-12zM507 492h12v1h-12zM435 505h12v1h-12zM483 508h12v1h-12zM483 513h12v1h-12zM507 518h12v1h-12z" fill="#d4ec8f"/><path d="M411 283h12v1h-12zM483 317h12v1h-12zM447 326h12v1h-12zM471 443h12v1h-12z" fill="#fac175"/><path d="M423 283h12v1h-12zM471 291h12v1h-12zM447 297h12v1h-12zM519 338h12v1h-12zM531 345h12v1h-12zM399 382h12v1h-12zM423 382h12v1h-12zM483 383h12v1h-12zM531 415h12v1h-12zM495 442h12v1h-12zM399 470h12v1h-12z" fill="#e7f09f"/><path d="M435 283h12v1h-12zM519 284h12v1h-12zM435 386h12v1h-12zM435 403h12v1h-12zM447 405h12v1h-12zM459 430h12v1h-12zM447 432h12v1h-12zM411 488h12v1h-12zM411 504h12v1h-12z" fill="#fadc92"/><path d="M447 283h12v1h-12zM531 334h12v1h-12zM495 355h12v1h-12zM459 400h12v1h-12zM411 472h12v1h-12zM411 478h12v1h-12zM507 526h12v1h-12zM507 528h12v1h-12z" fill="#f9b268"/><path d="M495 283h12v1h-12z" fill="#59b05a"/><path d="M507 283h12v1h-12zM507 297h12v1h-12zM519 298h12v1h-12zM519 301h12v1h-12zM483 340h12v1h-12zM459 428h12v1h-12z" fill="#fbd083"/><path d="M519 283h12v1h-12zM459 395h12v1h-12zM459 403h12v1h-12zM399 473h12v1h-12zM399 499h12v1h-12zM423 503h12v1h-12z" fill="#fbcd81"/><path d="M399 284h12v1h-12zM399 286h12v1h-12zM495 375h12v1h-12zM495 391h12v1h-12zM459 440h12v1h-12zM483 529h12v.2h-12z" fill="#70bd62"/><path d="M411 284h12v1h-12zM411 292h12v1h-12zM411 294h12v1h-12zM411 329h12v1h-12zM423 353h12v1h-12zM459 356h12v1h-12zM423 377h12v1h-12zM495 387h12v1h-12zM423 416h12v1h-12zM507 487h12v1h-12zM435 514h12v1h-12zM435 518h12v1h-12z" fill="#91cd6a"/><path d="M423 284h12v1h-12zM423 421h12v1h-12zM531 440h12v1h-12z" fill="#7fc465"/><path d="M435 284h12v1h-12z" fill="#ebf0a1"/><path d="M447 284h12v1h-12zM447 303h12v1h-12zM459 340h12v1h-12zM459 341h12v1h-12zM423 369h12v1h-12zM423 374h12v1h-12zM483 406h12v1h-12zM399 425h12v1h-12zM507 436h12v1h-12zM483 453h12v1h-12zM411 464h12v1h-12zM471 467h12v1h-12z" fill="#ddef96"/><path d="M459 284h12v1h-12zM459 286h12v1h-12zM531 339h12v1h-12zM423 402h12v1h-12zM531 404h12v1h-12zM399 435h12v1h-12z" fill="#dbef94"/><path d="M483 284h12v1h-12zM459 336h12v1h-12zM435 360h12v1h-12zM507 360h12v1h-12zM531 385h12v1h-12zM507 414h12v1h-12zM399 462h12v1h-12zM447 468h12v1h-12zM507 486h12v1h-12zM507 488h12v1h-12zM471 506h12v1h-12zM495 506h12v1h-12zM459 518h12v1h-12z" fill="#b1dc78"/><path d="M531 284h12v1h-12zM507 307h12v1h-12zM495 456h12v1h-12zM399 527h12v1h-12z" fill="#fabe73"/><path d="M399 285h12v1h-12zM423 285h12v1h-12zM423 292h12v1h-12zM423 293h12v1h-12zM399 331h12v1h-12zM459 367h12v1h-12zM495 427h12v1h-12z" fill="#6cbb61"/><path d="M435 285h12v1h-12zM435 292h12v1h-12zM507 300h12v1h-12zM507 330h12v1h-12zM471 331h12v1h-12zM531 335h12v1h-12zM459 391h12v1h-12zM435 397h12v1h-12zM411 463h12v1h-12z" fill="#fae198"/><path d="M459 285h12v1h-12zM471 318h12v1h-12zM411 384h12v1h-12zM435 467h12v1h-12z" fill="#e6f09d"/><path d="M471 285h12v1h-12zM471 383h12v1h-12z" fill="#e1ef9a"/><path d="M483 285h12v1h-12z" fill="#b0dc78"/><path d="M507 285h12v1h-12z" fill="#f9b66c"/><path d="M519 285h12v1h-12zM435 416h12v1h-12z" fill="#f9e9a2"/><path d="M531 285h12v1h-12zM483 347h12v1h-12zM423 462h12v1h-12z" fill="#fbcf82"/><path d="M411 286h12v1h-12zM399 299h12v1h-12zM495 308h12v1h-12zM399 317h12v1h-12zM459 357h12v1h-12zM495 372h12v1h-12zM495 385h12v1h-12zM471 407h12v1h-12zM435 498h12v1h-12zM495 499h12v1h-12zM447 519h12v1h-12z" fill="#85c767"/><path d="M423 286h12v1h-12zM411 360h12v1h-12zM483 527h12v1h-12z" fill="#6aba60"/><path d="M435 286h12v1h-12zM483 289h12v1h-12zM483 467h12v1h-12zM411 490h12v1h-12zM423 501h12v1h-12z" fill="#f9eba5"/><path d="M495 286h12v1h-12zM399 426h12v1h-12zM531 429h12v1h-12zM471 463h12v1h-12zM459 492h12v1h-12zM459 501h12v1h-12zM495 528h12v1h-12z" fill="#cfe98b"/><path d="M507 286h12v1h-12zM483 328h12v1h-12zM495 352h12v1h-12zM471 361h12v1h-12zM471 364h12v1h-12zM423 479h12v1h-12zM399 488h12v1h-12zM423 488h12v1h-12z" fill="#f8aa61"/><path d="M519 286h12v1h-12zM483 331h12v1h-12z" fill="#fbce81"/><path d="M531 286h12v1h-12zM435 387h12v1h-12zM399 456h12v1h-12zM411 481h12v1h-12zM423 527h12v1h-12z" fill="#fac478"/><path d="M399 287h12v1h-12zM423 327h12v1h-12zM423 347h12v1h-12zM495 508h12v1h-12z" fill="#68b95f"/><path d="M411 287h12v1h-12zM399 298h12v1h-12z" fill="#75c063"/><path d="M423 287h12v1h-12zM435 367h12v1h-12zM507 440h12v1h-12zM507 452h12v1h-12z" fill="#69ba60"/><path d="M435 287h12v1h-12zM435 303h12v1h-12zM435 339h12v1h-12zM411 382h12v1h-12zM495 451h12v1h-12z" fill="#f7f1ac"/><path d="M447 287h12v1h-12zM519 319h12v1h-12zM435 333h12v1h-12zM531 336h12v1h-12zM459 347h12v1h-12zM519 356h12v1h-12zM495 376h12v1h-12zM531 388h12v1h-12zM483 396h12v1h-12zM483 397h12v1h-12zM507 412h12v1h-12zM519 415h12v1h-12zM483 425h12v1h-12zM507 431h12v1h-12zM495 466h12v1h-12zM471 478h12v1h-12zM483 489h12v1h-12zM471 490h12v1h-12zM495 494h12v1h-12zM507 494h12v1h-12zM507 495h12v1h-12zM507 508h12v1h-12zM507 511h12v1h-12zM435 523h12v1h-12z" fill="#cde98a"/><path d="M483 287h12v1h-12zM495 317h12v1h-12zM459 462h12v1h-12z" fill="#aeda76"/><path d="M507 287h12v1h-12zM447 309h12v1h-12zM471 340h12v1h-12zM447 368h12v1h-12zM423 491h12v1h-12zM399 524h12v1h-12z" fill="#f2884d"/><path d="M519 287h12v1h-12z" fill="#f8ac62"/><path d="M531 287h12v1h-12zM471 350h12v1h-12zM423 389h12v1h-12z" fill="#f28a4e"/><path d="M399 288h12v1h-12zM423 323h12v1h-12zM483 368h12v1h-12zM519 441h12v1h-12zM531 464h12v1h-12z" fill="#7ac265"/><path d="M411 288h12v1h-12zM399 337h12v1h-12z" fill="#6bbb60"/><path d="M423 288h12v1h-12zM399 296h12v1h-12zM435 366h12v1h-12zM495 386h12v1h-12zM483 390h12v1h-12zM423 405h12v1h-12zM531 463h12v1h-12z" fill="#6fbd62"/><path d="M435 288h12v1h-12zM519 325h12v1h-12zM435 506h12v1h-12z" fill="#e6f09e"/><path d="M447 288h12v1h-12zM483 298h12v1h-12zM447 319h12v1h-12zM459 328h12v1h-12zM435 341h12v1h-12zM399 376h12v1h-12zM507 426h12v1h-12zM399 441h12v1h-12zM471 465h12v1h-12zM459 504h12v1h-12zM471 513h12v1h-12zM507 524h12v1h-12z" fill="#d5ec90"/><path d="M459 288h12v1h-12zM471 299h12v1h-12zM447 317h12v1h-12zM495 319h12v1h-12zM447 333h12v1h-12zM459 333h12v1h-12zM447 350h12v1h-12zM471 402h12v1h-12zM507 415h12v1h-12zM531 435h12v1h-12zM411 449h12v1h-12zM435 451h12v1h-12zM459 478h12v1h-12zM483 478h12v1h-12zM435 482h12v1h-12zM471 488h12v1h-12zM483 488h12v1h-12zM531 499h12v1h-12z" fill="#cce889"/><path d="M471 288h12v1h-12zM399 305h12v1h-12zM507 323h12v1h-12zM411 335h12v1h-12zM531 344h12v1h-12zM423 380h12v1h-12zM423 398h12v1h-12zM459 399h12v1h-12zM483 413h12v1h-12zM483 459h12v1h-12z" fill="#e3f09b"/><path d="M483 288h12v1h-12zM435 301h12v1h-12zM459 305h12v1h-12zM483 333h12v1h-12zM507 364h12v1h-12zM411 369h12v1h-12zM447 411h12v1h-12z" fill="#f8eea9"/><path d="M507 288h12v1h-12zM519 307h12v1h-12zM459 369h12v1h-12zM411 520h12v1h-12zM507 525h12v1h-12z" fill="#f49554"/><path d="M519 288h12v1h-12zM483 353h12v1h-12zM459 370h12v1h-12zM447 393h12v1h-12zM471 438h12v1h-12zM399 476h12v1h-12zM531 526h12v1h-12z" fill="#f7a55e"/><path d="M531 288h12v1h-12zM447 414h12v1h-12zM459 419h12v1h-12zM423 452h12v1h-12zM423 457h12v1h-12zM435 463h12v1h-12zM399 500h12v1h-12z" fill="#f39152"/><path d="M399 289h12v1h-12zM495 373h12v1h-12z" fill="#88c867"/><path d="M411 289h12v1h-12zM423 337h12v1h-12zM399 338h12v1h-12zM495 383h12v1h-12zM507 457h12v1h-12zM507 460h12v1h-12z" fill="#71be62"/><path d="M423 289h12v1h-12zM411 297h12v1h-12zM411 324h12v1h-12zM423 325h12v1h-12zM459 459h12v1h-12z" fill="#72bf63"/><path d="M459 289h12v1h-12zM531 317h12v1h-12zM519 349h12v1h-12zM531 357h12v1h-12zM531 409h12v1h-12zM531 426h12v1h-12zM459 454h12v1h-12zM495 529h12v.2h-12z" fill="#bee37f"/><path d="M471 289h12v1h-12zM411 334h12v1h-12zM411 387h12v1h-12zM447 466h12v1h-12z" fill="#edf0a4"/><path d="M507 289h12v1h-12zM531 289h12v1h-12zM435 371h12v1h-12zM399 492h12v1h-12z" fill="#fac075"/><path d="M411 290h12v1h-12zM399 346h12v1h-12zM471 388h12v1h-12zM531 446h12v1h-12zM531 455h12v1h-12z" fill="#7ac264"/><path d="M423 290h12v1h-12zM423 333h12v1h-12zM435 364h12v1h-12z" fill="#6dbb61"/><path d="M435 290h12v1h-12zM435 304h12v1h-12zM495 313h12v1h-12zM483 314h12v1h-12zM447 320h12v1h-12zM447 328h12v1h-12zM519 331h12v1h-12zM435 351h12v1h-12zM399 368h12v1h-12zM495 377h12v1h-12zM495 378h12v1h-12zM411 385h12v1h-12zM411 426h12v1h-12zM495 446h12v1h-12zM519 476h12v1h-12zM483 491h12v1h-12z" fill="#d8ed92"/><path d="M447 290h12v1h-12zM471 309h12v1h-12zM507 317h12v1h-12zM507 324h12v1h-12zM423 348h12v1h-12zM435 352h12v1h-12zM507 353h12v1h-12zM447 354h12v1h-12zM483 374h12v1h-12zM519 387h12v1h-12zM531 403h12v1h-12zM519 425h12v1h-12zM507 466h12v1h-12zM471 468h12v1h-12zM435 471h12v1h-12zM459 480h12v1h-12zM519 480h12v1h-12zM447 484h12v1h-12zM519 485h12v1h-12zM483 487h12v1h-12zM483 495h12v1h-12zM531 496h12v1h-12zM471 498h12v1h-12zM495 498h12v1h-12zM471 501h12v1h-12zM483 518h12v1h-12zM519 523h12v1h-12z" fill="#b9e07c"/><path d="M471 290h12v1h-12zM507 322h12v1h-12zM411 380h12v1h-12zM459 381h12v1h-12zM483 382h12v1h-12zM483 427h12v1h-12zM399 434h12v1h-12z" fill="#e4f09c"/><path d="M483 290h12v1h-12zM447 430h12v1h-12zM459 434h12v1h-12z" fill="#f9e69e"/><path d="M495 290h12v1h-12zM459 300h12v1h-12zM411 372h12v1h-12zM459 411h12v1h-12zM423 432h12v1h-12z" fill="#f8efab"/><path d="M507 290h12v1h-12zM507 309h12v1h-12zM399 479h12v1h-12zM423 520h12v1h-12z" fill="#f9b46a"/><path d="M519 290h12v1h-12zM399 516h12v1h-12zM411 518h12v1h-12zM411 521h12v1h-12zM471 521h12v1h-12zM531 528h12v1h-12z" fill="#f8af65"/><path d="M531 290h12v1h-12zM531 294h12v1h-12zM471 362h12v1h-12zM495 367h12v1h-12zM447 390h12v1h-12zM411 391h12v1h-12zM435 415h12v1h-12zM447 422h12v1h-12zM423 477h12v1h-12zM411 525h12v1h-12zM531 527h12v1h-12z" fill="#f7a25c"/><path d="M411 291h12v1h-12zM495 389h12v1h-12zM495 408h12v1h-12zM495 414h12v1h-12zM507 453h12v1h-12zM531 470h12v1h-12z" fill="#81c566"/><path d="M423 291h12v1h-12zM471 304h12v1h-12zM399 324h12v1h-12zM399 341h12v1h-12zM423 361h12v1h-12zM447 364h12v1h-12zM519 394h12v1h-12zM423 410h12v1h-12zM447 442h12v1h-12zM507 442h12v1h-12zM423 446h12v1h-12zM447 448h12v1h-12zM531 451h12v1h-12zM519 455h12v1h-12zM531 485h12v1h-12z" fill="#84c767"/><path d="M483 291h12v1h-12zM483 301h12v1h-12zM447 343h12v1h-12zM447 404h12v1h-12zM483 426h12v1h-12z" fill="#f9e9a3"/><path d="M495 291h12v1h-12zM483 309h12v1h-12zM495 315h12v1h-12zM531 326h12v1h-12zM411 332h12v1h-12zM519 346h12v1h-12zM471 381h12v1h-12zM459 383h12v1h-12zM483 405h12v1h-12zM471 408h12v1h-12zM471 456h12v1h-12zM435 466h12v1h-12zM459 520h12v1h-12z" fill="#e9f0a0"/><path d="M507 291h12v1h-12zM435 320h12v1h-12zM435 321h12v1h-12zM471 323h12v1h-12zM507 334h12v1h-12zM447 419h12v1h-12zM423 500h12v1h-12zM411 511h12v1h-12zM423 515h12v1h-12z" fill="#fac77b"/><path d="M519 291h12v1h-12zM435 325h12v1h-12zM495 336h12v1h-12zM435 390h12v1h-12zM459 420h12v1h-12zM483 522h12v1h-12z" fill="#fbd285"/><path d="M447 292h12v1h-12zM447 321h12v1h-12z" fill="#e2ef9b"/><path d="M483 292h12v1h-12zM447 340h12v1h-12zM447 384h12v1h-12zM447 460h12v1h-12z" fill="#f1f1a7"/><path d="M495 292h12v1h-12zM399 436h12v1h-12zM435 484h12v1h-12z" fill="#c8e686"/><path d="M507 292h12v1h-12zM447 315h12v1h-12zM459 372h12v1h-12zM399 452h12v1h-12z" fill="#eb7243"/><path d="M519 292h12v1h-12zM519 296h12v1h-12zM447 413h12v1h-12zM399 494h12v1h-12z" fill="#f49353"/><path d="M399 293h12v1h-12zM411 337h12v1h-12zM399 349h12v1h-12zM495 371h12v1h-12zM519 390h12v1h-12zM411 406h12v1h-12zM483 419h12v1h-12zM507 432h12v1h-12zM435 437h12v1h-12zM531 441h12v1h-12zM447 458h12v1h-12zM459 469h12v1h-12zM495 481h12v1h-12z" fill="#8fcc69"/><path d="M435 293h12v1h-12zM459 353h12v1h-12zM531 364h12v1h-12zM507 386h12v1h-12zM447 398h12v1h-12zM447 467h12v1h-12zM471 493h12v1h-12z" fill="#dfef98"/><path d="M447 293h12v1h-12zM435 492h12v1h-12z" fill="#d6ec91"/><path d="M471 293h12v1h-12zM531 361h12v1h-12z" fill="#c1e381"/><path d="M483 293h12v1h-12z" fill="#f5f1aa"/><path d="M507 293h12v1h-12zM399 386h12v1h-12zM399 496h12v1h-12z" fill="#eb7344"/><path d="M519 293h12v1h-12zM471 360h12v1h-12zM447 371h12v1h-12zM459 408h12v1h-12zM399 504h12v1h-12z" fill="#f9ba6f"/><path d="M399 294h12v1h-12zM423 334h12v1h-12zM411 336h12v1h-12zM411 359h12v1h-12zM399 444h12v1h-12zM495 452h12v1h-12z" fill="#9fd36e"/><path d="M435 294h12v1h-12zM459 389h12v1h-12z" fill="#f9e39a"/><path d="M447 294h12v1h-12zM435 307h12v1h-12zM459 344h12v1h-12zM471 409h12v1h-12z" fill="#e8f09f"/><path d="M483 294h12v1h-12zM471 298h12v1h-12zM435 308h12v1h-12zM519 316h12v1h-12zM447 323h12v1h-12zM399 369h12v1h-12zM495 379h12v1h-12zM483 385h12v1h-12zM507 409h12v1h-12zM483 424h12v1h-12zM483 455h12v1h-12z" fill="#dcef95"/><path d="M507 294h12v1h-12zM519 297h12v1h-12zM483 361h12v1h-12zM447 425h12v1h-12z" fill="#f28c4f"/><path d="M519 294h12v1h-12zM495 359h12v1h-12zM411 397h12v1h-12zM423 505h12v1h-12zM411 527h12v1h-12z" fill="#f59c58"/><path d="M399 295h12v1h-12zM411 296h12v1h-12zM495 420h12v1h-12zM531 460h12v1h-12zM519 470h12v1h-12z" fill="#7dc465"/><path d="M411 295h12v1h-12zM411 331h12v1h-12zM507 464h12v1h-12z" fill="#7fc566"/><path d="M423 295h12v1h-12zM495 425h12v1h-12z" fill="#66b85f"/><path d="M435 295h12v1h-12zM471 296h12v1h-12zM483 296h12v1h-12zM483 300h12v1h-12zM459 304h12v1h-12zM483 325h12v1h-12zM531 330h12v1h-12z" fill="#f8f1ad"/><path d="M471 295h12v1h-12zM531 312h12v1h-12zM507 449h12v1h-12zM531 456h12v1h-12zM447 457h12v1h-12zM483 486h12v1h-12zM447 497h12v1h-12z" fill="#9fd36f"/><path d="M483 295h12v1h-12zM459 382h12v1h-12zM531 411h12v1h-12zM423 436h12v1h-12zM435 486h12v1h-12zM483 519h12v1h-12z" fill="#cae787"/><path d="M507 295h12v1h-12zM435 430h12v1h-12zM483 436h12v1h-12z" fill="#ee7b46"/><path d="M519 295h12v1h-12zM471 343h12v1h-12z" fill="#f59956"/><path d="M531 295h12v1h-12zM483 341h12v1h-12zM447 417h12v1h-12zM399 501h12v1h-12zM423 522h12v1h-12z" fill="#fac479"/><path d="M423 296h12v1h-12z" fill="#59b15a"/><path d="M435 296h12v1h-12zM495 337h12v1h-12zM399 503h12v1h-12z" fill="#fbcc80"/><path d="M447 296h12v1h-12zM483 310h12v1h-12zM459 346h12v1h-12zM411 371h12v1h-12zM399 392h12v1h-12z" fill="#eef0a5"/><path d="M507 296h12v1h-12zM495 343h12v1h-12zM447 378h12v1h-12zM435 404h12v1h-12zM423 494h12v1h-12zM411 526h12v1h-12zM399 529h12v.2h-12z" fill="#fbd487"/><path d="M399 297h12v1h-12zM495 307h12v1h-12zM423 313h12v1h-12zM423 341h12v1h-12zM399 347h12v1h-12zM531 487h12v1h-12z" fill="#72be63"/><path d="M423 297h12v1h-12zM423 299h12v1h-12zM411 300h12v1h-12zM495 392h12v1h-12z" fill="#5eb35c"/><path d="M531 297h12v1h-12zM447 325h12v1h-12zM483 346h12v1h-12zM411 394h12v1h-12zM435 423h12v1h-12zM411 459h12v1h-12zM519 527h12v1h-12z" fill="#faca7e"/><path d="M411 298h12v1h-12zM423 303h12v1h-12zM423 338h12v1h-12zM423 344h12v1h-12zM495 388h12v1h-12zM507 451h12v1h-12zM459 457h12v1h-12z" fill="#6ebc61"/><path d="M423 298h12v1h-12z" fill="#5eb45c"/><path d="M435 298h12v1h-12zM519 305h12v1h-12zM447 406h12v1h-12zM507 527h12v1h-12z" fill="#f9b76c"/><path d="M459 298h12v1h-12zM471 317h12v1h-12zM483 324h12v1h-12zM399 334h12v1h-12zM531 340h12v1h-12zM531 346h12v1h-12zM483 381h12v1h-12zM399 440h12v1h-12zM399 443h12v1h-12zM471 494h12v1h-12zM483 509h12v1h-12z" fill="#ecf0a3"/><path d="M411 299h12v1h-12zM531 320h12v1h-12zM399 342h12v1h-12zM411 342h12v1h-12zM411 347h12v1h-12zM507 390h12v1h-12zM531 394h12v1h-12zM531 444h12v1h-12zM459 473h12v1h-12zM483 514h12v1h-12zM471 515h12v1h-12zM495 516h12v1h-12z" fill="#99d06b"/><path d="M435 299h12v1h-12zM519 300h12v1h-12zM471 329h12v1h-12zM507 329h12v1h-12zM495 341h12v1h-12zM471 359h12v1h-12zM483 364h12v1h-12zM399 365h12v1h-12zM447 377h12v1h-12zM399 391h12v1h-12zM411 392h12v1h-12zM435 400h12v1h-12zM483 433h12v1h-12zM411 470h12v1h-12zM411 505h12v1h-12z" fill="#fbd78b"/><path d="M447 299h12v1h-12zM471 316h12v1h-12zM531 412h12v1h-12z" fill="#f4f1a9"/><path d="M459 299h12v1h-12zM399 310h12v1h-12zM495 320h12v1h-12zM447 322h12v1h-12zM519 332h12v1h-12zM507 505h12v1h-12z" fill="#d6ec90"/><path d="M507 299h12v1h-12zM495 438h12v1h-12z" fill="#fadf95"/><path d="M519 299h12v1h-12zM507 308h12v1h-12zM531 311h12v1h-12zM483 319h12v1h-12zM459 404h12v1h-12z" fill="#fac377"/><path d="M531 299h12v1h-12zM507 385h12v1h-12zM411 508h12v1h-12z" fill="#f9e8a2"/><path d="M399 300h12v1h-12z" fill="#5ab15b"/><path d="M435 300h12v1h-12zM459 307h12v1h-12zM447 387h12v1h-12zM447 403h12v1h-12zM459 415h12v1h-12zM483 432h12v1h-12zM411 461h12v1h-12zM447 462h12v1h-12zM411 465h12v1h-12z" fill="#f8f0ac"/><path d="M399 301h12v1h-12z" fill="#5db35c"/><path d="M411 301h12v1h-12zM399 339h12v1h-12z" fill="#5fb45c"/><path d="M423 301h12v1h-12zM423 360h12v1h-12zM531 380h12v1h-12zM399 423h12v1h-12zM447 490h12v1h-12zM435 496h12v1h-12zM435 515h12v1h-12z" fill="#9fd46f"/><path d="M459 301h12v1h-12zM531 328h12v1h-12zM447 385h12v1h-12zM447 434h12v1h-12zM447 503h12v1h-12z" fill="#f9eca6"/><path d="M471 301h12v1h-12zM399 309h12v1h-12zM519 315h12v1h-12zM507 344h12v1h-12zM399 352h12v1h-12zM507 355h12v1h-12zM447 363h12v1h-12zM507 399h12v1h-12zM519 406h12v1h-12zM531 422h12v1h-12zM519 454h12v1h-12zM507 472h12v1h-12zM531 474h12v1h-12zM471 476h12v1h-12zM435 480h12v1h-12zM447 480h12v1h-12zM459 489h12v1h-12zM435 495h12v1h-12zM447 501h12v1h-12zM519 518h12v1h-12zM447 520h12v1h-12zM519 524h12v1h-12z" fill="#c2e482"/><path d="M507 301h12v1h-12zM471 330h12v1h-12zM483 344h12v1h-12zM423 388h12v1h-12zM399 400h12v1h-12z" fill="#fad88d"/><path d="M399 302h12v1h-12z" fill="#2a8f46"/><path d="M411 302h12v1h-12z" fill="#258b44"/><path d="M423 302h12v1h-12zM459 364h12v1h-12zM471 368h12v1h-12zM507 463h12v1h-12z" fill="#67b85f"/><path d="M459 302h12v1h-12zM411 462h12v1h-12z" fill="#f6f1ac"/><path d="M483 302h12v1h-12zM459 303h12v1h-12zM447 444h12v1h-12zM495 449h12v1h-12zM423 493h12v1h-12zM435 503h12v1h-12zM423 511h12v1h-12z" fill="#f3f1a9"/><path d="M507 302h12v1h-12zM471 328h12v1h-12zM471 354h12v1h-12zM495 361h12v1h-12z" fill="#f9b96e"/><path d="M519 302h12v1h-12zM531 303h12v1h-12zM471 315h12v1h-12zM471 325h12v1h-12zM435 446h12v1h-12z" fill="#fbd68a"/><path d="M531 302h12v1h-12zM459 317h12v1h-12zM447 394h12v1h-12z" fill="#f9b96f"/><path d="M399 303h12v1h-12zM423 339h12v1h-12z" fill="#61b55d"/><path d="M507 303h12v1h-12zM507 332h12v1h-12zM471 356h12v1h-12zM447 409h12v1h-12zM495 436h12v1h-12zM483 461h12v1h-12z" fill="#fadb91"/><path d="M519 303h12v1h-12zM495 353h12v1h-12zM447 381h12v1h-12zM459 401h12v1h-12zM399 402h12v1h-12zM411 437h12v1h-12zM423 461h12v1h-12zM411 495h12v1h-12zM531 515h12v1h-12z" fill="#fac378"/><path d="M411 304h12v1h-12zM531 313h12v1h-12zM411 344h12v1h-12zM531 371h12v1h-12zM411 405h12v1h-12zM519 413h12v1h-12zM399 418h12v1h-12zM423 418h12v1h-12zM519 469h12v1h-12zM495 501h12v1h-12zM435 519h12v1h-12z" fill="#94ce6a"/><path d="M495 304h12v1h-12zM423 322h12v1h-12zM507 455h12v1h-12z" fill="#69b960"/><path d="M519 304h12v1h-12zM471 326h12v1h-12zM399 397h12v1h-12zM459 424h12v1h-12zM423 453h12v1h-12z" fill="#f9b56b"/><path d="M435 305h12v1h-12zM495 321h12v1h-12zM519 330h12v1h-12zM507 365h12v1h-12zM423 381h12v1h-12zM507 410h12v1h-12zM471 413h12v1h-12zM483 483h12v1h-12zM435 499h12v1h-12zM447 499h12v1h-12zM507 506h12v1h-12z" fill="#d3eb8e"/><path d="M507 305h12v1h-12zM483 316h12v1h-12zM423 393h12v1h-12zM435 394h12v1h-12zM411 512h12v1h-12zM531 516h12v1h-12z" fill="#fae096"/><path d="M423 306h12v1h-12zM507 361h12v1h-12zM399 371h12v1h-12zM519 378h12v1h-12zM519 397h12v1h-12zM531 399h12v1h-12zM507 401h12v1h-12zM411 413h12v1h-12zM399 438h12v1h-12zM531 466h12v1h-12zM435 474h12v1h-12zM531 478h12v1h-12zM483 497h12v1h-12zM435 511h12v1h-12zM507 520h12v1h-12z" fill="#bce27e"/><path d="M447 306h12v1h-12zM459 306h12v1h-12zM507 310h12v1h-12zM435 324h12v1h-12zM507 336h12v1h-12zM459 421h12v1h-12z" fill="#fbd588"/><path d="M531 306h12v1h-12zM519 308h12v1h-12zM459 311h12v1h-12zM471 335h12v1h-12zM435 378h12v1h-12zM423 481h12v1h-12z" fill="#f59856"/><path d="M411 307h12v1h-12zM423 332h12v1h-12zM423 346h12v1h-12zM423 404h12v1h-12zM495 410h12v1h-12zM459 456h12v1h-12zM519 471h12v1h-12zM435 516h12v1h-12z" fill="#79c264"/><path d="M447 307h12v1h-12zM483 338h12v1h-12zM459 414h12v1h-12zM399 469h12v1h-12z" fill="#f9e59e"/><path d="M399 308h12v1h-12zM531 323h12v1h-12zM411 340h12v1h-12zM423 342h12v1h-12zM423 364h12v1h-12zM519 383h12v1h-12zM399 404h12v1h-12zM531 449h12v1h-12zM435 452h12v1h-12z" fill="#a0d46f"/><path d="M423 308h12v1h-12zM459 366h12v1h-12zM519 446h12v1h-12z" fill="#74bf63"/><path d="M459 308h12v1h-12zM399 364h12v1h-12zM411 484h12v1h-12z" fill="#facb7f"/><path d="M423 309h12v1h-12zM399 315h12v1h-12zM507 397h12v1h-12zM519 402h12v1h-12zM459 443h12v1h-12zM399 446h12v1h-12zM519 458h12v1h-12zM495 460h12v1h-12z" fill="#97cf6b"/><path d="M435 309h12v1h-12zM507 367h12v1h-12zM423 372h12v1h-12zM423 383h12v1h-12zM471 492h12v1h-12z" fill="#e8f0a0"/><path d="M459 309h12v1h-12zM507 333h12v1h-12zM495 348h12v1h-12zM471 353h12v1h-12zM471 365h12v1h-12zM447 435h12v1h-12zM471 444h12v1h-12zM495 458h12v1h-12zM423 459h12v1h-12zM435 462h12v1h-12zM423 476h12v1h-12z" fill="#f8ab62"/><path d="M495 309h12v1h-12zM459 331h12v1h-12zM423 362h12v1h-12zM399 406h12v1h-12zM507 443h12v1h-12zM483 482h12v1h-12zM471 504h12v1h-12z" fill="#9bd16c"/><path d="M519 309h12v1h-12z" fill="#f39252"/><path d="M435 310h12v1h-12zM399 332h12v1h-12zM483 339h12v1h-12zM531 342h12v1h-12zM411 381h12v1h-12zM423 399h12v1h-12zM459 447h12v1h-12zM495 450h12v1h-12zM531 492h12v1h-12z" fill="#f0f0a6"/><path d="M471 310h12v1h-12zM411 314h12v1h-12zM447 337h12v1h-12zM507 345h12v1h-12zM519 430h12v1h-12zM531 436h12v1h-12zM435 501h12v1h-12zM459 509h12v1h-12zM495 519h12v1h-12z" fill="#c7e686"/><path d="M495 310h12v1h-12zM411 316h12v1h-12zM411 377h12v1h-12zM519 382h12v1h-12zM519 393h12v1h-12zM531 420h12v1h-12zM495 422h12v1h-12z" fill="#a1d570"/><path d="M531 310h12v1h-12zM471 336h12v1h-12zM471 347h12v1h-12zM483 352h12v1h-12zM447 373h12v1h-12zM399 489h12v1h-12z" fill="#f8ad64"/><path d="M435 311h12v1h-12zM507 335h12v1h-12zM495 340h12v1h-12zM447 376h12v1h-12zM435 391h12v1h-12zM423 435h12v1h-12zM447 447h12v1h-12zM423 497h12v1h-12zM423 516h12v1h-12zM495 522h12v1h-12z" fill="#fadb90"/><path d="M447 311h12v1h-12zM435 426h12v1h-12z" fill="#e76840"/><path d="M495 311h12v1h-12z" fill="#93cd6a"/><path d="M507 311h12v1h-12z" fill="#f9e29a"/><path d="M519 311h12v1h-12zM531 333h12v1h-12zM507 338h12v1h-12zM495 360h12v1h-12zM459 384h12v1h-12zM435 418h12v1h-12z" fill="#f9b167"/><path d="M399 312h12v1h-12zM399 316h12v1h-12zM507 319h12v1h-12zM531 386h12v1h-12zM459 524h12v1h-12z" fill="#9dd36e"/><path d="M411 312h12v1h-12zM411 357h12v1h-12zM435 361h12v1h-12zM519 365h12v1h-12zM507 373h12v1h-12zM399 375h12v1h-12zM519 375h12v1h-12zM423 400h12v1h-12zM471 400h12v1h-12zM423 414h12v1h-12zM471 415h12v1h-12zM531 421h12v1h-12zM447 436h12v1h-12zM531 443h12v1h-12zM519 449h12v1h-12zM519 450h12v1h-12zM459 464h12v1h-12zM447 469h12v1h-12zM483 471h12v1h-12zM459 474h12v1h-12zM507 475h12v1h-12zM519 475h12v1h-12zM435 488h12v1h-12zM507 502h12v1h-12zM435 509h12v1h-12zM447 511h12v1h-12zM483 520h12v1h-12z" fill="#c0e380"/><path d="M435 312h12v1h-12z" fill="#f9e49b"/><path d="M447 312h12v1h-12zM483 349h12v1h-12zM459 417h12v1h-12zM471 436h12v1h-12zM411 453h12v1h-12zM411 469h12v1h-12z" fill="#f7a35c"/><path d="M471 312h12v1h-12zM399 468h12v1h-12zM519 526h12v1h-12z" fill="#fadf96"/><path d="M399 313h12v1h-12zM423 321h12v1h-12zM399 325h12v1h-12zM423 330h12v1h-12zM411 353h12v1h-12zM531 368h12v1h-12zM531 369h12v1h-12zM495 370h12v1h-12zM495 398h12v1h-12zM519 403h12v1h-12zM495 426h12v1h-12zM447 454h12v1h-12zM435 457h12v1h-12zM435 458h12v1h-12zM519 463h12v1h-12zM447 514h12v1h-12zM459 515h12v1h-12zM495 515h12v1h-12z" fill="#89c968"/><path d="M447 313h12v1h-12zM447 420h12v1h-12z" fill="#f9b067"/><path d="M459 313h12v1h-12zM423 434h12v1h-12zM483 523h12v1h-12z" fill="#f9be73"/><path d="M519 313h12v1h-12zM507 357h12v1h-12zM519 367h12v1h-12zM399 374h12v1h-12zM483 387h12v1h-12zM471 399h12v1h-12zM483 408h12v1h-12zM459 461h12v1h-12zM495 480h12v1h-12zM471 489h12v1h-12zM447 492h12v1h-12z" fill="#cae788"/><path d="M447 314h12v1h-12zM495 338h12v1h-12zM531 517h12v1h-12zM519 525h12v1h-12z" fill="#fbd084"/><path d="M471 314h12v1h-12zM495 342h12v1h-12zM483 365h12v1h-12zM399 390h12v1h-12zM447 428h12v1h-12zM435 460h12v1h-12z" fill="#f9bb70"/><path d="M519 314h12v1h-12zM483 410h12v1h-12zM531 417h12v1h-12zM495 444h12v1h-12zM507 496h12v1h-12z" fill="#bae07c"/><path d="M435 315h12v1h-12zM483 329h12v1h-12zM459 386h12v1h-12zM435 406h12v1h-12zM411 458h12v1h-12zM411 479h12v1h-12zM399 515h12v1h-12z" fill="#f8a960"/><path d="M435 316h12v1h-12zM435 432h12v1h-12z" fill="#e25b3c"/><path d="M447 316h12v1h-12zM435 329h12v1h-12zM411 373h12v1h-12z" fill="#edf0a3"/><path d="M459 316h12v1h-12z" fill="#f08048"/><path d="M507 316h12v1h-12zM459 329h12v1h-12zM471 412h12v1h-12zM399 415h12v1h-12zM507 499h12v1h-12z" fill="#c5e684"/><path d="M411 317h12v1h-12zM411 339h12v1h-12zM411 362h12v1h-12zM459 365h12v1h-12zM531 392h12v1h-12zM459 516h12v1h-12z" fill="#77c164"/><path d="M435 317h12v1h-12z" fill="#f59756"/><path d="M435 318h12v1h-12zM435 429h12v1h-12z" fill="#e66640"/><path d="M447 318h12v1h-12zM495 324h12v1h-12zM531 325h12v1h-12zM483 336h12v1h-12zM507 340h12v1h-12zM411 460h12v1h-12z" fill="#f2f1a8"/><path d="M423 319h12v1h-12zM519 350h12v1h-12zM399 414h12v1h-12zM471 474h12v1h-12zM507 501h12v1h-12zM447 508h12v1h-12zM519 516h12v1h-12zM471 522h12v1h-12zM495 527h12v1h-12z" fill="#b6df7a"/><path d="M435 319h12v1h-12zM399 385h12v1h-12z" fill="#f1844a"/><path d="M459 319h12v1h-12zM471 363h12v1h-12zM399 398h12v1h-12zM423 486h12v1h-12z" fill="#f8a75f"/><path d="M471 319h12v1h-12zM531 332h12v1h-12zM447 429h12v1h-12zM423 433h12v1h-12zM411 439h12v1h-12zM411 516h12v1h-12z" fill="#fade94"/><path d="M423 320h12v1h-12zM435 357h12v1h-12zM435 365h12v1h-12zM531 395h12v1h-12zM531 396h12v1h-12zM519 452h12v1h-12zM447 529h12v.2h-12z" fill="#83c666"/><path d="M459 320h12v1h-12zM459 321h12v1h-12zM495 332h12v1h-12zM519 334h12v1h-12zM483 465h12v1h-12z" fill="#dfef97"/><path d="M483 320h12v1h-12zM495 357h12v1h-12z" fill="#ed7845"/><path d="M519 320h12v1h-12zM423 350h12v1h-12zM531 358h12v1h-12zM471 377h12v1h-12zM495 400h12v1h-12zM399 421h12v1h-12zM519 432h12v1h-12zM447 443h12v1h-12zM447 453h12v1h-12zM507 454h12v1h-12zM507 459h12v1h-12zM519 460h12v1h-12zM459 468h12v1h-12zM459 475h12v1h-12zM531 479h12v1h-12zM435 490h12v1h-12zM459 496h12v1h-12zM483 499h12v1h-12zM459 507h12v1h-12zM519 510h12v1h-12zM435 512h12v1h-12zM459 523h12v1h-12z" fill="#aad974"/><path d="M399 321h12v1h-12zM411 345h12v1h-12zM435 353h12v1h-12zM435 358h12v1h-12zM447 361h12v1h-12zM459 363h12v1h-12zM519 366h12v1h-12zM423 386h12v1h-12zM495 402h12v1h-12zM399 410h12v1h-12zM423 411h12v1h-12zM495 413h12v1h-12zM519 420h12v1h-12zM411 428h12v1h-12zM399 431h12v1h-12zM507 434h12v1h-12zM495 474h12v1h-12zM435 481h12v1h-12zM495 489h12v1h-12zM483 493h12v1h-12zM519 501h12v1h-12z" fill="#acda75"/><path d="M483 321h12v1h-12zM495 354h12v1h-12zM471 355h12v1h-12zM483 356h12v1h-12zM435 370h12v1h-12zM411 396h12v1h-12zM507 406h12v1h-12zM435 421h12v1h-12zM411 497h12v1h-12z" fill="#f9b369"/><path d="M399 322h12v1h-12zM423 326h12v1h-12zM399 329h12v1h-12zM423 336h12v1h-12zM399 340h12v1h-12zM459 359h12v1h-12zM519 360h12v1h-12zM399 361h12v1h-12zM495 374h12v1h-12zM519 391h12v1h-12zM507 395h12v1h-12zM519 401h12v1h-12zM531 418h12v1h-12zM483 515h12v1h-12zM471 527h12v1h-12z" fill="#8bca68"/><path d="M435 322h12v1h-12zM399 528h12v1h-12z" fill="#fbd387"/><path d="M483 322h12v1h-12zM495 363h12v1h-12zM459 392h12v1h-12zM435 411h12v1h-12zM471 447h12v1h-12zM399 517h12v1h-12z" fill="#f59957"/><path d="M435 323h12v1h-12zM471 358h12v1h-12zM399 389h12v1h-12zM459 394h12v1h-12zM435 396h12v1h-12zM483 462h12v1h-12z" fill="#fbd184"/><path d="M483 323h12v1h-12z" fill="#ed7846"/><path d="M459 324h12v1h-12zM447 408h12v1h-12z" fill="#fbd88c"/><path d="M519 324h12v1h-12zM531 354h12v1h-12zM483 500h12v1h-12z" fill="#d6ed91"/><path d="M531 324h12v1h-12zM519 405h12v1h-12z" fill="#d4eb8f"/><path d="M495 325h12v1h-12zM435 328h12v1h-12z" fill="#f5f1ab"/><path d="M459 326h12v1h-12zM483 367h12v1h-12zM459 435h12v1h-12z" fill="#fac176"/><path d="M483 326h12v1h-12zM459 432h12v1h-12z" fill="#fae299"/><path d="M495 326h12v1h-12zM399 459h12v1h-12zM411 503h12v1h-12z" fill="#f8eca7"/><path d="M399 327h12v1h-12zM495 514h12v1h-12z" fill="#74c063"/><path d="M435 327h12v1h-12zM423 463h12v1h-12z" fill="#fac67b"/><path d="M459 327h12v1h-12zM399 367h12v1h-12zM435 393h12v1h-12zM471 518h12v1h-12z" fill="#fac67a"/><path d="M507 327h12v1h-12zM447 349h12v1h-12zM423 358h12v1h-12zM423 370h12v1h-12zM483 409h12v1h-12zM411 442h12v1h-12zM447 482h12v1h-12zM447 513h12v1h-12z" fill="#cae888"/><path d="M495 328h12v1h-12zM519 521h12v1h-12z" fill="#bae17c"/><path d="M507 328h12v1h-12z" fill="#fac277"/><path d="M519 328h12v1h-12zM483 334h12v1h-12zM459 506h12v1h-12z" fill="#e7f09e"/><path d="M495 329h12v1h-12zM447 355h12v1h-12zM495 495h12v1h-12zM459 497h12v1h-12zM495 500h12v1h-12zM471 502h12v1h-12z" fill="#b6df7b"/><path d="M447 330h12v1h-12zM531 349h12v1h-12zM483 402h12v1h-12zM483 417h12v1h-12zM411 446h12v1h-12zM519 473h12v1h-12zM495 512h12v1h-12z" fill="#b6de7a"/><path d="M459 330h12v1h-12zM531 410h12v1h-12z" fill="#a5d772"/><path d="M447 331h12v1h-12zM447 336h12v1h-12zM399 343h12v1h-12zM399 348h12v1h-12zM519 359h12v1h-12zM399 360h12v1h-12zM507 363h12v1h-12zM507 369h12v1h-12zM483 371h12v1h-12zM495 384h12v1h-12zM471 393h12v1h-12zM507 413h12v1h-12zM411 419h12v1h-12zM423 426h12v1h-12zM531 432h12v1h-12zM471 462h12v1h-12zM495 470h12v1h-12zM507 491h12v1h-12zM495 497h12v1h-12zM435 507h12v1h-12zM519 512h12v1h-12zM495 517h12v1h-12zM459 528h12v1h-12z" fill="#abd975"/><path d="M447 332h12v1h-12zM447 344h12v1h-12zM435 345h12v1h-12zM507 358h12v1h-12zM423 401h12v1h-12zM531 433h12v1h-12zM507 483h12v1h-12zM531 483h12v1h-12zM495 492h12v1h-12zM519 507h12v1h-12zM519 511h12v1h-12zM531 518h12v1h-12z" fill="#c3e583"/><path d="M459 332h12v1h-12zM459 349h12v1h-12zM423 379h12v1h-12zM483 454h12v1h-12zM435 468h12v1h-12zM447 495h12v1h-12z" fill="#cbe889"/><path d="M483 332h12v1h-12zM435 342h12v1h-12zM447 386h12v1h-12zM399 393h12v1h-12zM471 396h12v1h-12zM447 399h12v1h-12zM411 443h12v1h-12z" fill="#eef0a4"/><path d="M519 333h12v1h-12z" fill="#eff0a6"/><path d="M435 334h12v1h-12zM531 350h12v1h-12zM459 358h12v1h-12zM483 393h12v1h-12zM483 398h12v1h-12zM507 403h12v1h-12zM471 404h12v1h-12zM507 433h12v1h-12zM495 454h12v1h-12zM531 465h12v1h-12zM459 488h12v1h-12zM519 488h12v1h-12zM495 525h12v1h-12z" fill="#aedb76"/><path d="M459 334h12v1h-12zM507 372h12v1h-12zM495 479h12v1h-12zM519 506h12v1h-12z" fill="#b4de7a"/><path d="M495 334h12v1h-12zM423 368h12v1h-12zM531 493h12v1h-12zM531 503h12v1h-12zM483 507h12v1h-12zM483 521h12v1h-12zM519 522h12v1h-12z" fill="#cfea8c"/><path d="M435 337h12v1h-12zM471 410h12v1h-12zM411 440h12v1h-12z" fill="#e5f09c"/><path d="M471 337h12v1h-12zM495 345h12v1h-12zM411 492h12v1h-12zM399 498h12v1h-12zM399 507h12v1h-12z" fill="#ef7e47"/><path d="M411 338h12v1h-12zM495 419h12v1h-12zM411 420h12v1h-12zM411 429h12v1h-12zM423 429h12v1h-12zM471 431h12v1h-12zM459 522h12v1h-12zM447 527h12v1h-12z" fill="#91cd69"/><path d="M531 338h12v1h-12zM483 384h12v1h-12zM447 400h12v1h-12zM459 431h12v1h-12zM411 509h12v1h-12z" fill="#f6f1ab"/><path d="M447 341h12v1h-12zM531 353h12v1h-12z" fill="#ecf0a2"/><path d="M471 341h12v1h-12z" fill="#e86b41"/><path d="M531 341h12v1h-12zM459 503h12v1h-12z" fill="#f8f0ab"/><path d="M459 342h12v1h-12zM531 406h12v1h-12zM411 425h12v1h-12zM471 451h12v1h-12z" fill="#ebf0a2"/><path d="M471 342h12v1h-12zM435 431h12v1h-12zM411 499h12v1h-12zM399 508h12v1h-12zM399 518h12v1h-12z" fill="#ea7043"/><path d="M507 342h12v1h-12zM411 375h12v1h-12zM435 388h12v1h-12zM447 463h12v1h-12zM399 474h12v1h-12zM507 514h12v1h-12z" fill="#f9e7a0"/><path d="M519 343h12v1h-12zM519 348h12v1h-12zM483 431h12v1h-12zM471 433h12v1h-12zM519 492h12v1h-12zM531 511h12v1h-12zM531 522h12v1h-12z" fill="#c6e684"/><path d="M531 343h12v1h-12zM411 368h12v1h-12zM447 379h12v1h-12zM399 388h12v1h-12zM399 403h12v1h-12zM411 507h12v1h-12z" fill="#f8eda8"/><path d="M495 344h12v1h-12zM471 441h12v1h-12z" fill="#f69e59"/><path d="M423 345h12v1h-12zM495 409h12v1h-12zM411 410h12v1h-12zM471 425h12v1h-12zM531 452h12v1h-12zM519 457h12v1h-12z" fill="#82c666"/><path d="M411 346h12v1h-12zM399 417h12v1h-12zM531 448h12v1h-12zM459 490h12v1h-12zM459 511h12v1h-12z" fill="#a1d46f"/><path d="M495 346h12v1h-12zM423 509h12v1h-12z" fill="#ec7444"/><path d="M495 347h12v1h-12zM447 418h12v1h-12zM423 507h12v1h-12z" fill="#ed7946"/><path d="M447 348h12v1h-12zM519 355h12v1h-12zM423 357h12v1h-12zM423 412h12v1h-12zM531 419h12v1h-12zM447 438h12v1h-12zM519 483h12v1h-12z" fill="#b8e07b"/><path d="M483 348h12v1h-12zM435 392h12v1h-12zM471 442h12v1h-12zM399 478h12v1h-12zM507 529h12v.2h-12z" fill="#f8ac63"/><path d="M471 349h12v1h-12zM459 368h12v1h-12z" fill="#f28d4f"/><path d="M495 349h12v1h-12z" fill="#f9bb71"/><path d="M399 350h12v1h-12zM399 356h12v1h-12zM483 369h12v1h-12zM495 461h12v1h-12zM495 465h12v1h-12zM435 502h12v1h-12zM471 517h12v1h-12z" fill="#a1d470"/><path d="M495 350h12v1h-12zM423 448h12v1h-12zM399 455h12v1h-12z" fill="#f7a55d"/><path d="M471 351h12v1h-12zM483 448h12v1h-12zM435 461h12v1h-12zM399 506h12v1h-12z" fill="#f1874c"/><path d="M495 351h12v1h-12zM411 476h12v1h-12zM423 504h12v1h-12z" fill="#f9b86e"/><path d="M447 352h12v1h-12zM435 354h12v1h-12zM483 403h12v1h-12zM423 425h12v1h-12zM435 443h12v1h-12zM459 449h12v1h-12zM495 467h12v1h-12zM495 484h12v1h-12zM435 485h12v1h-12z" fill="#c2e481"/><path d="M519 352h12v1h-12zM399 380h12v1h-12zM471 411h12v1h-12zM531 434h12v1h-12zM459 466h12v1h-12zM495 483h12v1h-12zM519 515h12v1h-12z" fill="#cee98a"/><path d="M447 353h12v1h-12zM483 389h12v1h-12zM531 393h12v1h-12zM519 422h12v1h-12z" fill="#b2dd79"/><path d="M411 354h12v1h-12zM411 400h12v1h-12zM411 414h12v1h-12zM507 420h12v1h-12zM495 455h12v1h-12zM471 479h12v1h-12zM483 479h12v1h-12zM483 504h12v1h-12z" fill="#b8df7b"/><path d="M423 354h12v1h-12zM519 374h12v1h-12zM531 391h12v1h-12zM423 403h12v1h-12zM399 412h12v1h-12zM507 439h12v1h-12zM423 441h12v1h-12zM483 474h12v1h-12zM447 476h12v1h-12zM507 479h12v1h-12zM519 498h12v1h-12zM519 508h12v1h-12zM471 510h12v1h-12zM459 521h12v1h-12zM531 523h12v1h-12z" fill="#b0dc77"/><path d="M435 355h12v1h-12zM507 416h12v1h-12zM411 430h12v1h-12zM435 441h12v1h-12zM495 453h12v1h-12zM495 464h12v1h-12zM519 472h12v1h-12zM531 482h12v1h-12zM459 483h12v1h-12zM459 487h12v1h-12zM459 491h12v1h-12zM495 493h12v1h-12zM507 498h12v1h-12z" fill="#bce17d"/><path d="M435 356h12v1h-12z" fill="#88c967"/><path d="M483 358h12v1h-12zM495 364h12v1h-12zM483 435h12v1h-12zM423 478h12v1h-12z" fill="#f8ae64"/><path d="M399 359h12v1h-12zM471 386h12v1h-12zM471 419h12v1h-12zM495 431h12v1h-12zM495 486h12v1h-12zM471 529h12v.2h-12z" fill="#90cc69"/><path d="M435 359h12v1h-12zM399 362h12v1h-12zM471 375h12v1h-12zM495 412h12v1h-12zM459 470h12v1h-12z" fill="#97d06b"/><path d="M483 359h12v1h-12zM435 420h12v1h-12zM411 457h12v1h-12zM399 487h12v1h-12zM411 506h12v1h-12z" fill="#f8ae65"/><path d="M459 360h12v1h-12zM459 442h12v1h-12zM507 446h12v1h-12z" fill="#8ac968"/><path d="M423 363h12v1h-12zM531 471h12v1h-12zM447 518h12v1h-12z" fill="#7ec465"/><path d="M435 363h12v1h-12zM411 445h12v1h-12zM399 448h12v1h-12zM507 474h12v1h-12zM483 501h12v1h-12zM483 506h12v1h-12z" fill="#c0e381"/><path d="M483 363h12v1h-12zM435 434h12v1h-12zM411 454h12v1h-12z" fill="#ec7544"/><path d="M399 366h12v1h-12zM435 375h12v1h-12zM471 439h12v1h-12zM483 440h12v1h-12zM399 481h12v1h-12zM423 484h12v1h-12zM399 486h12v1h-12zM411 510h12v1h-12z" fill="#fabf74"/><path d="M447 366h12v1h-12zM519 440h12v1h-12zM459 471h12v1h-12zM471 525h12v1h-12z" fill="#8ccb68"/><path d="M471 366h12v1h-12zM435 399h12v1h-12zM435 407h12v1h-12zM447 415h12v1h-12zM411 474h12v1h-12z" fill="#f9b86d"/><path d="M471 367h12v1h-12zM435 413h12v1h-12zM399 483h12v1h-12z" fill="#f49755"/><path d="M531 367h12v1h-12zM447 439h12v1h-12zM507 473h12v1h-12zM507 482h12v1h-12zM423 512h12v1h-12z" fill="#c3e582"/><path d="M435 368h12v1h-12z" fill="#f39052"/><path d="M495 368h12v1h-12zM495 432h12v1h-12z" fill="#60b55d"/><path d="M447 370h12v1h-12zM483 444h12v1h-12zM435 447h12v1h-12zM411 456h12v1h-12zM399 502h12v1h-12zM411 528h12v1h-12z" fill="#f8af66"/><path d="M423 371h12v1h-12zM471 485h12v1h-12zM519 495h12v1h-12zM483 496h12v1h-12zM519 503h12v1h-12z" fill="#cfea8b"/><path d="M435 373h12v1h-12zM483 442h12v1h-12zM423 455h12v1h-12zM483 463h12v1h-12zM411 471h12v1h-12zM411 496h12v1h-12zM411 498h12v1h-12zM399 523h12v1h-12z" fill="#f7a65e"/><path d="M459 373h12v1h-12z" fill="#dc4f38"/><path d="M531 373h12v1h-12zM519 380h12v1h-12zM507 393h12v1h-12zM423 444h12v1h-12zM519 491h12v1h-12z" fill="#a5d671"/><path d="M447 375h12v1h-12zM399 401h12v1h-12z" fill="#fac57a"/><path d="M459 375h12v1h-12z" fill="#db4d37"/><path d="M531 375h12v1h-12zM471 503h12v1h-12zM435 527h12v1h-12z" fill="#9dd26d"/><path d="M459 376h12v1h-12z" fill="#e0553a"/><path d="M459 377h12v1h-12z" fill="#da4c37"/><path d="M459 378h12v1h-12z" fill="#e1593b"/><path d="M459 379h12v1h-12z" fill="#e76640"/><path d="M531 379h12v1h-12zM471 401h12v1h-12zM495 421h12v1h-12zM423 439h12v1h-12zM483 480h12v1h-12zM483 512h12v1h-12zM435 522h12v1h-12z" fill="#b4dd79"/><path d="M435 380h12v1h-12z" fill="#e1573a"/><path d="M495 380h12v1h-12zM495 407h12v1h-12zM507 441h12v1h-12z" fill="#67b95f"/><path d="M507 380h12v1h-12zM519 395h12v1h-12zM519 410h12v1h-12zM483 526h12v1h-12z" fill="#7dc365"/><path d="M435 381h12v1h-12z" fill="#d84936"/><path d="M435 382h12v1h-12z" fill="#ec7645"/><path d="M411 383h12v1h-12z" fill="#f9e7a1"/><path d="M435 383h12v1h-12z" fill="#dd5038"/><path d="M435 384h12v1h-12zM411 395h12v1h-12zM447 461h12v1h-12z" fill="#f9e49c"/><path d="M435 385h12v1h-12zM411 438h12v1h-12z" fill="#fbce82"/><path d="M399 387h12v1h-12zM411 494h12v1h-12z" fill="#e96e42"/><path d="M459 388h12v1h-12zM435 402h12v1h-12zM399 458h12v1h-12zM411 515h12v1h-12z" fill="#fadc91"/><path d="M411 390h12v1h-12zM483 439h12v1h-12zM411 468h12v1h-12z" fill="#f49253"/><path d="M423 390h12v1h-12z" fill="#f08148"/><path d="M459 390h12v1h-12zM423 394h12v1h-12zM411 436h12v1h-12zM411 480h12v1h-12z" fill="#facc7f"/><path d="M507 391h12v1h-12zM459 439h12v1h-12zM519 514h12v1h-12zM435 528h12v1h-12z" fill="#a3d570"/><path d="M447 392h12v1h-12z" fill="#eb7244"/><path d="M411 393h12v1h-12zM471 520h12v1h-12z" fill="#fadd94"/><path d="M471 395h12v1h-12z" fill="#8ccb69"/><path d="M399 396h12v1h-12zM423 518h12v1h-12z" fill="#f8ad63"/><path d="M507 396h12v1h-12z" fill="#83c667"/><path d="M423 397h12v1h-12zM507 408h12v1h-12zM459 500h12v1h-12z" fill="#d7ed92"/><path d="M435 398h12v1h-12zM447 416h12v1h-12zM447 424h12v1h-12zM423 496h12v1h-12z" fill="#fbd386"/><path d="M399 399h12v1h-12zM435 425h12v1h-12z" fill="#f07f48"/><path d="M435 401h12v1h-12zM435 419h12v1h-12zM483 466h12v1h-12zM531 514h12v1h-12z" fill="#f9e39b"/><path d="M459 402h12v1h-12z" fill="#f9b56a"/><path d="M411 404h12v1h-12zM471 418h12v1h-12zM495 418h12v1h-12z" fill="#81c666"/><path d="M495 404h12v1h-12z" fill="#78c164"/><path d="M531 405h12v1h-12z" fill="#f9e79f"/><path d="M399 408h12v1h-12zM411 412h12v1h-12zM459 451h12v1h-12zM447 486h12v1h-12zM471 528h12v1h-12z" fill="#bee27e"/><path d="M435 410h12v1h-12zM411 475h12v1h-12zM411 482h12v1h-12z" fill="#f08249"/><path d="M495 411h12v1h-12z" fill="#6bba60"/><path d="M459 412h12v1h-12zM435 417h12v1h-12z" fill="#f8eeaa"/><path d="M459 418h12v1h-12z" fill="#e25a3c"/><path d="M411 423h12v1h-12zM447 440h12v1h-12z" fill="#96cf6a"/><path d="M459 423h12v1h-12zM423 460h12v1h-12z" fill="#fae199"/><path d="M459 426h12v1h-12zM399 453h12v1h-12z" fill="#f7a15c"/><path d="M435 427h12v1h-12z" fill="#e5623e"/><path d="M435 428h12v1h-12z" fill="#da4b37"/><path d="M495 428h12v1h-12z" fill="#a9d873"/><path d="M495 429h12v1h-12zM531 504h12v1h-12zM435 525h12v1h-12z" fill="#90cd69"/><path d="M399 432h12v1h-12z" fill="#b0db77"/><path d="M459 433h12v1h-12z" fill="#f9bc72"/><path d="M495 433h12v1h-12z" fill="#7bc265"/><path d="M495 434h12v1h-12z" fill="#70be62"/><path d="M435 435h12v1h-12z" fill="#d54434"/><path d="M459 446h12v1h-12z" fill="#d5ec8f"/><path d="M471 446h12v1h-12z" fill="#ee7b47"/><path d="M471 449h12v1h-12zM435 464h12v1h-12z" fill="#e4f09b"/><path d="M483 450h12v1h-12z" fill="#f6a05a"/><path d="M411 452h12v1h-12zM423 467h12v1h-12zM399 512h12v1h-12z" fill="#e4603e"/><path d="M447 452h12v1h-12z" fill="#95ce6a"/><path d="M423 456h12v1h-12z" fill="#f28b4f"/><path d="M531 462h12v1h-12zM507 510h12v1h-12z" fill="#99d06c"/><path d="M423 464h12v1h-12z" fill="#de5239"/><path d="M483 464h12v1h-12zM507 516h12v1h-12zM399 526h12v1h-12z" fill="#f9e49d"/><path d="M423 465h12v1h-12z" fill="#d84836"/><path d="M423 466h12v1h-12z" fill="#e1583b"/><path d="M471 466h12v1h-12z" fill="#f0f0a7"/><path d="M519 466h12v1h-12zM435 493h12v1h-12z" fill="#acda76"/><path d="M423 468h12v1h-12zM423 473h12v1h-12zM399 520h12v1h-12zM411 522h12v1h-12zM411 523h12v1h-12z" fill="#df5339"/><path d="M423 469h12v1h-12zM411 524h12v1h-12z" fill="#d74735"/><path d="M423 470h12v1h-12zM411 501h12v1h-12z" fill="#e86941"/><path d="M423 471h12v1h-12z" fill="#d94a37"/><path d="M399 472h12v1h-12zM495 523h12v1h-12z" fill="#fad98d"/><path d="M423 472h12v1h-12z" fill="#e86c41"/><path d="M423 474h12v1h-12z" fill="#e76740"/><path d="M423 475h12v1h-12z" fill="#d23f33"/><path d="M423 482h12v1h-12z" fill="#e86a41"/><path d="M423 483h12v1h-12z" fill="#e4603d"/><path d="M447 483h12v1h-12z" fill="#bce27d"/><path d="M471 484h12v1h-12z" fill="#d1ea8c"/><path d="M411 486h12v1h-12z" fill="#f8ab61"/><path d="M411 487h12v1h-12z" fill="#f9b269"/><path d="M423 489h12v1h-12z" fill="#fbcf83"/><path d="M519 489h12v1h-12z" fill="#a7d873"/><path d="M399 490h12v1h-12z" fill="#f8aa60"/><path d="M495 491h12v1h-12z" fill="#a3d671"/><path d="M423 492h12v1h-12zM507 509h12v1h-12z" fill="#e9f0a1"/><path d="M411 493h12v1h-12z" fill="#f1884c"/><path d="M399 495h12v1h-12z" fill="#ea7143"/><path d="M399 497h12v1h-12z" fill="#f38f50"/><path d="M411 502h12v1h-12z" fill="#e0543a"/><path d="M399 509h12v1h-12z" fill="#ee7c47"/><path d="M399 510h12v1h-12z" fill="#e5633e"/><path d="M399 511h12v1h-12z" fill="#d44234"/><path d="M399 513h12v1h-12z" fill="#dc5038"/><path d="M411 517h12v1h-12zM423 523h12v1h-12z" fill="#facc80"/><path d="M411 519h12v1h-12z" fill="#fbcd80"/><path d="M471 519h12v1h-12z" fill="#fac074"/><path d="M399 521h12v1h-12z" fill="#df543a"/><path d="M399 525h12v1h-12z" fill="#fabf73"/><path d="M423 529h12v.2h-12zM519 529h12v.2h-12z" fill="#fbd488"/></g>
<rect x="399" y="263.1" width="36" height="3.4" fill="#e7298a"/>
<rect x="435" y="263.1" width="36" height="3.4" fill="#1b9e77"/>
<rect x="471" y="263.1" width="36" height="3.4" fill="#7570b3"/>
<rect x="507" y="263.1" width="36" height="3.4" fill="#d95f02"/>
<text x="544.3" y="267.3" font-size="4.6" fill="#222">Group</text>
<path d="M405 262.4V254.4H417V262.4M411 254.4V251.8H429V262.4M453 262.4V254.4H465V262.4M441 262.4V253.3H459V254.4M477 262.4V253.3H489V262.4M483 253.3V252.4H501V262.4M525 262.4V255.3H537V262.4M513 262.4V254.5H531V255.3M492 252.4V247.3H522V254.5M450 253.3V244H507V247.3M420 251.8V242.2H478.5V244" fill="none" stroke="#666" stroke-width=".5"/>
<defs><linearGradient id="dg" gradientUnits="userSpaceOnUse" x1="367" y1="0" x2="387" y2="0"><stop offset="0" stop-color="#000" stop-opacity=".35"/><stop offset=".4" stop-color="#000" stop-opacity=".8"/><stop offset=".75" stop-color="#000" stop-opacity=".97"/><stop offset="1" stop-color="#000"/></linearGradient></defs>
<path d="M377.59 269.02L381.65 268.65H397.9V269.98H381.65L377.59 269.62zM377.59 270.38L381.65 270.21H397.9V271.15H381.65L377.59 270.98zM376.99 271.81L381.17 271.38H397.9V272.84H381.17L376.99 272.41zM376.42 273.11L380.72 273.07H397.9V273.75H380.72L376.42 273.71zM376.42 274.41L380.72 273.98H397.9V275.44H380.72L376.42 275.01zM375.82 275.65L380.24 275.67H397.9V276.22H380.24L375.82 276.25zM377.02 276.69L381.2 276.45H397.9V277.52H381.2L377.02 277.29zM377.02 278.05L381.2 277.75H397.9V278.95H381.2L377.02 278.65zM376.42 279.48L380.72 279.18H397.9V280.38H380.72L376.42 280.08zM375.82 281.1L380.24 280.61H397.9V282.2H380.24L375.82 281.7zM377.95 282.86L381.94 282.43H397.9V283.89H381.94L377.95 283.46zM376.25 284.36L380.58 284.12H397.9V285.19H380.58L376.25 284.96zM377.31 285.66L381.42 285.42H397.9V286.49H381.42L377.31 286.26zM378.32 286.82L382.23 286.72H397.9V287.53H382.23L378.32 287.43zM375.54 288.39L380.01 287.76H397.9V289.61H380.01L375.54 288.99zM378.4 289.75L382.3 289.84H397.9V290.26H382.3L378.4 290.35zM376.14 290.72L380.49 290.49H397.9V291.56H380.49L376.14 291.32zM377.31 292.09L381.43 291.79H397.9V292.99H381.43L377.31 292.69zM377.31 293.78L381.43 293.22H397.9V294.94H381.43L377.31 294.38zM375.93 295.67L380.32 295.17H397.9V296.76H380.32L375.93 296.27zM374.94 297.35L379.53 296.99H397.9V298.32H379.53L374.94 297.95zM377.68 298.98L381.73 298.55H397.9V300.01H381.73L377.68 299.58zM377.68 300.47L381.73 300.24H397.9V301.31H381.73L377.68 301.07zM377.79 301.52L381.81 301.54H397.9V302.09H381.81L377.79 302.12zM377.79 302.88L381.81 302.32H397.9V304.04H381.81L377.79 303.48zM377.79 304.77L381.81 304.27H397.9V305.86H381.81L377.79 305.37zM378.98 305.87L382.77 306.09H397.9V306.25H382.77L378.98 306.47zM376.59 306.65L380.85 306.48H397.9V307.42H380.85L376.59 307.25zM376.49 307.89L380.77 307.65H397.9V308.72H380.77L376.49 308.49zM375.23 309.06L379.77 308.95H397.9V309.76H379.77L375.23 309.66zM374.76 310.42L379.39 309.99H397.9V311.45H379.39L374.76 311.02zM377.12 312.18L381.28 311.68H397.9V313.27H381.28L377.12 312.78zM377.72 314L381.76 313.5H397.9V315.09H381.76L377.72 314.6zM377.72 315.81L381.76 315.32H397.9V316.91H381.76L377.72 316.42zM375.53 317.18L380 317.14H397.9V317.82H380L375.53 317.78zM375.67 318.42L380.11 318.05H397.9V319.38H380.11L375.67 319.02zM374.93 320.1L379.52 319.61H397.9V321.2H379.52L374.93 320.7zM375.11 322.06L379.67 321.43H397.9V323.28H379.67L375.11 322.66zM376.39 323.36L380.7 323.51H397.9V323.8H380.7L376.39 323.96zM377.37 324.46L381.47 324.03H397.9V325.49H381.47L377.37 325.06zM376.16 326.02L380.51 325.72H397.9V326.92H380.51L376.16 326.62zM376.16 327.78L380.51 327.15H397.9V329H380.51L376.16 328.38zM378.2 329.46L382.14 329.23H397.9V330.3H382.14L378.2 330.06zM377.96 330.57L381.95 330.53H397.9V331.21H381.95L377.96 331.17zM377.96 331.74L381.95 331.44H397.9V332.64H381.95L377.96 332.34zM377.96 333.3L381.95 332.87H397.9V334.33H381.95L377.96 333.9zM377.36 334.67L381.47 334.56H397.9V335.37H381.47L377.36 335.27zM377.96 336.09L381.95 335.6H397.9V337.19H381.95L377.96 336.69zM377.96 337.66L381.95 337.42H397.9V338.49H381.95L377.96 338.26zM376.76 338.69L380.99 338.72H397.9V339.27H380.99L376.76 339.3zM376.76 339.87L380.99 339.5H397.9V340.83H380.99L376.76 340.47zM376.16 341.3L380.51 341.06H397.9V342.13H380.51L376.16 341.9zM377.76 342.4L381.79 342.36H397.9V343.04H381.79L377.76 343zM377.76 343.57L381.79 343.27H397.9V344.47H381.79L377.76 344.17zM376.76 344.55L380.99 344.7H397.9V344.99H380.99L376.76 345.15zM378.1 345.32L382.06 345.22H397.9V346.03H382.06L378.1 345.93zM376.9 346.56L381.1 346.26H397.9V347.46H381.1L376.9 347.16zM378.87 347.54L382.68 347.69H397.9V347.98H382.68L378.87 348.14zM377.2 348.7L381.34 348.21H397.9V349.8H381.34L377.2 349.31zM377.36 350.46L381.47 350.03H397.9V351.49H381.47L377.36 351.06zM377.61 351.76L381.67 351.72H397.9V352.4H381.67L377.61 352.36zM375.56 352.87L380.03 352.63H397.9V353.7H380.03L375.56 353.47zM376.16 354.17L380.51 353.93H397.9V355H380.51L376.16 354.77zM378.15 355.4L382.1 355.23H397.9V356.17H382.1L378.15 356zM376.99 356.31L381.17 356.4H397.9V356.82H381.17L376.99 356.91zM377.59 357.61L381.65 357.05H397.9V358.77H381.65L377.59 358.21zM377.59 358.78L381.65 359H397.9V359.16H381.65L377.59 359.38zM377.07 359.62L381.23 359.39H397.9V360.46H381.23L377.07 360.23zM374.93 360.93L379.53 360.69H397.9V361.76H379.53L374.93 361.53zM377.65 362.1L381.7 361.99H397.9V362.8H381.7L377.65 362.7zM377.65 363.59L381.7 363.03H397.9V364.75H381.7L377.65 364.19zM377.05 365.21L381.22 364.98H397.9V366.05H381.22L377.05 365.81zM377.93 366.45L381.92 366.28H397.9V367.22H381.92L377.93 367.05zM378.85 367.81L382.66 367.45H397.9V368.78H382.66L378.85 368.42zM378.85 369.31L382.66 369.01H397.9V370.21H382.66L378.85 369.91zM378.85 370.81L382.66 370.44H397.9V371.77H382.66L378.85 371.41zM378.85 372.11L382.66 372H397.9V372.81H382.66L378.85 372.71zM377.65 373.21L381.7 373.04H397.9V373.98H381.7L377.65 373.81zM374.92 374.31L379.51 374.21H397.9V375.02H379.51L374.92 374.92zM377.97 375.42L381.95 375.25H397.9V376.19H381.95L377.97 376.02zM376.79 376.85L381.01 376.42H397.9V377.88H381.01L376.79 377.45zM376.79 378.54L381.01 378.11H397.9V379.57H381.01L376.79 379.14zM375.81 380.3L380.22 379.8H397.9V381.39H380.22L375.81 380.9zM374.53 382.25L379.2 381.62H397.9V383.47H379.2L374.53 382.85zM377.67 384.06L381.71 383.7H397.9V385.03H381.71L377.67 384.67zM377.67 385.37L381.71 385.26H397.9V386.07H381.71L377.67 385.97zM376.09 386.67L380.46 386.3H397.9V387.63H380.46L376.09 387.27zM375.49 388.09L379.98 387.86H397.9V388.93H379.98L375.49 388.69zM376.89 389.4L381.09 389.16H397.9V390.23H381.09L376.89 390zM377.75 390.89L381.78 390.46H397.9V391.92H381.78L377.75 391.49zM376.09 392.58L380.46 392.15H397.9V393.61H380.46L376.09 393.18zM376.81 393.94L381.03 393.84H397.9V394.65H381.03L376.81 394.55zM378.42 394.86L382.32 394.88H397.9V395.43H382.32L378.42 395.46zM378.01 395.9L381.99 395.66H397.9V396.73H381.99L378.01 396.5zM378.01 397L381.99 396.96H397.9V397.64H381.99L378.01 397.6zM376.81 398.43L381.03 397.87H397.9V399.59H381.03L376.81 399.03zM376.81 400.44L381.03 399.82H397.9V401.67H381.03L376.81 401.05zM375.61 402.4L380.07 401.9H397.9V403.49H380.07L375.61 403zM375.52 403.76L380 403.72H397.9V404.4H380L375.52 404.36zM377.07 405.19L381.23 404.63H397.9V406.35H381.23L377.07 405.79zM376.12 406.88L380.48 406.58H397.9V407.78H380.48L376.12 407.48zM376.6 408.64L380.86 408.01H397.9V409.86H380.86L376.6 409.24zM376.41 410L380.71 410.09H397.9V410.51H380.71L376.41 410.6zM378.6 410.65L382.46 410.74H397.9V411.16H382.46L378.6 411.25zM375.46 411.82L379.94 411.39H397.9V412.85H379.94L375.46 412.42zM377.52 412.93L381.6 413.08H397.9V413.37H381.6L377.52 413.53zM377.7 414.09L381.74 413.6H397.9V415.19H381.74L377.7 414.69zM377.7 415.33L381.74 415.42H397.9V415.84H381.74L377.7 415.93zM377.37 415.98L381.48 416.07H397.9V416.49H381.48L377.37 416.58zM377.97 417.21L381.96 416.72H397.9V418.31H381.96L377.97 417.81zM378.48 418.38L382.37 418.54H397.9V418.83H382.37L378.48 418.99zM376.77 419.36L381 419.06H397.9V420.26H381L376.77 419.96zM378.57 420.73L382.44 420.49H397.9V421.56H382.44L378.57 421.33zM378.57 421.83L382.44 421.79H397.9V422.47H382.44L378.57 422.43zM378.57 422.68L382.44 422.7H397.9V423.25H382.44L378.57 423.28zM378.57 423.85L382.44 423.48H397.9V424.81H382.44L378.57 424.45zM377.97 425.01L381.96 425.04H397.9V425.59H381.96L377.97 425.62zM379.17 426.44L382.92 425.82H397.9V427.67H382.92L379.17 427.05zM379.17 428L382.92 427.9H397.9V428.71H382.92L379.17 428.61zM378.57 428.85L382.44 428.94H397.9V429.36H382.44L378.57 429.45zM377.37 429.69L381.48 429.59H397.9V430.4H381.48L377.37 430.3zM377.97 431L381.96 430.63H397.9V431.96H381.96L377.97 431.6zM377.97 432.17L381.96 432.19H397.9V432.74H381.96L377.97 432.77zM378.12 433.53L382.08 432.97H397.9V434.69H382.08L378.12 434.13zM378.43 434.83L382.33 434.92H397.9V435.34H382.33L378.43 435.43zM377.52 435.68L381.6 435.57H397.9V436.38H381.6L377.52 436.28zM377.97 436.46L381.96 436.61H397.9V436.9H381.96L377.97 437.06zM378.57 437.3L382.44 437.13H397.9V438.07H382.44L378.57 437.9zM378.57 438.41L382.44 438.3H397.9V439.11H382.44L378.57 439.01zM377.97 439.51L381.96 439.34H397.9V440.28H381.96L377.97 440.11zM377.97 441.07L381.96 440.51H397.9V442.23H381.96L377.97 441.67zM377.82 443.08L381.84 442.46H397.9V444.31H381.84L377.82 443.69zM377.82 444.84L381.84 444.54H397.9V445.74H381.84L377.82 445.44zM377.82 446.2L381.84 445.97H397.9V447.04H381.84L377.82 446.81zM377.82 447.31L381.84 447.27H397.9V447.95H381.84L377.82 447.91zM378.42 448.55L382.32 448.18H397.9V449.51H382.32L378.42 449.15zM379.02 449.72L382.8 449.74H397.9V450.29H382.8L379.02 450.32zM379.62 450.56L383.28 450.52H397.9V451.2H383.28L379.62 451.16zM379.62 451.67L383.28 451.43H397.9V452.5H383.28L379.62 452.27zM377.82 453.29L381.84 452.73H397.9V454.45H381.84L377.82 453.89zM377.22 455.18L381.36 454.68H397.9V456.27H381.36L377.22 455.78zM377.22 456.48L381.36 456.5H397.9V457.05H381.36L377.22 457.08zM379.02 457.45L382.8 457.28H397.9V458.22H382.8L379.02 458.05zM379.02 458.69L382.8 458.45H397.9V459.52H382.8L379.02 459.29zM378.42 459.6L382.32 459.75H397.9V460.04H382.32L378.42 460.2zM377.82 460.5L381.84 460.27H397.9V461.34H381.84L377.82 461.11zM376.62 461.94L380.88 461.57H397.9V462.9H380.88L376.62 462.54zM378.42 463.04L382.32 463.13H397.9V463.55H382.32L378.42 463.64zM379.02 464.28L382.8 463.78H397.9V465.37H382.8L379.02 464.88zM379.02 465.57L382.8 465.6H397.9V466.15H382.8L379.02 466.18zM377.82 466.42L381.84 466.38H397.9V467.06H381.84L377.82 467.02zM377.22 467.79L381.36 467.29H397.9V468.88H381.36L377.22 468.39zM379.02 469.35L382.8 469.11H397.9V470.18H382.8L379.02 469.95zM380.22 470.51L383.76 470.41H397.9V471.22H383.76L380.22 471.12zM380.22 471.75L383.76 471.45H397.9V472.65H383.76L380.22 472.35zM379.62 473.44L383.28 472.88H397.9V474.6H383.28L379.62 474.04zM379.02 475.19L382.8 474.83H397.9V476.16H382.8L379.02 475.8zM379.02 476.56L382.8 476.39H397.9V477.33H382.8L379.02 477.16zM377.82 478.12L381.84 477.56H397.9V479.28H381.84L377.82 478.72zM379.02 479.36L382.8 479.51H397.9V479.8H382.8L379.02 479.96zM379.62 479.88L383.28 480.03H397.9V480.32H383.28L379.62 480.48zM379.62 481.05L383.28 480.55H397.9V482.14H383.28L379.62 481.65zM380.22 482.93L383.76 482.37H397.9V484.09H383.76L380.22 483.53zM380.22 484.23L383.76 484.32H397.9V484.74H383.76L380.22 484.83zM379.62 485.27L383.28 484.97H397.9V486.17H383.28L379.62 485.87zM379.62 486.31L383.28 486.4H397.9V486.82H383.28L379.62 486.91zM380.22 487.22L383.76 487.05H397.9V487.99H383.76L380.22 487.82zM380.22 488.52L383.76 488.22H397.9V489.42H383.76L380.22 489.12zM378.42 489.56L382.32 489.65H397.9V490.07H382.32L378.42 490.16zM378.42 490.8L382.32 490.3H397.9V491.89H382.32L378.42 491.4zM376 492.16L380.38 492.12H397.9V492.8H380.38L376 492.76zM377.2 493.07L381.34 493.03H397.9V493.71H381.34L377.2 493.67zM377.8 494.18L381.82 493.94H397.9V495.01H381.82L377.8 494.78zM377.8 495.28L381.82 495.24H397.9V495.92H381.82L377.8 495.88zM376.74 496.32L380.97 496.15H397.9V497.09H380.97L376.74 496.92zM378.31 497.3L382.23 497.32H397.9V497.87H382.23L378.31 497.9zM376.73 498.01L380.96 498.1H397.9V498.52H380.96L376.73 498.61zM377.33 498.66L381.44 498.75H397.9V499.17H381.44L377.33 499.26zM377.33 499.9L381.44 499.4H397.9V500.99H381.44L377.33 500.5zM378.13 501.45L382.09 501.22H397.9V502.29H382.09L378.13 502.06zM377.91 502.82L381.91 502.52H397.9V503.72H381.91L377.91 503.42zM377.91 504.25L381.91 503.95H397.9V505.15H381.91L377.91 504.85zM377.72 505.68L381.75 505.38H397.9V506.58H381.75L377.72 506.28zM378.32 506.85L382.23 506.81H397.9V507.49H382.23L378.32 507.45zM378.32 507.95L382.23 507.72H397.9V508.79H382.23L378.32 508.56zM377.72 509.39L381.75 509.02H397.9V510.35H381.75L377.72 509.99zM377.72 511.2L381.75 510.58H397.9V512.43H381.75L377.72 511.81zM378.32 513.22L382.23 512.66H397.9V514.38H382.23L378.32 513.82zM378.32 514.72L382.23 514.61H397.9V515.42H382.23L378.32 515.32zM377.72 516.02L381.75 515.65H397.9V516.98H381.75L377.72 516.62zM377.72 517.71L381.75 517.21H397.9V518.8H381.75L377.72 518.31zM377.72 519.4L381.75 519.03H397.9V520.36H381.75L377.72 520zM377.72 520.63L381.75 520.59H397.9V521.27H381.75L377.72 521.23zM377.72 521.8L381.75 521.5H397.9V522.7H381.75L377.72 522.4zM377.72 523.36L381.75 522.93H397.9V524.39H381.75L377.72 523.96zM378.92 524.47L382.71 524.62H397.9V524.91H382.71L378.92 525.07zM378.92 525.7L382.71 525.14H397.9V526.86H382.71L378.92 526.3zM378.32 527.46L382.23 527.09H397.9V528.42H382.23L378.32 528.05z" fill="url(#dg)"/>
<path d="M376.99 269.32H377.59M376.99 270.68H377.59M376.99 269.32V270.68M376.39 270H376.99M376.39 272.11H376.99M376.39 270V272.11M373.74 271.05H376.39M375.82 273.41H376.42M375.82 274.71H376.42M375.82 273.41V274.71M375.22 274.06H375.82M375.22 275.95H375.82M375.22 274.06V275.95M374.62 275H375.22M376.42 276.99H377.02M376.42 278.35H377.02M376.42 276.99V278.35M375.82 277.67H376.42M375.82 279.78H376.42M375.82 277.67V279.78M375.22 278.72H375.82M375.22 281.4H375.82M375.22 278.72V281.4M374.62 280.06H375.22M374.62 275V280.06M373.74 277.53H374.62M373.74 271.05V277.53M373.14 274.29H373.74M374.34 283.16H377.95M375.65 284.66H376.25M375.65 285.96H377.31M375.65 284.66V285.96M374.34 285.31H375.65M374.34 283.16V285.31M373.74 284.23H374.34M374.94 287.12H378.32M374.94 288.69H375.54M374.94 287.12V288.69M374.34 287.91H374.94M374.34 290.05H378.4M374.34 287.91V290.05M373.74 288.98H374.34M373.74 284.23V288.98M373.14 286.61H373.74M373.14 274.29V286.61M372.54 280.45H373.14M375.54 291.02H376.14M376.71 292.39H377.31M376.71 294.08H377.31M376.71 292.39V294.08M375.54 293.24H376.71M375.54 291.02V293.24M374.94 292.13H375.54M374.94 295.97H375.93M374.94 292.13V295.97M374.34 294.05H374.94M374.34 297.65H374.94M374.34 294.05V297.65M372.54 295.85H374.34M372.54 280.45V295.85M371.94 288.15H372.54M377.08 299.28H377.68M377.08 300.77H377.68M377.08 299.28V300.77M375.39 300.03H377.08M377.19 301.82H377.79M377.19 303.18H377.79M377.19 301.82V303.18M376.59 302.5H377.19M377.19 305.07H377.79M377.19 306.17H378.98M377.19 305.07V306.17M376.59 305.62H377.19M376.59 302.5V305.62M375.99 304.06H376.59M375.99 306.95H376.59M375.99 304.06V306.95M375.39 305.5H375.99M375.39 300.03V305.5M371.94 302.77H375.39M371.94 288.15V302.77M371.34 295.46H371.94M373.66 308.19H376.49M373.66 309.36H375.23M373.66 308.19V309.36M373.06 308.77H373.66M373.06 310.72H374.76M373.06 308.77V310.72M372.46 309.75H373.06M375.84 312.48H377.12M377.12 314.3H377.72M377.12 316.12H377.72M377.12 314.3V316.12M375.84 315.21H377.12M375.84 312.48V315.21M373.73 313.84H375.84M374.93 317.48H375.53M374.93 318.72H375.67M374.93 317.48V318.72M374.33 318.1H374.93M374.33 320.4H374.93M374.33 318.1V320.4M373.73 319.25H374.33M373.73 313.84V319.25M372.46 316.55H373.73M372.46 309.75V316.55M371.34 313.15H372.46M371.34 295.46V313.15M370.26 304.3H371.34M374.36 322.36H375.11M375.56 323.66H376.39M375.56 324.76H377.37M375.56 323.66V324.76M374.96 324.21H375.56M375.56 326.32H376.16M375.56 328.08H376.16M375.56 326.32V328.08M374.96 327.2H375.56M374.96 324.21V327.2M374.36 325.7H374.96M374.36 322.36V325.7M373.76 324.03H374.36M377.36 329.76H378.2M377.36 330.87H377.96M377.36 329.76V330.87M376.76 330.32H377.36M377.36 332.04H377.96M377.36 333.6H377.96M377.36 332.04V333.6M376.76 332.82H377.36M376.76 330.32V332.82M376.16 331.57H376.76M376.76 334.97H377.36M377.36 336.39H377.96M377.36 337.96H377.96M377.36 336.39V337.96M376.76 337.18H377.36M376.76 334.97V337.18M376.16 336.07H376.76M376.16 331.57V336.07M375.56 333.82H376.16M376.16 339H376.76M376.16 340.17H376.76M376.16 339V340.17M375.56 339.58H376.16M375.56 333.82V339.58M374.96 336.7H375.56M375.56 341.6H376.16M377.16 342.7H377.76M377.16 343.87H377.76M377.16 342.7V343.87M376.16 343.29H377.16M376.16 344.85H376.76M376.16 343.29V344.85M375.56 344.07H376.16M375.56 341.6V344.07M374.96 342.83H375.56M374.96 336.7V342.83M374.36 339.76H374.96M374.96 345.62H378.1M376 346.86H376.9M376.6 347.84H378.87M376.6 349H377.2M376.6 347.84V349M376 348.42H376.6M376 346.86V348.42M374.96 347.64H376M374.96 345.62V347.64M374.36 346.63H374.96M374.36 339.76V346.63M373.76 343.2H374.36M373.76 324.03V343.2M373.16 333.61H373.76M373.76 350.76H377.36M374.36 352.06H377.61M374.96 353.17H375.56M375.56 354.47H376.16M375.56 355.7H378.15M375.56 354.47V355.7M374.96 355.08H375.56M374.96 353.17V355.08M374.36 354.12H374.96M374.36 352.06V354.12M373.76 353.09H374.36M373.76 350.76V353.09M373.16 351.93H373.76M373.16 333.61V351.93M370.26 342.77H373.16M370.26 304.3V342.77M369.66 323.54H370.26M376.39 356.61H376.99M376.99 357.91H377.59M376.99 359.08H377.59M376.99 357.91V359.08M376.39 358.5H376.99M376.39 356.61V358.5M373.73 357.55H376.39M374.33 359.93H377.07M374.33 361.23H374.93M374.33 359.93V361.23M373.73 360.58H374.33M373.73 357.55V360.58M370.86 359.06H373.73M377.05 362.4H377.65M377.05 363.89H377.65M377.05 362.4V363.89M376.45 363.14H377.05M376.45 365.51H377.05M376.45 363.14V365.51M375.85 364.33H376.45M376.45 366.75H377.93M378.25 368.12H378.85M378.25 369.61H378.85M378.25 368.12V369.61M377.65 368.86H378.25M378.25 371.11H378.85M378.25 372.41H378.85M378.25 371.11V372.41M377.65 371.75H378.25M377.65 368.86V371.75M377.05 370.31H377.65M377.05 373.51H377.65M377.05 370.31V373.51M376.45 371.91H377.05M376.45 366.75V371.91M375.85 369.33H376.45M375.85 364.33V369.33M372.24 366.83H375.85M374.32 374.62H374.92M374.32 375.72H377.97M374.32 374.62V375.72M372.84 375.17H374.32M376.19 377.15H376.79M376.19 378.84H376.79M376.19 377.15V378.84M375.21 378H376.19M375.21 380.6H375.81M375.21 378V380.6M372.84 379.3H375.21M372.84 375.17V379.3M372.24 377.23H372.84M372.24 366.83V377.23M370.86 372.03H372.24M370.86 359.06V372.03M370.26 365.55H370.86M372.85 382.55H374.53M377.07 384.37H377.67M377.07 385.67H377.67M377.07 384.37V385.67M375.49 385.01H377.07M375.49 386.97H376.09M375.49 385.01V386.97M374.89 385.99H375.49M374.89 388.39H375.49M374.89 385.99V388.39M374.29 387.19H374.89M374.89 389.7H376.89M375.49 391.19H377.75M375.49 392.88H376.09M375.49 391.19V392.88M374.89 392.04H375.49M374.89 389.7V392.04M374.29 390.87H374.89M374.29 387.19V390.87M372.85 389.03H374.29M372.85 382.55V389.03M372.25 385.79H372.85M376.21 394.25H376.81M376.81 395.16H378.42M377.41 396.2H378.01M377.41 397.3H378.01M377.41 396.2V397.3M376.81 396.75H377.41M376.81 395.16V396.75M376.21 395.95H376.81M376.21 394.25V395.95M375.61 395.1H376.21M376.21 398.73H376.81M376.21 400.75H376.81M376.21 398.73V400.75M375.61 399.74H376.21M375.61 395.1V399.74M375.01 397.42H375.61M375.01 402.7H375.61M375.01 397.42V402.7M372.85 400.06H375.01M374.92 404.06H375.52M375.52 405.49H377.07M375.52 407.18H376.12M375.52 405.49V407.18M374.92 406.34H375.52M374.92 404.06V406.34M373.45 405.2H374.92M373.45 408.94H376.6M373.45 405.2V408.94M372.85 407.07H373.45M372.85 400.06V407.07M372.25 403.56H372.85M372.25 385.79V403.56M370.86 394.67H372.25M372.76 410.3H376.41M373.36 410.95H378.6M374.86 412.12H375.46M374.86 413.23H377.52M374.86 412.12V413.23M373.36 412.67H374.86M373.36 410.95V412.67M372.76 411.81H373.36M372.76 410.3V411.81M371.46 411.06H372.76M377.1 414.39H377.7M377.1 415.63H377.7M377.1 414.39V415.63M371.46 415.01H377.1M371.46 411.06V415.01M370.86 413.03H371.46M370.86 394.67V413.03M370.26 403.85H370.86M370.26 365.55V403.85M369.66 384.7H370.26M369.66 323.54V384.7M364.2 354.12H369.66M376.77 416.28H377.37M377.37 417.51H377.97M377.37 418.69H378.48M377.37 417.51V418.69M376.77 418.1H377.37M376.77 416.28V418.1M376.17 417.19H376.77M376.17 419.66H376.77M376.17 417.19V419.66M375.57 418.43H376.17M377.97 421.03H378.57M377.97 422.13H378.57M377.97 421.03V422.13M377.37 421.58H377.97M377.97 422.98H378.57M377.97 424.15H378.57M377.97 422.98V424.15M377.37 423.56H377.97M377.37 421.58V423.56M376.77 422.57H377.37M377.37 425.31H377.97M378.57 426.75H379.17M378.57 428.31H379.17M378.57 426.75V428.31M377.97 427.52H378.57M377.97 429.15H378.57M377.97 427.52V429.15M377.37 428.34H377.97M377.37 425.31V428.34M376.77 426.83H377.37M376.77 422.57V426.83M376.17 424.7H376.77M376.77 430H377.37M377.37 431.3H377.97M377.37 432.47H377.97M377.37 431.3V432.47M376.77 431.88H377.37M376.77 430V431.88M376.17 430.94H376.77M376.17 424.7V430.94M375.57 427.82H376.17M375.57 418.43V427.82M374.82 423.12H375.57M377.52 433.83H378.12M377.52 435.13H378.43M377.52 433.83V435.13M376.92 434.48H377.52M376.92 435.98H377.52M376.92 434.48V435.98M374.82 435.23H376.92M374.82 423.12V435.23M374.22 429.17H374.82M377.37 436.76H377.97M377.97 437.6H378.57M377.97 438.71H378.57M377.97 437.6V438.71M377.37 438.15H377.97M377.37 436.76V438.15M376.77 437.45H377.37M377.37 439.81H377.97M377.37 441.37H377.97M377.37 439.81V441.37M376.77 440.59H377.37M376.77 437.45V440.59M375.42 439.02H376.77M377.22 443.38H377.82M377.22 445.14H377.82M377.22 443.38V445.14M376.62 444.26H377.22M377.22 446.5H377.82M377.22 447.61H377.82M377.22 446.5V447.61M376.62 447.06H377.22M376.62 444.26V447.06M376.02 445.66H376.62M377.82 448.85H378.42M378.42 450.02H379.02M379.02 450.86H379.62M379.02 451.97H379.62M379.02 450.86V451.97M378.42 451.41H379.02M378.42 450.02V451.41M377.82 450.71H378.42M377.82 448.85V450.71M377.22 449.78H377.82M377.22 453.59H377.82M377.22 449.78V453.59M376.62 451.68H377.22M376.62 455.48H377.22M376.62 451.68V455.48M376.02 453.58H376.62M376.02 445.66V453.58M375.42 449.62H376.02M375.42 439.02V449.62M374.82 444.32H375.42M376.62 456.78H377.22M378.42 457.75H379.02M378.42 458.99H379.02M378.42 457.75V458.99M377.82 458.37H378.42M377.82 459.9H378.42M377.82 458.37V459.9M377.22 459.13H377.82M377.22 460.81H377.82M377.22 459.13V460.81M376.62 459.97H377.22M376.62 456.78V459.97M376.02 458.37H376.62M376.02 462.24H376.62M376.02 458.37V462.24M375.42 460.3H376.02M377.82 463.34H378.42M378.42 464.58H379.02M378.42 465.88H379.02M378.42 464.58V465.88M377.82 465.23H378.42M377.82 463.34V465.23M377.22 464.28H377.82M377.22 466.72H377.82M377.22 464.28V466.72M376.62 465.5H377.22M376.62 468.09H377.22M376.62 465.5V468.09M376.02 466.79H376.62M378.42 469.65H379.02M379.62 470.81H380.22M379.62 472.05H380.22M379.62 470.81V472.05M379.02 471.43H379.62M379.02 473.74H379.62M379.02 471.43V473.74M378.42 472.59H379.02M378.42 469.65V472.59M377.82 471.12H378.42M378.42 475.5H379.02M378.42 476.86H379.02M378.42 475.5V476.86M377.82 476.18H378.42M377.82 471.12V476.18M377.22 473.65H377.82M377.22 478.42H377.82M377.22 473.65V478.42M376.62 476.03H377.22M378.42 479.66H379.02M379.02 480.18H379.62M379.02 481.35H379.62M379.02 480.18V481.35M378.42 480.76H379.02M378.42 479.66V480.76M377.82 480.21H378.42M379.62 483.23H380.22M379.62 484.53H380.22M379.62 483.23V484.53M379.02 483.88H379.62M379.02 485.57H379.62M379.02 483.88V485.57M378.42 484.73H379.02M379.02 486.61H379.62M379.62 487.52H380.22M379.62 488.82H380.22M379.62 487.52V488.82M379.02 488.17H379.62M379.02 486.61V488.17M378.42 487.39H379.02M378.42 484.73V487.39M377.82 486.06H378.42M377.82 480.21V486.06M377.22 483.13H377.82M377.82 489.86H378.42M377.82 491.1H378.42M377.82 489.86V491.1M377.22 490.48H377.82M377.22 483.13V490.48M376.62 486.81H377.22M376.62 476.03V486.81M376.02 481.42H376.62M376.02 466.79V481.42M375.42 474.11H376.02M375.42 460.3V474.11M374.82 467.2H375.42M374.82 444.32V467.2M374.22 455.76H374.82M374.22 429.17V455.76M372.14 442.47H374.22M375.4 492.46H376M376.6 493.37H377.2M377.2 494.48H377.8M377.2 495.58H377.8M377.2 494.48V495.58M376.6 495.03H377.2M376.6 493.37V495.03M376 494.2H376.6M376 496.62H376.74M376 494.2V496.62M375.4 495.41H376M375.4 492.46V495.41M374.8 493.93H375.4M375.53 497.6H378.31M376.13 498.31H376.73M376.73 498.96H377.33M376.73 500.2H377.33M376.73 498.96V500.2M376.13 499.58H376.73M376.13 498.31V499.58M375.53 498.94H376.13M375.53 497.6V498.94M374.8 498.27H375.53M374.8 493.93V498.27M372.74 496.1H374.8M376.71 501.75H378.13M377.31 503.12H377.91M377.31 504.55H377.91M377.31 503.12V504.55M376.71 503.84H377.31M376.71 501.75V503.84M375.92 502.8H376.71M377.12 505.98H377.72M377.72 507.15H378.32M377.72 508.25H378.32M377.72 507.15V508.25M377.12 507.7H377.72M377.12 505.98V507.7M376.52 506.84H377.12M377.12 509.69H377.72M377.12 511.5H377.72M377.12 509.69V511.5M376.52 510.6H377.12M376.52 506.84V510.6M375.92 508.72H376.52M375.92 502.8V508.72M375.32 505.76H375.92M377.72 513.52H378.32M377.72 515.02H378.32M377.72 513.52V515.02M377.12 514.27H377.72M377.12 516.32H377.72M377.12 514.27V516.32M376.52 515.29H377.12M377.12 518.01H377.72M377.12 519.7H377.72M377.12 518.01V519.7M376.52 518.85H377.12M376.52 515.29V518.85M375.92 517.07H376.52M377.12 520.93H377.72M377.12 522.1H377.72M377.12 520.93V522.1M376.52 521.52H377.12M377.12 523.66H377.72M378.32 524.77H378.92M378.32 526H378.92M378.32 524.77V526M377.72 525.38H378.32M377.72 527.75H378.32M377.72 525.38V527.75M377.12 526.57H377.72M377.12 523.66V526.57M376.52 525.11H377.12M376.52 521.52V525.11M375.92 523.31H376.52M375.92 517.07V523.31M375.32 520.19H375.92M375.32 505.76V520.19M372.74 512.97H375.32M372.74 496.1V512.97M372.14 504.54H372.74M372.14 442.47V504.54M364.2 473.5H372.14M364.2 354.12V473.5" fill="none" stroke="#222" stroke-width=".4"/>
<text x="546" y="272" font-size="4.6" fill="#222">Z-score</text>
<defs><linearGradient id="zg" x1="0" y1="1" x2="0" y2="0"><stop offset="0" stop-color="#15803d"/><stop offset=".07" stop-color="#58b05a"/><stop offset=".17" stop-color="#73bf63"/><stop offset=".24" stop-color="#98d06b"/><stop offset=".3" stop-color="#bde27e"/><stop offset=".38" stop-color="#dcef95"/><stop offset=".45" stop-color="#f8f1ad"/><stop offset=".53" stop-color="#fbd386"/><stop offset=".6" stop-color="#f8a960"/><stop offset=".66" stop-color="#f08048"/><stop offset=".74" stop-color="#e0553a"/><stop offset=".86" stop-color="#c8302e"/><stop offset="1" stop-color="#a50026"/></linearGradient></defs>
<rect x="545.8" y="275.3" width="7.4" height="85" fill="url(#zg)"/>
<path d="M545.8 276.4h1.3M551.9 276.4h1.3" stroke="#fff" stroke-width=".4"/>
<text x="554.6" y="277.7" font-size="3.6" fill="#111">4</text>
<path d="M545.8 304.5h1.3M551.9 304.5h1.3" stroke="#fff" stroke-width=".4"/>
<text x="554.6" y="305.8" font-size="3.6" fill="#111">2</text>
<path d="M545.8 332.4h1.3M551.9 332.4h1.3" stroke="#fff" stroke-width=".4"/>
<text x="554.6" y="333.7" font-size="3.6" fill="#111">0</text>
<path d="M545.8 359.8h1.3M551.9 359.8h1.3" stroke="#fff" stroke-width=".4"/>
<text x="554.6" y="361.1" font-size="3.6" fill="#111">-2</text>
<text x="571" y="272" font-size="4.6" fill="#222">Group</text>
<rect x="571.2" y="276.5" width="6" height="5.9" fill="#1b9e77"/>
<text x="579.5" y="280.7" font-size="3.6" fill="#333">1Y</text>
<rect x="571.2" y="283.4" width="6" height="5.9" fill="#d95f02"/>
<text x="579.5" y="287.6" font-size="3.6" fill="#333">3Y</text>
<rect x="571.2" y="290.3" width="6" height="5.9" fill="#7570b3"/>
<text x="579.5" y="294.5" font-size="3.6" fill="#333">5Y</text>
<rect x="571.2" y="297.2" width="6" height="5.9" fill="#e7298a"/>
<text x="579.5" y="301.4" font-size="3.6" fill="#333">F</text>
<text transform="translate(403.2 532) rotate(45)" font-size="4.9" fill="#1a1a1a">F_1</text>
<text transform="translate(415.2 532) rotate(45)" font-size="4.9" fill="#1a1a1a">F_2</text>
<text transform="translate(427.2 532) rotate(45)" font-size="4.9" fill="#1a1a1a">F_3</text>
<text transform="translate(439.2 532) rotate(45)" font-size="4.9" fill="#1a1a1a">1Y_2</text>
<text transform="translate(451.2 532) rotate(45)" font-size="4.9" fill="#1a1a1a">1Y_1</text>
<text transform="translate(463.2 532) rotate(45)" font-size="4.9" fill="#1a1a1a">1Y_3</text>
<text transform="translate(475.2 532) rotate(45)" font-size="4.9" fill="#1a1a1a">5Y_1</text>
<text transform="translate(487.2 532) rotate(45)" font-size="4.9" fill="#1a1a1a">5Y_3</text>
<text transform="translate(499.2 532) rotate(45)" font-size="4.9" fill="#1a1a1a">5Y_2</text>
<text transform="translate(511.2 532) rotate(45)" font-size="4.9" fill="#1a1a1a">3Y_1</text>
<text transform="translate(523.2 532) rotate(45)" font-size="4.9" fill="#1a1a1a">3Y_2</text>
<text transform="translate(535.2 532) rotate(45)" font-size="4.9" fill="#1a1a1a">3Y_3</text>
</svg>
</body></html>
